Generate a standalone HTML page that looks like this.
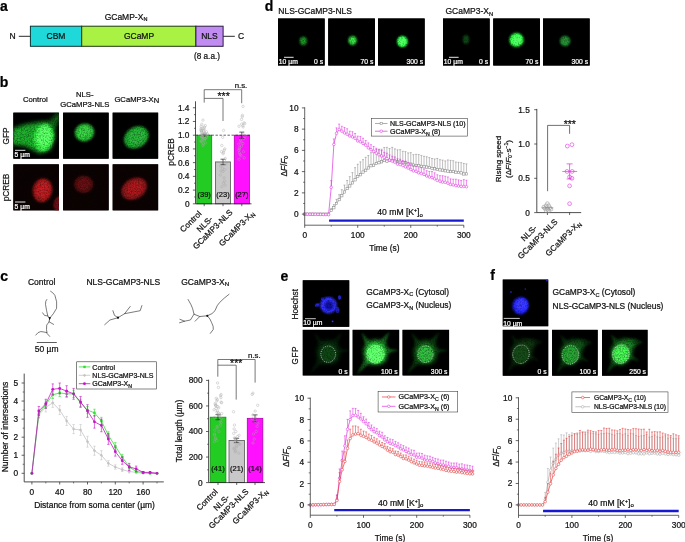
<!DOCTYPE html>
<html lang="en"><head><meta charset="utf-8"><title>GCaMP-XN figure</title>
<style>
html,body{margin:0;padding:0;background:#fff;}
body{width:685px;height:542px;overflow:hidden;font-family:"Liberation Sans",Arial,sans-serif;}
svg{display:block;}
svg text{font-family:"Liberation Sans",Arial,sans-serif;}
</style></head><body>
<svg width="685" height="542" viewBox="0 0 685 542" font-family='"Liberation Sans", Arial, sans-serif'>
<defs>
<filter id="b1" x="-50%" y="-50%" width="200%" height="200%"><feGaussianBlur stdDeviation="1"/></filter>
<filter id="b2" x="-50%" y="-50%" width="200%" height="200%"><feGaussianBlur stdDeviation="2"/></filter>
<filter id="b3" x="-50%" y="-50%" width="200%" height="200%"><feGaussianBlur stdDeviation="3"/></filter>
<filter id="b05" x="-50%" y="-50%" width="200%" height="200%"><feGaussianBlur stdDeviation="0.6"/></filter>
<filter id="noise" x="0" y="0" width="100%" height="100%" color-interpolation-filters="sRGB">
<feTurbulence type="fractalNoise" baseFrequency="0.7" numOctaves="2" seed="5" result="n"/>
<feColorMatrix in="n" type="matrix" values="0.9 0 0 0 0.42  0.9 0 0 0 0.42  0.9 0 0 0 0.42  0 0 0 0 1" result="m"/>
<feComposite in="SourceGraphic" in2="m" operator="arithmetic" k1="1.1" k2="0.05" k3="0" k4="0"/>
</filter>
</defs>
<rect width="685" height="542" fill="#fff"/>
<text x="0.00" y="10.70" font-size="14" text-anchor="start" fill="#000" stroke="#000" stroke-width="0.22" font-weight="bold">a</text>
<text x="-0.20" y="86.80" font-size="14" text-anchor="start" fill="#000" stroke="#000" stroke-width="0.22" font-weight="bold">b</text>
<text x="0.20" y="280.60" font-size="14" text-anchor="start" fill="#000" stroke="#000" stroke-width="0.22" font-weight="bold">c</text>
<text x="264.80" y="10.90" font-size="14" text-anchor="start" fill="#000" stroke="#000" stroke-width="0.22" font-weight="bold">d</text>
<text x="280.40" y="280.60" font-size="14" text-anchor="start" fill="#000" stroke="#000" stroke-width="0.22" font-weight="bold">e</text>
<text x="490.20" y="280.40" font-size="14" text-anchor="start" fill="#000" stroke="#000" stroke-width="0.22" font-weight="bold">f</text>
<text x="126.00" y="19.50" font-size="8.5" text-anchor="middle" fill="#111" stroke="#111" stroke-width="0.22">GCaMP-X<tspan dy="1.8" font-size="5.5">N</tspan><tspan dy="-1.8" font-size="1">&#8203;</tspan></text>
<line x1="18.80" y1="36.30" x2="30.40" y2="36.30" stroke="#111" stroke-width="0.9"/>
<line x1="223.00" y1="36.30" x2="234.80" y2="36.30" stroke="#111" stroke-width="0.9"/>
<rect x="30.40" y="26.20" width="51.30" height="20.10" fill="#1fd8da" stroke="#0c3434" stroke-width="1.0"/>
<rect x="81.70" y="26.20" width="114.20" height="20.10" fill="#a9f244" stroke="#1c3a0c" stroke-width="1.0"/>
<rect x="195.90" y="26.20" width="27.20" height="20.10" fill="#c08cf2" stroke="#2c1c44" stroke-width="1.0"/>
<text x="56.00" y="39.30" font-size="8.5" text-anchor="middle" fill="#111" stroke="#111" stroke-width="0.22">CBM</text>
<text x="139.00" y="39.30" font-size="8.5" text-anchor="middle" fill="#111" stroke="#111" stroke-width="0.22">GCaMP</text>
<text x="209.50" y="39.30" font-size="8.5" text-anchor="middle" fill="#111" stroke="#111" stroke-width="0.22">NLS</text>
<text x="12.50" y="39.30" font-size="8.5" text-anchor="middle" fill="#111" stroke="#111" stroke-width="0.22">N</text>
<text x="241.00" y="39.30" font-size="8.5" text-anchor="middle" fill="#111" stroke="#111" stroke-width="0.22">C</text>
<text x="207.00" y="58.50" font-size="8.2" text-anchor="middle" fill="#111" stroke="#111" stroke-width="0.22">(8 a.a.)</text>
<text x="35.30" y="101.50" font-size="7.7" text-anchor="middle" fill="#111" stroke="#111" stroke-width="0.22">Control</text>
<text x="84.80" y="97.30" font-size="7.7" text-anchor="middle" fill="#111" stroke="#111" stroke-width="0.22">NLS-</text>
<text x="84.80" y="107.20" font-size="7.7" text-anchor="middle" fill="#111" stroke="#111" stroke-width="0.22">GCaMP3-NLS</text>
<text x="136.80" y="101.50" font-size="7.7" text-anchor="middle" fill="#111" stroke="#111" stroke-width="0.22">GCaMP3-X<tspan dy="1.8" font-size="7.6">N</tspan><tspan dy="-1.8" font-size="1">&#8203;</tspan></text>
<text x="9.00" y="136.00" font-size="8.3" text-anchor="middle" fill="#111" stroke="#111" stroke-width="0.22" transform="rotate(-90 9.00 136.00)">GFP</text>
<text x="9.00" y="187.50" font-size="8.3" text-anchor="middle" fill="#111" stroke="#111" stroke-width="0.22" transform="rotate(-90 9.00 187.50)">pCREB</text>
<clipPath id="c1"><rect x="13.30" y="112.60" width="45.60" height="46.10"/></clipPath>
<rect x="13.30" y="112.60" width="45.60" height="46.10" fill="#000" stroke="none" stroke-width="0.7"/>
<g clip-path="url(#c1)"><g filter="url(#noise)">
<rect x="13.30" y="112.60" width="45.60" height="46.10" fill="#000"/>
<polygon points="47.00,123.00 60.00,111.00 60.00,120.00 54.00,130.00" fill="#14701c" opacity="0.8" filter="url(#b2)"/>
<polygon points="12.00,129.00 25.00,124.50 37.00,122.50 47.00,121.50 54.00,128.00 55.00,137.00 50.50,150.00 40.00,153.50 25.00,146.00 12.00,144.50" fill="#1fa42a" opacity="0.95" filter="url(#b2)"/>
<ellipse cx="43.80" cy="137.60" rx="9.8" ry="13.6" fill="#3ade46" opacity="1" transform="rotate(8 43.80 137.60)" filter="url(#b1)"/>
<ellipse cx="44.20" cy="136.50" rx="7" ry="10" fill="#58f862" opacity="0.85" transform="rotate(8 44.20 136.50)" filter="url(#b1)"/>
</g></g>
<clipPath id="c2"><rect x="63.10" y="112.60" width="45.60" height="46.10"/></clipPath>
<rect x="63.10" y="112.60" width="45.60" height="46.10" fill="#000" stroke="none" stroke-width="0.7"/>
<g clip-path="url(#c2)"><g filter="url(#noise)">
<rect x="63.10" y="112.60" width="45.60" height="46.10" fill="#000"/>
<ellipse cx="84.50" cy="132.40" rx="9.8" ry="9.0" fill="#27ac32" opacity="1" transform="rotate(-15 84.50 132.40)" filter="url(#b1)"/>
<ellipse cx="84.50" cy="132.00" rx="6.8" ry="6.0" fill="#38c842" opacity="0.7" transform="rotate(-15 84.50 132.00)" filter="url(#b1)"/>
</g></g>
<clipPath id="c3"><rect x="112.60" y="112.60" width="45.60" height="46.10"/></clipPath>
<rect x="112.60" y="112.60" width="45.60" height="46.10" fill="#000" stroke="none" stroke-width="0.7"/>
<g clip-path="url(#c3)"><g filter="url(#noise)">
<rect x="112.60" y="112.60" width="45.60" height="46.10" fill="#000"/>
<ellipse cx="136.30" cy="137.40" rx="13" ry="10.3" fill="#1e942a" opacity="1" transform="rotate(-32 136.30 137.40)" filter="url(#b1)"/>
<ellipse cx="136.80" cy="137.00" rx="9.5" ry="7.2" fill="#2cac3a" opacity="0.7" transform="rotate(-32 136.80 137.00)" filter="url(#b1)"/>
</g></g>
<clipPath id="c4"><rect x="13.30" y="164.30" width="45.60" height="46.10"/></clipPath>
<rect x="13.30" y="164.30" width="45.60" height="46.10" fill="#0a0202" stroke="none" stroke-width="0.7"/>
<g clip-path="url(#c4)"><g filter="url(#noise)">
<rect x="13.30" y="164.30" width="45.60" height="46.10" fill="#0a0202"/>
<ellipse cx="42.50" cy="190.30" rx="9.8" ry="12.0" fill="#8e1418" opacity="1" transform="rotate(12 42.50 190.30)" filter="url(#b1)"/>
<ellipse cx="42.80" cy="189.60" rx="7" ry="9" fill="#b81c20" opacity="0.75" transform="rotate(12 42.80 189.60)" filter="url(#b1)"/>
<ellipse cx="60.00" cy="205.00" rx="6.5" ry="9" fill="#701014" opacity="0.9" filter="url(#b1)"/>
</g></g>
<clipPath id="c5"><rect x="63.10" y="164.30" width="45.60" height="46.10"/></clipPath>
<rect x="63.10" y="164.30" width="45.60" height="46.10" fill="#0a0202" stroke="none" stroke-width="0.7"/>
<g clip-path="url(#c5)"><g filter="url(#noise)">
<rect x="63.10" y="164.30" width="45.60" height="46.10" fill="#0a0202"/>
<ellipse cx="83.70" cy="184.30" rx="9.6" ry="8.8" fill="#4c0b0e" opacity="1" filter="url(#b1)"/>
<ellipse cx="83.70" cy="184.30" rx="6" ry="5.5" fill="#661014" opacity="0.7" filter="url(#b1)"/>
</g></g>
<clipPath id="c6"><rect x="112.60" y="164.30" width="45.60" height="46.10"/></clipPath>
<rect x="112.60" y="164.30" width="45.60" height="46.10" fill="#0a0202" stroke="none" stroke-width="0.7"/>
<g clip-path="url(#c6)"><g filter="url(#noise)">
<rect x="112.60" y="164.30" width="45.60" height="46.10" fill="#0a0202"/>
<ellipse cx="134.20" cy="188.80" rx="13.6" ry="10.2" fill="#7c1218" opacity="1" transform="rotate(-30 134.20 188.80)" filter="url(#b1)"/>
<ellipse cx="134.50" cy="188.50" rx="9.5" ry="6.8" fill="#a4181e" opacity="0.75" transform="rotate(-30 134.50 188.50)" filter="url(#b1)"/>
</g></g>
<line x1="15.00" y1="150.30" x2="25.40" y2="150.30" stroke="#fff" stroke-width="0.9"/>
<line x1="15.00" y1="202.00" x2="25.40" y2="202.00" stroke="#fff" stroke-width="0.9"/>
<text x="14.60" y="157.20" font-size="6.8" text-anchor="start" fill="#fff" stroke="#fff" stroke-width="0.22">5 µm</text>
<text x="14.60" y="208.90" font-size="6.8" text-anchor="start" fill="#fff" stroke="#fff" stroke-width="0.22">5 µm</text>
<rect x="196.80" y="135.20" width="14.90" height="68.60" fill="#22cc22" stroke="#168a16" stroke-width="0.8"/>
<rect x="215.40" y="161.95" width="15.10" height="41.85" fill="#c8c8c8" stroke="#555" stroke-width="0.8"/>
<rect x="234.30" y="135.20" width="15.10" height="68.60" fill="#ff10ff" stroke="#b000b0" stroke-width="0.8"/>
<line x1="195.50" y1="135.20" x2="251.50" y2="135.20" stroke="#222" stroke-width="0.7" stroke-dasharray="2.4 1.6"/>
<line x1="204.20" y1="134.17" x2="204.20" y2="136.23" stroke="#222" stroke-width="0.7"/>
<line x1="201.70" y1="134.17" x2="206.70" y2="134.17" stroke="#222" stroke-width="0.7"/>
<line x1="201.70" y1="136.23" x2="206.70" y2="136.23" stroke="#222" stroke-width="0.7"/>
<line x1="223.00" y1="159.21" x2="223.00" y2="164.70" stroke="#222" stroke-width="0.7"/>
<line x1="220.50" y1="159.21" x2="225.50" y2="159.21" stroke="#222" stroke-width="0.7"/>
<line x1="220.50" y1="164.70" x2="225.50" y2="164.70" stroke="#222" stroke-width="0.7"/>
<line x1="241.80" y1="132.11" x2="241.80" y2="138.29" stroke="#222" stroke-width="0.7"/>
<line x1="239.30" y1="132.11" x2="244.30" y2="132.11" stroke="#222" stroke-width="0.7"/>
<line x1="239.30" y1="138.29" x2="244.30" y2="138.29" stroke="#222" stroke-width="0.7"/>
<circle cx="202.97" cy="120.11" r="1.2" fill="none" stroke="#a8a8a8" stroke-width="0.5" opacity="0.8"/>
<circle cx="201.76" cy="124.22" r="1.2" fill="none" stroke="#a8a8a8" stroke-width="0.5" opacity="0.8"/>
<circle cx="205.26" cy="125.60" r="1.2" fill="none" stroke="#a8a8a8" stroke-width="0.5" opacity="0.8"/>
<circle cx="201.21" cy="126.28" r="1.2" fill="none" stroke="#a8a8a8" stroke-width="0.5" opacity="0.8"/>
<circle cx="204.45" cy="126.97" r="1.2" fill="none" stroke="#a8a8a8" stroke-width="0.5" opacity="0.8"/>
<circle cx="203.26" cy="128.34" r="1.2" fill="none" stroke="#a8a8a8" stroke-width="0.5" opacity="0.8"/>
<circle cx="201.11" cy="128.34" r="1.2" fill="none" stroke="#a8a8a8" stroke-width="0.5" opacity="0.8"/>
<circle cx="204.25" cy="129.03" r="1.2" fill="none" stroke="#a8a8a8" stroke-width="0.5" opacity="0.8"/>
<circle cx="200.96" cy="129.71" r="1.2" fill="none" stroke="#a8a8a8" stroke-width="0.5" opacity="0.8"/>
<circle cx="203.74" cy="130.40" r="1.2" fill="none" stroke="#a8a8a8" stroke-width="0.5" opacity="0.8"/>
<circle cx="201.19" cy="130.40" r="1.2" fill="none" stroke="#a8a8a8" stroke-width="0.5" opacity="0.8"/>
<circle cx="201.33" cy="131.08" r="1.2" fill="none" stroke="#a8a8a8" stroke-width="0.5" opacity="0.8"/>
<circle cx="203.67" cy="131.77" r="1.2" fill="none" stroke="#a8a8a8" stroke-width="0.5" opacity="0.8"/>
<circle cx="206.49" cy="131.77" r="1.2" fill="none" stroke="#a8a8a8" stroke-width="0.5" opacity="0.8"/>
<circle cx="201.57" cy="132.46" r="1.2" fill="none" stroke="#a8a8a8" stroke-width="0.5" opacity="0.8"/>
<circle cx="202.26" cy="133.14" r="1.2" fill="none" stroke="#a8a8a8" stroke-width="0.5" opacity="0.8"/>
<circle cx="205.09" cy="133.14" r="1.2" fill="none" stroke="#a8a8a8" stroke-width="0.5" opacity="0.8"/>
<circle cx="207.33" cy="133.83" r="1.2" fill="none" stroke="#a8a8a8" stroke-width="0.5" opacity="0.8"/>
<circle cx="204.74" cy="133.83" r="1.2" fill="none" stroke="#a8a8a8" stroke-width="0.5" opacity="0.8"/>
<circle cx="203.48" cy="134.51" r="1.2" fill="none" stroke="#a8a8a8" stroke-width="0.5" opacity="0.8"/>
<circle cx="207.53" cy="135.20" r="1.2" fill="none" stroke="#a8a8a8" stroke-width="0.5" opacity="0.8"/>
<circle cx="201.03" cy="135.20" r="1.2" fill="none" stroke="#a8a8a8" stroke-width="0.5" opacity="0.8"/>
<circle cx="206.71" cy="135.89" r="1.2" fill="none" stroke="#a8a8a8" stroke-width="0.5" opacity="0.8"/>
<circle cx="202.73" cy="135.89" r="1.2" fill="none" stroke="#a8a8a8" stroke-width="0.5" opacity="0.8"/>
<circle cx="201.71" cy="136.57" r="1.2" fill="none" stroke="#a8a8a8" stroke-width="0.5" opacity="0.8"/>
<circle cx="201.52" cy="136.57" r="1.2" fill="none" stroke="#a8a8a8" stroke-width="0.5" opacity="0.8"/>
<circle cx="202.86" cy="137.26" r="1.2" fill="none" stroke="#a8a8a8" stroke-width="0.5" opacity="0.8"/>
<circle cx="206.41" cy="137.26" r="1.2" fill="none" stroke="#a8a8a8" stroke-width="0.5" opacity="0.8"/>
<circle cx="201.97" cy="137.94" r="1.2" fill="none" stroke="#a8a8a8" stroke-width="0.5" opacity="0.8"/>
<circle cx="204.77" cy="138.63" r="1.2" fill="none" stroke="#a8a8a8" stroke-width="0.5" opacity="0.8"/>
<circle cx="205.17" cy="138.63" r="1.2" fill="none" stroke="#a8a8a8" stroke-width="0.5" opacity="0.8"/>
<circle cx="203.31" cy="139.32" r="1.2" fill="none" stroke="#a8a8a8" stroke-width="0.5" opacity="0.8"/>
<circle cx="204.53" cy="140.00" r="1.2" fill="none" stroke="#a8a8a8" stroke-width="0.5" opacity="0.8"/>
<circle cx="201.14" cy="140.69" r="1.2" fill="none" stroke="#a8a8a8" stroke-width="0.5" opacity="0.8"/>
<circle cx="201.12" cy="141.37" r="1.2" fill="none" stroke="#a8a8a8" stroke-width="0.5" opacity="0.8"/>
<circle cx="202.14" cy="142.06" r="1.2" fill="none" stroke="#a8a8a8" stroke-width="0.5" opacity="0.8"/>
<circle cx="205.46" cy="142.75" r="1.2" fill="none" stroke="#a8a8a8" stroke-width="0.5" opacity="0.8"/>
<circle cx="203.69" cy="144.12" r="1.2" fill="none" stroke="#a8a8a8" stroke-width="0.5" opacity="0.8"/>
<circle cx="202.90" cy="145.49" r="1.2" fill="none" stroke="#a8a8a8" stroke-width="0.5" opacity="0.8"/>
<circle cx="223.51" cy="130.40" r="1.2" fill="none" stroke="#a8a8a8" stroke-width="0.5" opacity="0.8"/>
<circle cx="222.72" cy="137.26" r="1.2" fill="none" stroke="#a8a8a8" stroke-width="0.5" opacity="0.8"/>
<circle cx="221.80" cy="145.49" r="1.2" fill="none" stroke="#a8a8a8" stroke-width="0.5" opacity="0.8"/>
<circle cx="224.77" cy="148.92" r="1.2" fill="none" stroke="#a8a8a8" stroke-width="0.5" opacity="0.8"/>
<circle cx="224.19" cy="150.29" r="1.2" fill="none" stroke="#a8a8a8" stroke-width="0.5" opacity="0.8"/>
<circle cx="221.46" cy="151.66" r="1.2" fill="none" stroke="#a8a8a8" stroke-width="0.5" opacity="0.8"/>
<circle cx="223.45" cy="152.35" r="1.2" fill="none" stroke="#a8a8a8" stroke-width="0.5" opacity="0.8"/>
<circle cx="223.15" cy="153.72" r="1.2" fill="none" stroke="#a8a8a8" stroke-width="0.5" opacity="0.8"/>
<circle cx="225.25" cy="158.52" r="1.2" fill="none" stroke="#a8a8a8" stroke-width="0.5" opacity="0.8"/>
<circle cx="224.38" cy="160.58" r="1.2" fill="none" stroke="#a8a8a8" stroke-width="0.5" opacity="0.8"/>
<circle cx="221.73" cy="162.64" r="1.2" fill="none" stroke="#a8a8a8" stroke-width="0.5" opacity="0.8"/>
<circle cx="225.88" cy="164.01" r="1.2" fill="none" stroke="#a8a8a8" stroke-width="0.5" opacity="0.8"/>
<circle cx="220.71" cy="166.07" r="1.2" fill="none" stroke="#a8a8a8" stroke-width="0.5" opacity="0.8"/>
<circle cx="222.51" cy="168.13" r="1.2" fill="none" stroke="#a8a8a8" stroke-width="0.5" opacity="0.8"/>
<circle cx="224.54" cy="169.50" r="1.2" fill="none" stroke="#a8a8a8" stroke-width="0.5" opacity="0.8"/>
<circle cx="220.91" cy="170.87" r="1.2" fill="none" stroke="#a8a8a8" stroke-width="0.5" opacity="0.8"/>
<circle cx="222.93" cy="171.56" r="1.2" fill="none" stroke="#a8a8a8" stroke-width="0.5" opacity="0.8"/>
<circle cx="220.24" cy="174.99" r="1.2" fill="none" stroke="#a8a8a8" stroke-width="0.5" opacity="0.8"/>
<circle cx="224.01" cy="177.73" r="1.2" fill="none" stroke="#a8a8a8" stroke-width="0.5" opacity="0.8"/>
<circle cx="224.59" cy="181.16" r="1.2" fill="none" stroke="#a8a8a8" stroke-width="0.5" opacity="0.8"/>
<circle cx="223.44" cy="183.22" r="1.2" fill="none" stroke="#a8a8a8" stroke-width="0.5" opacity="0.8"/>
<circle cx="225.25" cy="185.28" r="1.2" fill="none" stroke="#a8a8a8" stroke-width="0.5" opacity="0.8"/>
<circle cx="221.88" cy="186.65" r="1.2" fill="none" stroke="#a8a8a8" stroke-width="0.5" opacity="0.8"/>
<circle cx="243.05" cy="106.39" r="1.2" fill="none" stroke="#a8a8a8" stroke-width="0.5" opacity="0.8"/>
<circle cx="242.40" cy="115.31" r="1.2" fill="none" stroke="#a8a8a8" stroke-width="0.5" opacity="0.8"/>
<circle cx="242.31" cy="116.68" r="1.2" fill="none" stroke="#a8a8a8" stroke-width="0.5" opacity="0.8"/>
<circle cx="241.52" cy="119.42" r="1.2" fill="none" stroke="#a8a8a8" stroke-width="0.5" opacity="0.8"/>
<circle cx="243.98" cy="122.85" r="1.2" fill="none" stroke="#a8a8a8" stroke-width="0.5" opacity="0.8"/>
<circle cx="244.65" cy="123.54" r="1.2" fill="none" stroke="#a8a8a8" stroke-width="0.5" opacity="0.8"/>
<circle cx="241.63" cy="124.22" r="1.2" fill="none" stroke="#a8a8a8" stroke-width="0.5" opacity="0.8"/>
<circle cx="242.85" cy="125.60" r="1.2" fill="none" stroke="#a8a8a8" stroke-width="0.5" opacity="0.8"/>
<circle cx="238.99" cy="126.28" r="1.2" fill="none" stroke="#a8a8a8" stroke-width="0.5" opacity="0.8"/>
<circle cx="243.09" cy="126.97" r="1.2" fill="none" stroke="#a8a8a8" stroke-width="0.5" opacity="0.8"/>
<circle cx="242.74" cy="133.83" r="1.2" fill="none" stroke="#a8a8a8" stroke-width="0.5" opacity="0.8"/>
<circle cx="244.96" cy="136.57" r="1.2" fill="none" stroke="#a8a8a8" stroke-width="0.5" opacity="0.8"/>
<circle cx="243.86" cy="138.63" r="1.2" fill="none" stroke="#a8a8a8" stroke-width="0.5" opacity="0.8"/>
<circle cx="240.42" cy="140.00" r="1.2" fill="none" stroke="#a8a8a8" stroke-width="0.5" opacity="0.8"/>
<circle cx="241.07" cy="142.06" r="1.2" fill="none" stroke="#a8a8a8" stroke-width="0.5" opacity="0.8"/>
<circle cx="242.88" cy="143.43" r="1.2" fill="none" stroke="#a8a8a8" stroke-width="0.5" opacity="0.8"/>
<circle cx="238.74" cy="144.12" r="1.2" fill="none" stroke="#a8a8a8" stroke-width="0.5" opacity="0.8"/>
<circle cx="241.55" cy="146.18" r="1.2" fill="none" stroke="#a8a8a8" stroke-width="0.5" opacity="0.8"/>
<circle cx="239.68" cy="147.55" r="1.2" fill="none" stroke="#a8a8a8" stroke-width="0.5" opacity="0.8"/>
<circle cx="239.35" cy="148.92" r="1.2" fill="none" stroke="#a8a8a8" stroke-width="0.5" opacity="0.8"/>
<circle cx="238.98" cy="150.29" r="1.2" fill="none" stroke="#a8a8a8" stroke-width="0.5" opacity="0.8"/>
<circle cx="243.52" cy="151.66" r="1.2" fill="none" stroke="#a8a8a8" stroke-width="0.5" opacity="0.8"/>
<circle cx="239.43" cy="153.04" r="1.2" fill="none" stroke="#a8a8a8" stroke-width="0.5" opacity="0.8"/>
<circle cx="240.18" cy="154.41" r="1.2" fill="none" stroke="#a8a8a8" stroke-width="0.5" opacity="0.8"/>
<circle cx="241.10" cy="155.78" r="1.2" fill="none" stroke="#a8a8a8" stroke-width="0.5" opacity="0.8"/>
<circle cx="244.18" cy="157.84" r="1.2" fill="none" stroke="#a8a8a8" stroke-width="0.5" opacity="0.8"/>
<circle cx="239.12" cy="159.21" r="1.2" fill="none" stroke="#a8a8a8" stroke-width="0.5" opacity="0.8"/>
<line x1="195.50" y1="101.30" x2="195.50" y2="203.80" stroke="#222" stroke-width="0.8"/>
<line x1="195.50" y1="203.80" x2="251.50" y2="203.80" stroke="#222" stroke-width="0.8"/>
<line x1="192.90" y1="203.80" x2="195.50" y2="203.80" stroke="#222" stroke-width="0.7"/>
<text x="189.50" y="206.70" font-size="8.3" text-anchor="end" fill="#111" stroke="#111" stroke-width="0.22">0</text>
<line x1="194.00" y1="196.94" x2="195.50" y2="196.94" stroke="#222" stroke-width="0.6"/>
<line x1="192.90" y1="190.08" x2="195.50" y2="190.08" stroke="#222" stroke-width="0.7"/>
<text x="189.50" y="192.98" font-size="8.3" text-anchor="end" fill="#111" stroke="#111" stroke-width="0.22">0.2</text>
<line x1="194.00" y1="183.22" x2="195.50" y2="183.22" stroke="#222" stroke-width="0.6"/>
<line x1="192.90" y1="176.36" x2="195.50" y2="176.36" stroke="#222" stroke-width="0.7"/>
<text x="189.50" y="179.26" font-size="8.3" text-anchor="end" fill="#111" stroke="#111" stroke-width="0.22">0.4</text>
<line x1="194.00" y1="169.50" x2="195.50" y2="169.50" stroke="#222" stroke-width="0.6"/>
<line x1="192.90" y1="162.64" x2="195.50" y2="162.64" stroke="#222" stroke-width="0.7"/>
<text x="189.50" y="165.54" font-size="8.3" text-anchor="end" fill="#111" stroke="#111" stroke-width="0.22">0.6</text>
<line x1="194.00" y1="155.78" x2="195.50" y2="155.78" stroke="#222" stroke-width="0.6"/>
<line x1="192.90" y1="148.92" x2="195.50" y2="148.92" stroke="#222" stroke-width="0.7"/>
<text x="189.50" y="151.82" font-size="8.3" text-anchor="end" fill="#111" stroke="#111" stroke-width="0.22">0.8</text>
<line x1="194.00" y1="142.06" x2="195.50" y2="142.06" stroke="#222" stroke-width="0.6"/>
<line x1="192.90" y1="135.20" x2="195.50" y2="135.20" stroke="#222" stroke-width="0.7"/>
<text x="189.50" y="138.10" font-size="8.3" text-anchor="end" fill="#111" stroke="#111" stroke-width="0.22">1.0</text>
<line x1="194.00" y1="128.34" x2="195.50" y2="128.34" stroke="#222" stroke-width="0.6"/>
<line x1="192.90" y1="121.48" x2="195.50" y2="121.48" stroke="#222" stroke-width="0.7"/>
<text x="189.50" y="124.38" font-size="8.3" text-anchor="end" fill="#111" stroke="#111" stroke-width="0.22">1.2</text>
<line x1="194.00" y1="114.62" x2="195.50" y2="114.62" stroke="#222" stroke-width="0.6"/>
<line x1="192.90" y1="107.76" x2="195.50" y2="107.76" stroke="#222" stroke-width="0.7"/>
<text x="189.50" y="110.66" font-size="8.3" text-anchor="end" fill="#111" stroke="#111" stroke-width="0.22">1.4</text>
<line x1="204.20" y1="203.80" x2="204.20" y2="206.20" stroke="#222" stroke-width="0.7"/>
<line x1="223.00" y1="203.80" x2="223.00" y2="206.20" stroke="#222" stroke-width="0.7"/>
<line x1="241.80" y1="203.80" x2="241.80" y2="206.20" stroke="#222" stroke-width="0.7"/>
<text x="173.50" y="152.00" font-size="8.2" text-anchor="middle" fill="#111" stroke="#111" stroke-width="0.22" transform="rotate(-90 173.50 152.00)">pCREB</text>
<text x="204.20" y="197.00" font-size="7.5" text-anchor="middle" fill="#111" stroke="#111" stroke-width="0.22">(39)</text>
<text x="223.00" y="197.00" font-size="7.5" text-anchor="middle" fill="#111" stroke="#111" stroke-width="0.22">(23)</text>
<text x="241.80" y="197.00" font-size="7.5" text-anchor="middle" fill="#111" stroke="#111" stroke-width="0.22">(27)</text>
<polyline points="204.20,102.60 204.20,89.70 241.70,89.70 241.70,103.20" fill="none" stroke="#555" stroke-width="0.8" stroke-linejoin="round"/>
<polyline points="204.20,98.40 223.00,98.40 223.00,121.00" fill="none" stroke="#555" stroke-width="0.8" stroke-linejoin="round"/>
<text x="223.60" y="100.20" font-size="10.5" text-anchor="middle" fill="#111" stroke="#111" stroke-width="0.22">***</text>
<text x="241.00" y="88.10" font-size="7.8" text-anchor="middle" fill="#111" stroke="#111" stroke-width="0.22">n.s.</text>
<text x="202.00" y="214.20" font-size="8.2" text-anchor="end" fill="#111" stroke="#111" stroke-width="0.22" transform="rotate(-45 202.00 214.20)">Control</text>
<text x="213.30" y="219.50" font-size="8.2" text-anchor="end" fill="#111" stroke="#111" stroke-width="0.22" transform="rotate(-45 213.30 219.50)">NLS-</text>
<text x="233.20" y="212.80" font-size="8.2" text-anchor="end" fill="#111" stroke="#111" stroke-width="0.22" transform="rotate(-45 233.20 212.80)">GCaMP3-NLS</text>
<text x="255.00" y="214.00" font-size="8.2" text-anchor="end" fill="#111" stroke="#111" stroke-width="0.22" transform="rotate(-45 255.00 214.00)">GCaMP3-X<tspan dy="1.6" font-size="6">N</tspan><tspan dy="-1.6" font-size="1">&#8203;</tspan></text>
<text x="41.70" y="284.50" font-size="8.5" text-anchor="middle" fill="#111" stroke="#111" stroke-width="0.22">Control</text>
<text x="123.30" y="284.50" font-size="8.5" text-anchor="middle" fill="#111" stroke="#111" stroke-width="0.22">NLS-GCaMP3-NLS</text>
<text x="205.20" y="284.50" font-size="8.5" text-anchor="middle" fill="#111" stroke="#111" stroke-width="0.22">GCaMP3-X<tspan dy="1.9" font-size="6.2">N</tspan><tspan dy="-1.9" font-size="1">&#8203;</tspan></text>
<path d="M49.7 318.3 Q53.6 314.1 56.6 308.3 Q57.5 301.8 54.9 295.3 Q53 292.5 50.6 291.2" fill="none" stroke="#222" stroke-width="0.6" stroke-linecap="round" stroke-linejoin="round"/>
<path d="M49.7 318.3 L47.8 316 Q46.5 310.8 45.5 304.4 Q45.3 300.8 46.7 299.5" fill="none" stroke="#222" stroke-width="0.6" stroke-linecap="round" stroke-linejoin="round"/>
<path d="M47.8 316 L44.5 315.4 L42.6 312.8" fill="none" stroke="#222" stroke-width="0.6" stroke-linecap="round" stroke-linejoin="round"/>
<path d="M49.7 318.3 L49.1 321.8 L46.7 325.1 L46.5 329.6 L47.1 333.5 L49.7 336.4" fill="none" stroke="#222" stroke-width="0.6" stroke-linecap="round" stroke-linejoin="round"/>
<path d="M49.1 321.8 L53.6 324.4" fill="none" stroke="#222" stroke-width="0.6" stroke-linecap="round" stroke-linejoin="round"/>
<path d="M46.8 332.6 L43.9 332 Q40.7 330.8 38.1 332.6 L35.8 335.1" fill="none" stroke="#222" stroke-width="0.6" stroke-linecap="round" stroke-linejoin="round"/>
<path d="M48.4 317 L51 317.2 L49.6 320.2 Z" fill="#111"/>
<line x1="36.80" y1="342.50" x2="56.80" y2="342.50" stroke="#333" stroke-width="0.8"/>
<text x="46.70" y="351.80" font-size="8.5" text-anchor="middle" fill="#111" stroke="#111" stroke-width="0.22">50 µm</text>
<path d="M118 317.7 L124.6 313.7 L140.2 310.7 L141.9 305.6" fill="none" stroke="#222" stroke-width="0.6" stroke-linecap="round" stroke-linejoin="round"/>
<path d="M124.6 313.7 L130.2 306.5" fill="none" stroke="#222" stroke-width="0.6" stroke-linecap="round" stroke-linejoin="round"/>
<path d="M118 317.7 L114.5 315.4 L112.9 310.7" fill="none" stroke="#222" stroke-width="0.6" stroke-linecap="round" stroke-linejoin="round"/>
<path d="M118 317.7 L109.9 320 L104.7 324.7" fill="none" stroke="#222" stroke-width="0.6" stroke-linecap="round" stroke-linejoin="round"/>
<circle cx="118.00" cy="317.70" r="1.1" fill="#111" stroke="none" stroke-width="0.6"/>
<path d="M207.3 315.8 Q213 314 215 310.7 Q217 305 219.6 302.5 Q224 298 229 294.3" fill="none" stroke="#222" stroke-width="0.6" stroke-linecap="round" stroke-linejoin="round"/>
<path d="M207.3 315.8 L199.8 316.5 L194 314.2 Q192.8 308 191.1 304.9 L188.1 299.5" fill="none" stroke="#222" stroke-width="0.6" stroke-linecap="round" stroke-linejoin="round"/>
<path d="M199.8 316.5 L195.1 321.2" fill="none" stroke="#222" stroke-width="0.6" stroke-linecap="round" stroke-linejoin="round"/>
<path d="M194 314.2 L190.4 320 L184.6 321.2 L179.5 322.8" fill="none" stroke="#222" stroke-width="0.6" stroke-linecap="round" stroke-linejoin="round"/>
<path d="M184.6 321.2 L179.9 319.3" fill="none" stroke="#222" stroke-width="0.6" stroke-linecap="round" stroke-linejoin="round"/>
<path d="M207.3 315.8 Q210.5 319 211.5 322.4 Q213.8 326.5 213.3 329.4 L210.3 333.4" fill="none" stroke="#222" stroke-width="0.6" stroke-linecap="round" stroke-linejoin="round"/>
<circle cx="207.30" cy="315.80" r="1.1" fill="#111" stroke="none" stroke-width="0.6"/>
<line x1="38.85" y1="410.99" x2="38.85" y2="418.22" stroke="#c4c4c4" stroke-width="0.6"/>
<line x1="37.65" y1="410.99" x2="40.05" y2="410.99" stroke="#c4c4c4" stroke-width="0.6"/>
<line x1="37.65" y1="418.22" x2="40.05" y2="418.22" stroke="#c4c4c4" stroke-width="0.6"/>
<line x1="45.80" y1="402.87" x2="45.80" y2="411.90" stroke="#c4c4c4" stroke-width="0.6"/>
<line x1="44.60" y1="402.87" x2="47.00" y2="402.87" stroke="#c4c4c4" stroke-width="0.6"/>
<line x1="44.60" y1="411.90" x2="47.00" y2="411.90" stroke="#c4c4c4" stroke-width="0.6"/>
<line x1="52.75" y1="398.35" x2="52.75" y2="407.38" stroke="#c4c4c4" stroke-width="0.6"/>
<line x1="51.55" y1="398.35" x2="53.95" y2="398.35" stroke="#c4c4c4" stroke-width="0.6"/>
<line x1="51.55" y1="407.38" x2="53.95" y2="407.38" stroke="#c4c4c4" stroke-width="0.6"/>
<line x1="59.70" y1="405.58" x2="59.70" y2="414.61" stroke="#c4c4c4" stroke-width="0.6"/>
<line x1="58.50" y1="405.58" x2="60.90" y2="405.58" stroke="#c4c4c4" stroke-width="0.6"/>
<line x1="58.50" y1="414.61" x2="60.90" y2="414.61" stroke="#c4c4c4" stroke-width="0.6"/>
<line x1="66.65" y1="416.41" x2="66.65" y2="425.44" stroke="#c4c4c4" stroke-width="0.6"/>
<line x1="65.45" y1="416.41" x2="67.85" y2="416.41" stroke="#c4c4c4" stroke-width="0.6"/>
<line x1="65.45" y1="425.44" x2="67.85" y2="425.44" stroke="#c4c4c4" stroke-width="0.6"/>
<line x1="73.60" y1="424.54" x2="73.60" y2="433.57" stroke="#c4c4c4" stroke-width="0.6"/>
<line x1="72.40" y1="424.54" x2="74.80" y2="424.54" stroke="#c4c4c4" stroke-width="0.6"/>
<line x1="72.40" y1="433.57" x2="74.80" y2="433.57" stroke="#c4c4c4" stroke-width="0.6"/>
<line x1="80.55" y1="424.54" x2="80.55" y2="435.37" stroke="#c4c4c4" stroke-width="0.6"/>
<line x1="79.35" y1="424.54" x2="81.75" y2="424.54" stroke="#c4c4c4" stroke-width="0.6"/>
<line x1="79.35" y1="435.37" x2="81.75" y2="435.37" stroke="#c4c4c4" stroke-width="0.6"/>
<line x1="87.50" y1="436.28" x2="87.50" y2="447.11" stroke="#c4c4c4" stroke-width="0.6"/>
<line x1="86.30" y1="436.28" x2="88.70" y2="436.28" stroke="#c4c4c4" stroke-width="0.6"/>
<line x1="86.30" y1="447.11" x2="88.70" y2="447.11" stroke="#c4c4c4" stroke-width="0.6"/>
<line x1="94.45" y1="446.21" x2="94.45" y2="455.24" stroke="#c4c4c4" stroke-width="0.6"/>
<line x1="93.25" y1="446.21" x2="95.65" y2="446.21" stroke="#c4c4c4" stroke-width="0.6"/>
<line x1="93.25" y1="455.24" x2="95.65" y2="455.24" stroke="#c4c4c4" stroke-width="0.6"/>
<line x1="101.40" y1="450.73" x2="101.40" y2="459.75" stroke="#c4c4c4" stroke-width="0.6"/>
<line x1="100.20" y1="450.73" x2="102.60" y2="450.73" stroke="#c4c4c4" stroke-width="0.6"/>
<line x1="100.20" y1="459.75" x2="102.60" y2="459.75" stroke="#c4c4c4" stroke-width="0.6"/>
<line x1="108.35" y1="460.66" x2="108.35" y2="466.08" stroke="#c4c4c4" stroke-width="0.6"/>
<line x1="107.15" y1="460.66" x2="109.55" y2="460.66" stroke="#c4c4c4" stroke-width="0.6"/>
<line x1="107.15" y1="466.08" x2="109.55" y2="466.08" stroke="#c4c4c4" stroke-width="0.6"/>
<line x1="115.30" y1="464.81" x2="115.30" y2="469.15" stroke="#c4c4c4" stroke-width="0.6"/>
<line x1="114.10" y1="464.81" x2="116.50" y2="464.81" stroke="#c4c4c4" stroke-width="0.6"/>
<line x1="114.10" y1="469.15" x2="116.50" y2="469.15" stroke="#c4c4c4" stroke-width="0.6"/>
<line x1="122.25" y1="467.88" x2="122.25" y2="471.49" stroke="#c4c4c4" stroke-width="0.6"/>
<line x1="121.05" y1="467.88" x2="123.45" y2="467.88" stroke="#c4c4c4" stroke-width="0.6"/>
<line x1="121.05" y1="471.49" x2="123.45" y2="471.49" stroke="#c4c4c4" stroke-width="0.6"/>
<line x1="129.20" y1="470.05" x2="129.20" y2="472.94" stroke="#c4c4c4" stroke-width="0.6"/>
<line x1="128.00" y1="470.05" x2="130.40" y2="470.05" stroke="#c4c4c4" stroke-width="0.6"/>
<line x1="128.00" y1="472.94" x2="130.40" y2="472.94" stroke="#c4c4c4" stroke-width="0.6"/>
<line x1="136.15" y1="471.49" x2="136.15" y2="473.30" stroke="#c4c4c4" stroke-width="0.6"/>
<line x1="134.95" y1="471.49" x2="137.35" y2="471.49" stroke="#c4c4c4" stroke-width="0.6"/>
<line x1="134.95" y1="473.30" x2="137.35" y2="473.30" stroke="#c4c4c4" stroke-width="0.6"/>
<polyline points="31.90,473.30 38.85,414.61 45.80,407.38 52.75,402.87 59.70,410.09 66.65,420.93 73.60,429.05 80.55,429.96 87.50,441.69 94.45,450.73 101.40,455.24 108.35,463.37 115.30,466.98 122.25,469.69 129.20,471.49 136.15,472.40 143.10,473.30 150.05,473.30 157.00,473.30" fill="none" stroke="#c4c4c4" stroke-width="0.8" stroke-linejoin="round"/>
<path d="M31.90 471.70 L33.50 473.30 L31.90 474.90 L30.30 473.30 Z" fill="#c4c4c4"/>
<path d="M38.85 413.00 L40.45 414.61 L38.85 416.21 L37.25 414.61 Z" fill="#c4c4c4"/>
<path d="M45.80 405.78 L47.40 407.38 L45.80 408.98 L44.20 407.38 Z" fill="#c4c4c4"/>
<path d="M52.75 401.27 L54.35 402.87 L52.75 404.47 L51.15 402.87 Z" fill="#c4c4c4"/>
<path d="M59.70 408.49 L61.30 410.09 L59.70 411.69 L58.10 410.09 Z" fill="#c4c4c4"/>
<path d="M66.65 419.33 L68.25 420.93 L66.65 422.53 L65.05 420.93 Z" fill="#c4c4c4"/>
<path d="M73.60 427.45 L75.20 429.05 L73.60 430.65 L72.00 429.05 Z" fill="#c4c4c4"/>
<path d="M80.55 428.36 L82.15 429.96 L80.55 431.56 L78.95 429.96 Z" fill="#c4c4c4"/>
<path d="M87.50 440.09 L89.10 441.69 L87.50 443.30 L85.90 441.69 Z" fill="#c4c4c4"/>
<path d="M94.45 449.12 L96.05 450.73 L94.45 452.33 L92.85 450.73 Z" fill="#c4c4c4"/>
<path d="M101.40 453.64 L103.00 455.24 L101.40 456.84 L99.80 455.24 Z" fill="#c4c4c4"/>
<path d="M108.35 461.77 L109.95 463.37 L108.35 464.97 L106.75 463.37 Z" fill="#c4c4c4"/>
<path d="M115.30 465.38 L116.90 466.98 L115.30 468.58 L113.70 466.98 Z" fill="#c4c4c4"/>
<path d="M122.25 468.09 L123.85 469.69 L122.25 471.29 L120.65 469.69 Z" fill="#c4c4c4"/>
<path d="M129.20 469.89 L130.80 471.49 L129.20 473.09 L127.60 471.49 Z" fill="#c4c4c4"/>
<path d="M136.15 470.80 L137.75 472.40 L136.15 474.00 L134.55 472.40 Z" fill="#c4c4c4"/>
<path d="M143.10 471.70 L144.70 473.30 L143.10 474.90 L141.50 473.30 Z" fill="#c4c4c4"/>
<path d="M150.05 471.70 L151.65 473.30 L150.05 474.90 L148.45 473.30 Z" fill="#c4c4c4"/>
<path d="M157.00 471.70 L158.60 473.30 L157.00 474.90 L155.40 473.30 Z" fill="#c4c4c4"/>
<line x1="38.85" y1="410.09" x2="38.85" y2="417.31" stroke="#33dd33" stroke-width="0.6"/>
<line x1="37.65" y1="410.09" x2="40.05" y2="410.09" stroke="#33dd33" stroke-width="0.6"/>
<line x1="37.65" y1="417.31" x2="40.05" y2="417.31" stroke="#33dd33" stroke-width="0.6"/>
<line x1="45.80" y1="401.06" x2="45.80" y2="408.28" stroke="#33dd33" stroke-width="0.6"/>
<line x1="44.60" y1="401.06" x2="47.00" y2="401.06" stroke="#33dd33" stroke-width="0.6"/>
<line x1="44.60" y1="408.28" x2="47.00" y2="408.28" stroke="#33dd33" stroke-width="0.6"/>
<line x1="52.75" y1="391.13" x2="52.75" y2="398.35" stroke="#33dd33" stroke-width="0.6"/>
<line x1="51.55" y1="391.13" x2="53.95" y2="391.13" stroke="#33dd33" stroke-width="0.6"/>
<line x1="51.55" y1="398.35" x2="53.95" y2="398.35" stroke="#33dd33" stroke-width="0.6"/>
<line x1="59.70" y1="389.32" x2="59.70" y2="396.55" stroke="#33dd33" stroke-width="0.6"/>
<line x1="58.50" y1="389.32" x2="60.90" y2="389.32" stroke="#33dd33" stroke-width="0.6"/>
<line x1="58.50" y1="396.55" x2="60.90" y2="396.55" stroke="#33dd33" stroke-width="0.6"/>
<line x1="66.65" y1="390.22" x2="66.65" y2="397.45" stroke="#33dd33" stroke-width="0.6"/>
<line x1="65.45" y1="390.22" x2="67.85" y2="390.22" stroke="#33dd33" stroke-width="0.6"/>
<line x1="65.45" y1="397.45" x2="67.85" y2="397.45" stroke="#33dd33" stroke-width="0.6"/>
<line x1="73.60" y1="390.22" x2="73.60" y2="397.45" stroke="#33dd33" stroke-width="0.6"/>
<line x1="72.40" y1="390.22" x2="74.80" y2="390.22" stroke="#33dd33" stroke-width="0.6"/>
<line x1="72.40" y1="397.45" x2="74.80" y2="397.45" stroke="#33dd33" stroke-width="0.6"/>
<line x1="80.55" y1="399.25" x2="80.55" y2="406.48" stroke="#33dd33" stroke-width="0.6"/>
<line x1="79.35" y1="399.25" x2="81.75" y2="399.25" stroke="#33dd33" stroke-width="0.6"/>
<line x1="79.35" y1="406.48" x2="81.75" y2="406.48" stroke="#33dd33" stroke-width="0.6"/>
<line x1="87.50" y1="406.48" x2="87.50" y2="413.70" stroke="#33dd33" stroke-width="0.6"/>
<line x1="86.30" y1="406.48" x2="88.70" y2="406.48" stroke="#33dd33" stroke-width="0.6"/>
<line x1="86.30" y1="413.70" x2="88.70" y2="413.70" stroke="#33dd33" stroke-width="0.6"/>
<line x1="94.45" y1="409.19" x2="94.45" y2="416.41" stroke="#33dd33" stroke-width="0.6"/>
<line x1="93.25" y1="409.19" x2="95.65" y2="409.19" stroke="#33dd33" stroke-width="0.6"/>
<line x1="93.25" y1="416.41" x2="95.65" y2="416.41" stroke="#33dd33" stroke-width="0.6"/>
<line x1="101.40" y1="417.31" x2="101.40" y2="424.54" stroke="#33dd33" stroke-width="0.6"/>
<line x1="100.20" y1="417.31" x2="102.60" y2="417.31" stroke="#33dd33" stroke-width="0.6"/>
<line x1="100.20" y1="424.54" x2="102.60" y2="424.54" stroke="#33dd33" stroke-width="0.6"/>
<line x1="108.35" y1="431.76" x2="108.35" y2="438.99" stroke="#33dd33" stroke-width="0.6"/>
<line x1="107.15" y1="431.76" x2="109.55" y2="431.76" stroke="#33dd33" stroke-width="0.6"/>
<line x1="107.15" y1="438.99" x2="109.55" y2="438.99" stroke="#33dd33" stroke-width="0.6"/>
<line x1="115.30" y1="442.60" x2="115.30" y2="449.82" stroke="#33dd33" stroke-width="0.6"/>
<line x1="114.10" y1="442.60" x2="116.50" y2="442.60" stroke="#33dd33" stroke-width="0.6"/>
<line x1="114.10" y1="449.82" x2="116.50" y2="449.82" stroke="#33dd33" stroke-width="0.6"/>
<line x1="122.25" y1="454.34" x2="122.25" y2="459.75" stroke="#33dd33" stroke-width="0.6"/>
<line x1="121.05" y1="454.34" x2="123.45" y2="454.34" stroke="#33dd33" stroke-width="0.6"/>
<line x1="121.05" y1="459.75" x2="123.45" y2="459.75" stroke="#33dd33" stroke-width="0.6"/>
<line x1="129.20" y1="465.17" x2="129.20" y2="468.78" stroke="#33dd33" stroke-width="0.6"/>
<line x1="128.00" y1="465.17" x2="130.40" y2="465.17" stroke="#33dd33" stroke-width="0.6"/>
<line x1="128.00" y1="468.78" x2="130.40" y2="468.78" stroke="#33dd33" stroke-width="0.6"/>
<line x1="136.15" y1="470.59" x2="136.15" y2="472.40" stroke="#33dd33" stroke-width="0.6"/>
<line x1="134.95" y1="470.59" x2="137.35" y2="470.59" stroke="#33dd33" stroke-width="0.6"/>
<line x1="134.95" y1="472.40" x2="137.35" y2="472.40" stroke="#33dd33" stroke-width="0.6"/>
<line x1="143.10" y1="471.49" x2="143.10" y2="473.30" stroke="#33dd33" stroke-width="0.6"/>
<line x1="141.90" y1="471.49" x2="144.30" y2="471.49" stroke="#33dd33" stroke-width="0.6"/>
<line x1="141.90" y1="473.30" x2="144.30" y2="473.30" stroke="#33dd33" stroke-width="0.6"/>
<polyline points="31.90,473.30 38.85,413.70 45.80,404.67 52.75,394.74 59.70,392.93 66.65,393.84 73.60,393.84 80.55,402.87 87.50,410.09 94.45,412.80 101.40,420.93 108.35,435.37 115.30,446.21 122.25,457.05 129.20,466.98 136.15,471.49 143.10,472.40 150.05,473.30 157.00,473.30" fill="none" stroke="#33dd33" stroke-width="0.8" stroke-linejoin="round"/>
<rect x="30.70" y="472.10" width="2.40" height="2.40" fill="#33dd33" stroke="none" stroke-width="0.7"/>
<rect x="37.65" y="412.50" width="2.40" height="2.40" fill="#33dd33" stroke="none" stroke-width="0.7"/>
<rect x="44.60" y="403.47" width="2.40" height="2.40" fill="#33dd33" stroke="none" stroke-width="0.7"/>
<rect x="51.55" y="393.54" width="2.40" height="2.40" fill="#33dd33" stroke="none" stroke-width="0.7"/>
<rect x="58.50" y="391.73" width="2.40" height="2.40" fill="#33dd33" stroke="none" stroke-width="0.7"/>
<rect x="65.45" y="392.64" width="2.40" height="2.40" fill="#33dd33" stroke="none" stroke-width="0.7"/>
<rect x="72.40" y="392.64" width="2.40" height="2.40" fill="#33dd33" stroke="none" stroke-width="0.7"/>
<rect x="79.35" y="401.67" width="2.40" height="2.40" fill="#33dd33" stroke="none" stroke-width="0.7"/>
<rect x="86.30" y="408.89" width="2.40" height="2.40" fill="#33dd33" stroke="none" stroke-width="0.7"/>
<rect x="93.25" y="411.60" width="2.40" height="2.40" fill="#33dd33" stroke="none" stroke-width="0.7"/>
<rect x="100.20" y="419.73" width="2.40" height="2.40" fill="#33dd33" stroke="none" stroke-width="0.7"/>
<rect x="107.15" y="434.17" width="2.40" height="2.40" fill="#33dd33" stroke="none" stroke-width="0.7"/>
<rect x="114.10" y="445.01" width="2.40" height="2.40" fill="#33dd33" stroke="none" stroke-width="0.7"/>
<rect x="121.05" y="455.85" width="2.40" height="2.40" fill="#33dd33" stroke="none" stroke-width="0.7"/>
<rect x="128.00" y="465.78" width="2.40" height="2.40" fill="#33dd33" stroke="none" stroke-width="0.7"/>
<rect x="134.95" y="470.29" width="2.40" height="2.40" fill="#33dd33" stroke="none" stroke-width="0.7"/>
<rect x="141.90" y="471.20" width="2.40" height="2.40" fill="#33dd33" stroke="none" stroke-width="0.7"/>
<rect x="148.85" y="472.10" width="2.40" height="2.40" fill="#33dd33" stroke="none" stroke-width="0.7"/>
<rect x="155.80" y="472.10" width="2.40" height="2.40" fill="#33dd33" stroke="none" stroke-width="0.7"/>
<line x1="38.85" y1="406.48" x2="38.85" y2="415.51" stroke="#c814c8" stroke-width="0.6"/>
<line x1="37.65" y1="406.48" x2="40.05" y2="406.48" stroke="#c814c8" stroke-width="0.6"/>
<line x1="37.65" y1="415.51" x2="40.05" y2="415.51" stroke="#c814c8" stroke-width="0.6"/>
<line x1="45.80" y1="399.25" x2="45.80" y2="408.28" stroke="#c814c8" stroke-width="0.6"/>
<line x1="44.60" y1="399.25" x2="47.00" y2="399.25" stroke="#c814c8" stroke-width="0.6"/>
<line x1="44.60" y1="408.28" x2="47.00" y2="408.28" stroke="#c814c8" stroke-width="0.6"/>
<line x1="52.75" y1="383.90" x2="52.75" y2="394.74" stroke="#c814c8" stroke-width="0.6"/>
<line x1="51.55" y1="383.90" x2="53.95" y2="383.90" stroke="#c814c8" stroke-width="0.6"/>
<line x1="51.55" y1="394.74" x2="53.95" y2="394.74" stroke="#c814c8" stroke-width="0.6"/>
<line x1="59.70" y1="383.00" x2="59.70" y2="393.84" stroke="#c814c8" stroke-width="0.6"/>
<line x1="58.50" y1="383.00" x2="60.90" y2="383.00" stroke="#c814c8" stroke-width="0.6"/>
<line x1="58.50" y1="393.84" x2="60.90" y2="393.84" stroke="#c814c8" stroke-width="0.6"/>
<line x1="66.65" y1="385.71" x2="66.65" y2="396.55" stroke="#c814c8" stroke-width="0.6"/>
<line x1="65.45" y1="385.71" x2="67.85" y2="385.71" stroke="#c814c8" stroke-width="0.6"/>
<line x1="65.45" y1="396.55" x2="67.85" y2="396.55" stroke="#c814c8" stroke-width="0.6"/>
<line x1="73.60" y1="388.42" x2="73.60" y2="399.25" stroke="#c814c8" stroke-width="0.6"/>
<line x1="72.40" y1="388.42" x2="74.80" y2="388.42" stroke="#c814c8" stroke-width="0.6"/>
<line x1="72.40" y1="399.25" x2="74.80" y2="399.25" stroke="#c814c8" stroke-width="0.6"/>
<line x1="80.55" y1="396.54" x2="80.55" y2="407.38" stroke="#c814c8" stroke-width="0.6"/>
<line x1="79.35" y1="396.54" x2="81.75" y2="396.54" stroke="#c814c8" stroke-width="0.6"/>
<line x1="79.35" y1="407.38" x2="81.75" y2="407.38" stroke="#c814c8" stroke-width="0.6"/>
<line x1="87.50" y1="404.67" x2="87.50" y2="417.31" stroke="#c814c8" stroke-width="0.6"/>
<line x1="86.30" y1="404.67" x2="88.70" y2="404.67" stroke="#c814c8" stroke-width="0.6"/>
<line x1="86.30" y1="417.31" x2="88.70" y2="417.31" stroke="#c814c8" stroke-width="0.6"/>
<line x1="94.45" y1="415.51" x2="94.45" y2="428.15" stroke="#c814c8" stroke-width="0.6"/>
<line x1="93.25" y1="415.51" x2="95.65" y2="415.51" stroke="#c814c8" stroke-width="0.6"/>
<line x1="93.25" y1="428.15" x2="95.65" y2="428.15" stroke="#c814c8" stroke-width="0.6"/>
<line x1="101.40" y1="419.12" x2="101.40" y2="431.76" stroke="#c814c8" stroke-width="0.6"/>
<line x1="100.20" y1="419.12" x2="102.60" y2="419.12" stroke="#c814c8" stroke-width="0.6"/>
<line x1="100.20" y1="431.76" x2="102.60" y2="431.76" stroke="#c814c8" stroke-width="0.6"/>
<line x1="108.35" y1="433.57" x2="108.35" y2="444.40" stroke="#c814c8" stroke-width="0.6"/>
<line x1="107.15" y1="433.57" x2="109.55" y2="433.57" stroke="#c814c8" stroke-width="0.6"/>
<line x1="107.15" y1="444.40" x2="109.55" y2="444.40" stroke="#c814c8" stroke-width="0.6"/>
<line x1="115.30" y1="447.11" x2="115.30" y2="456.14" stroke="#c814c8" stroke-width="0.6"/>
<line x1="114.10" y1="447.11" x2="116.50" y2="447.11" stroke="#c814c8" stroke-width="0.6"/>
<line x1="114.10" y1="456.14" x2="116.50" y2="456.14" stroke="#c814c8" stroke-width="0.6"/>
<line x1="122.25" y1="457.05" x2="122.25" y2="464.27" stroke="#c814c8" stroke-width="0.6"/>
<line x1="121.05" y1="457.05" x2="123.45" y2="457.05" stroke="#c814c8" stroke-width="0.6"/>
<line x1="121.05" y1="464.27" x2="123.45" y2="464.27" stroke="#c814c8" stroke-width="0.6"/>
<line x1="129.20" y1="463.37" x2="129.20" y2="470.59" stroke="#c814c8" stroke-width="0.6"/>
<line x1="128.00" y1="463.37" x2="130.40" y2="463.37" stroke="#c814c8" stroke-width="0.6"/>
<line x1="128.00" y1="470.59" x2="130.40" y2="470.59" stroke="#c814c8" stroke-width="0.6"/>
<line x1="136.15" y1="466.08" x2="136.15" y2="471.49" stroke="#c814c8" stroke-width="0.6"/>
<line x1="134.95" y1="466.08" x2="137.35" y2="466.08" stroke="#c814c8" stroke-width="0.6"/>
<line x1="134.95" y1="471.49" x2="137.35" y2="471.49" stroke="#c814c8" stroke-width="0.6"/>
<line x1="143.10" y1="471.49" x2="143.10" y2="473.30" stroke="#c814c8" stroke-width="0.6"/>
<line x1="141.90" y1="471.49" x2="144.30" y2="471.49" stroke="#c814c8" stroke-width="0.6"/>
<line x1="141.90" y1="473.30" x2="144.30" y2="473.30" stroke="#c814c8" stroke-width="0.6"/>
<line x1="150.05" y1="471.49" x2="150.05" y2="473.30" stroke="#c814c8" stroke-width="0.6"/>
<line x1="148.85" y1="471.49" x2="151.25" y2="471.49" stroke="#c814c8" stroke-width="0.6"/>
<line x1="148.85" y1="473.30" x2="151.25" y2="473.30" stroke="#c814c8" stroke-width="0.6"/>
<polyline points="31.90,473.30 38.85,410.99 45.80,403.77 52.75,389.32 59.70,388.42 66.65,391.13 73.60,393.84 80.55,401.96 87.50,410.99 94.45,421.83 101.40,425.44 108.35,438.99 115.30,451.63 122.25,460.66 129.20,466.98 136.15,468.79 143.10,472.40 150.05,472.40 157.00,473.30" fill="none" stroke="#c814c8" stroke-width="0.8" stroke-linejoin="round"/>
<circle cx="31.90" cy="473.30" r="1.4" fill="#c814c8" stroke="none" stroke-width="0.6"/>
<circle cx="38.85" cy="410.99" r="1.4" fill="#c814c8" stroke="none" stroke-width="0.6"/>
<circle cx="45.80" cy="403.77" r="1.4" fill="#c814c8" stroke="none" stroke-width="0.6"/>
<circle cx="52.75" cy="389.32" r="1.4" fill="#c814c8" stroke="none" stroke-width="0.6"/>
<circle cx="59.70" cy="388.42" r="1.4" fill="#c814c8" stroke="none" stroke-width="0.6"/>
<circle cx="66.65" cy="391.13" r="1.4" fill="#c814c8" stroke="none" stroke-width="0.6"/>
<circle cx="73.60" cy="393.84" r="1.4" fill="#c814c8" stroke="none" stroke-width="0.6"/>
<circle cx="80.55" cy="401.96" r="1.4" fill="#c814c8" stroke="none" stroke-width="0.6"/>
<circle cx="87.50" cy="410.99" r="1.4" fill="#c814c8" stroke="none" stroke-width="0.6"/>
<circle cx="94.45" cy="421.83" r="1.4" fill="#c814c8" stroke="none" stroke-width="0.6"/>
<circle cx="101.40" cy="425.44" r="1.4" fill="#c814c8" stroke="none" stroke-width="0.6"/>
<circle cx="108.35" cy="438.99" r="1.4" fill="#c814c8" stroke="none" stroke-width="0.6"/>
<circle cx="115.30" cy="451.63" r="1.4" fill="#c814c8" stroke="none" stroke-width="0.6"/>
<circle cx="122.25" cy="460.66" r="1.4" fill="#c814c8" stroke="none" stroke-width="0.6"/>
<circle cx="129.20" cy="466.98" r="1.4" fill="#c814c8" stroke="none" stroke-width="0.6"/>
<circle cx="136.15" cy="468.79" r="1.4" fill="#c814c8" stroke="none" stroke-width="0.6"/>
<circle cx="143.10" cy="472.40" r="1.4" fill="#c814c8" stroke="none" stroke-width="0.6"/>
<circle cx="150.05" cy="472.40" r="1.4" fill="#c814c8" stroke="none" stroke-width="0.6"/>
<circle cx="157.00" cy="473.30" r="1.4" fill="#c814c8" stroke="none" stroke-width="0.6"/>
<line x1="24.20" y1="373.60" x2="24.20" y2="481.90" stroke="#222" stroke-width="0.8"/>
<line x1="24.20" y1="481.90" x2="163.80" y2="481.90" stroke="#222" stroke-width="0.8"/>
<line x1="21.60" y1="473.30" x2="24.20" y2="473.30" stroke="#222" stroke-width="0.7"/>
<text x="18.20" y="476.20" font-size="8.3" text-anchor="end" fill="#111" stroke="#111" stroke-width="0.22">0</text>
<line x1="22.70" y1="464.27" x2="24.20" y2="464.27" stroke="#222" stroke-width="0.6"/>
<line x1="21.60" y1="455.24" x2="24.20" y2="455.24" stroke="#222" stroke-width="0.7"/>
<text x="18.20" y="458.14" font-size="8.3" text-anchor="end" fill="#111" stroke="#111" stroke-width="0.22">1</text>
<line x1="22.70" y1="446.21" x2="24.20" y2="446.21" stroke="#222" stroke-width="0.6"/>
<line x1="21.60" y1="437.18" x2="24.20" y2="437.18" stroke="#222" stroke-width="0.7"/>
<text x="18.20" y="440.08" font-size="8.3" text-anchor="end" fill="#111" stroke="#111" stroke-width="0.22">2</text>
<line x1="22.70" y1="428.15" x2="24.20" y2="428.15" stroke="#222" stroke-width="0.6"/>
<line x1="21.60" y1="419.12" x2="24.20" y2="419.12" stroke="#222" stroke-width="0.7"/>
<text x="18.20" y="422.02" font-size="8.3" text-anchor="end" fill="#111" stroke="#111" stroke-width="0.22">3</text>
<line x1="22.70" y1="410.09" x2="24.20" y2="410.09" stroke="#222" stroke-width="0.6"/>
<line x1="21.60" y1="401.06" x2="24.20" y2="401.06" stroke="#222" stroke-width="0.7"/>
<text x="18.20" y="403.96" font-size="8.3" text-anchor="end" fill="#111" stroke="#111" stroke-width="0.22">4</text>
<line x1="22.70" y1="392.03" x2="24.20" y2="392.03" stroke="#222" stroke-width="0.6"/>
<line x1="21.60" y1="383.00" x2="24.20" y2="383.00" stroke="#222" stroke-width="0.7"/>
<text x="18.20" y="385.90" font-size="8.3" text-anchor="end" fill="#111" stroke="#111" stroke-width="0.22">5</text>
<line x1="22.70" y1="481.73" x2="24.20" y2="481.73" stroke="#222" stroke-width="0.0"/>
<line x1="31.90" y1="481.90" x2="31.90" y2="484.50" stroke="#222" stroke-width="0.7"/>
<text x="31.90" y="495.30" font-size="8.3" text-anchor="middle" fill="#111" stroke="#111" stroke-width="0.22">0</text>
<line x1="45.80" y1="481.90" x2="45.80" y2="483.40" stroke="#222" stroke-width="0.6"/>
<line x1="59.70" y1="481.90" x2="59.70" y2="484.50" stroke="#222" stroke-width="0.7"/>
<text x="59.70" y="495.30" font-size="8.3" text-anchor="middle" fill="#111" stroke="#111" stroke-width="0.22">40</text>
<line x1="73.60" y1="481.90" x2="73.60" y2="483.40" stroke="#222" stroke-width="0.6"/>
<line x1="87.50" y1="481.90" x2="87.50" y2="484.50" stroke="#222" stroke-width="0.7"/>
<text x="87.50" y="495.30" font-size="8.3" text-anchor="middle" fill="#111" stroke="#111" stroke-width="0.22">80</text>
<line x1="101.40" y1="481.90" x2="101.40" y2="483.40" stroke="#222" stroke-width="0.6"/>
<line x1="115.30" y1="481.90" x2="115.30" y2="484.50" stroke="#222" stroke-width="0.7"/>
<text x="115.30" y="495.30" font-size="8.3" text-anchor="middle" fill="#111" stroke="#111" stroke-width="0.22">120</text>
<line x1="129.20" y1="481.90" x2="129.20" y2="483.40" stroke="#222" stroke-width="0.6"/>
<line x1="143.10" y1="481.90" x2="143.10" y2="484.50" stroke="#222" stroke-width="0.7"/>
<text x="143.10" y="495.30" font-size="8.3" text-anchor="middle" fill="#111" stroke="#111" stroke-width="0.22">160</text>
<line x1="157.00" y1="481.90" x2="157.00" y2="483.40" stroke="#222" stroke-width="0.6"/>
<text x="8.20" y="427.00" font-size="8.6" text-anchor="middle" fill="#111" stroke="#111" stroke-width="0.22" transform="rotate(-90 8.20 427.00)">Number of intersections</text>
<text x="94.50" y="507.80" font-size="8.45" text-anchor="middle" fill="#111" stroke="#111" stroke-width="0.22">Distance from soma center (µm)</text>
<rect x="76.70" y="361.80" width="79.70" height="27.20" fill="#fff" stroke="#333" stroke-width="0.6"/>
<line x1="78.80" y1="366.90" x2="90.30" y2="366.90" stroke="#33dd33" stroke-width="0.8"/>
<rect x="83.30" y="365.70" width="2.40" height="2.40" fill="#33dd33" stroke="none" stroke-width="0.7"/>
<text x="92.30" y="369.50" font-size="7.05" text-anchor="start" fill="#111" stroke="#111" stroke-width="0.22">Control</text>
<line x1="78.80" y1="375.30" x2="90.30" y2="375.30" stroke="#c4c4c4" stroke-width="0.8"/>
<path d="M84.5 373.70 L86.1 375.30 L84.5 376.90 L82.9 375.30 Z" fill="#c4c4c4"/>
<text x="92.30" y="377.90" font-size="7.05" text-anchor="start" fill="#111" stroke="#111" stroke-width="0.22">NLS-GCaMP3-NLS</text>
<line x1="78.80" y1="383.70" x2="90.30" y2="383.70" stroke="#c814c8" stroke-width="0.8"/>
<circle cx="84.50" cy="383.70" r="1.4" fill="#c814c8" stroke="none" stroke-width="0.6"/>
<text x="92.30" y="386.30" font-size="7.05" text-anchor="start" fill="#111" stroke="#111" stroke-width="0.22">GCaMP3-X<tspan dy="1.5" font-size="5.2">N</tspan><tspan dy="-1.5" font-size="1">&#8203;</tspan></text>
<rect x="210.20" y="417.19" width="15.70" height="65.41" fill="#22cc22" stroke="#168a16" stroke-width="0.8"/>
<rect x="229.00" y="440.44" width="15.40" height="42.16" fill="#c8c8c8" stroke="#555" stroke-width="0.8"/>
<rect x="247.30" y="418.34" width="15.50" height="64.26" fill="#ff10ff" stroke="#b000b0" stroke-width="0.8"/>
<line x1="218.00" y1="414.64" x2="218.00" y2="419.75" stroke="#222" stroke-width="0.7"/>
<line x1="215.50" y1="414.64" x2="220.50" y2="414.64" stroke="#222" stroke-width="0.7"/>
<line x1="215.50" y1="419.75" x2="220.50" y2="419.75" stroke="#222" stroke-width="0.7"/>
<line x1="236.70" y1="438.27" x2="236.70" y2="442.61" stroke="#222" stroke-width="0.7"/>
<line x1="234.20" y1="438.27" x2="239.20" y2="438.27" stroke="#222" stroke-width="0.7"/>
<line x1="234.20" y1="442.61" x2="239.20" y2="442.61" stroke="#222" stroke-width="0.7"/>
<line x1="255.00" y1="414.89" x2="255.00" y2="421.79" stroke="#222" stroke-width="0.7"/>
<line x1="252.50" y1="414.89" x2="257.50" y2="414.89" stroke="#222" stroke-width="0.7"/>
<line x1="252.50" y1="421.79" x2="257.50" y2="421.79" stroke="#222" stroke-width="0.7"/>
<circle cx="217.59" cy="382.95" r="1.2" fill="none" stroke="#a8a8a8" stroke-width="0.5" opacity="0.8"/>
<circle cx="218.40" cy="387.43" r="1.2" fill="none" stroke="#a8a8a8" stroke-width="0.5" opacity="0.8"/>
<circle cx="221.07" cy="394.45" r="1.2" fill="none" stroke="#a8a8a8" stroke-width="0.5" opacity="0.8"/>
<circle cx="220.55" cy="395.73" r="1.2" fill="none" stroke="#a8a8a8" stroke-width="0.5" opacity="0.8"/>
<circle cx="220.91" cy="397.65" r="1.2" fill="none" stroke="#a8a8a8" stroke-width="0.5" opacity="0.8"/>
<circle cx="216.23" cy="398.28" r="1.2" fill="none" stroke="#a8a8a8" stroke-width="0.5" opacity="0.8"/>
<circle cx="217.32" cy="399.56" r="1.2" fill="none" stroke="#a8a8a8" stroke-width="0.5" opacity="0.8"/>
<circle cx="216.87" cy="400.84" r="1.2" fill="none" stroke="#a8a8a8" stroke-width="0.5" opacity="0.8"/>
<circle cx="221.07" cy="402.12" r="1.2" fill="none" stroke="#a8a8a8" stroke-width="0.5" opacity="0.8"/>
<circle cx="221.66" cy="402.76" r="1.2" fill="none" stroke="#a8a8a8" stroke-width="0.5" opacity="0.8"/>
<circle cx="215.21" cy="403.39" r="1.2" fill="none" stroke="#a8a8a8" stroke-width="0.5" opacity="0.8"/>
<circle cx="215.41" cy="404.67" r="1.2" fill="none" stroke="#a8a8a8" stroke-width="0.5" opacity="0.8"/>
<circle cx="215.86" cy="405.31" r="1.2" fill="none" stroke="#a8a8a8" stroke-width="0.5" opacity="0.8"/>
<circle cx="215.87" cy="405.95" r="1.2" fill="none" stroke="#a8a8a8" stroke-width="0.5" opacity="0.8"/>
<circle cx="217.88" cy="406.59" r="1.2" fill="none" stroke="#a8a8a8" stroke-width="0.5" opacity="0.8"/>
<circle cx="218.71" cy="407.87" r="1.2" fill="none" stroke="#a8a8a8" stroke-width="0.5" opacity="0.8"/>
<circle cx="216.10" cy="408.50" r="1.2" fill="none" stroke="#a8a8a8" stroke-width="0.5" opacity="0.8"/>
<circle cx="214.03" cy="409.78" r="1.2" fill="none" stroke="#a8a8a8" stroke-width="0.5" opacity="0.8"/>
<circle cx="217.35" cy="411.06" r="1.2" fill="none" stroke="#a8a8a8" stroke-width="0.5" opacity="0.8"/>
<circle cx="216.95" cy="412.34" r="1.2" fill="none" stroke="#a8a8a8" stroke-width="0.5" opacity="0.8"/>
<circle cx="218.53" cy="412.98" r="1.2" fill="none" stroke="#a8a8a8" stroke-width="0.5" opacity="0.8"/>
<circle cx="221.62" cy="413.62" r="1.2" fill="none" stroke="#a8a8a8" stroke-width="0.5" opacity="0.8"/>
<circle cx="219.52" cy="414.25" r="1.2" fill="none" stroke="#a8a8a8" stroke-width="0.5" opacity="0.8"/>
<circle cx="218.12" cy="414.89" r="1.2" fill="none" stroke="#a8a8a8" stroke-width="0.5" opacity="0.8"/>
<circle cx="218.94" cy="415.53" r="1.2" fill="none" stroke="#a8a8a8" stroke-width="0.5" opacity="0.8"/>
<circle cx="219.41" cy="416.17" r="1.2" fill="none" stroke="#a8a8a8" stroke-width="0.5" opacity="0.8"/>
<circle cx="214.43" cy="417.45" r="1.2" fill="none" stroke="#a8a8a8" stroke-width="0.5" opacity="0.8"/>
<circle cx="221.20" cy="418.73" r="1.2" fill="none" stroke="#a8a8a8" stroke-width="0.5" opacity="0.8"/>
<circle cx="220.24" cy="421.28" r="1.2" fill="none" stroke="#a8a8a8" stroke-width="0.5" opacity="0.8"/>
<circle cx="221.00" cy="422.56" r="1.2" fill="none" stroke="#a8a8a8" stroke-width="0.5" opacity="0.8"/>
<circle cx="220.38" cy="425.11" r="1.2" fill="none" stroke="#a8a8a8" stroke-width="0.5" opacity="0.8"/>
<circle cx="217.14" cy="426.39" r="1.2" fill="none" stroke="#a8a8a8" stroke-width="0.5" opacity="0.8"/>
<circle cx="217.19" cy="427.67" r="1.2" fill="none" stroke="#a8a8a8" stroke-width="0.5" opacity="0.8"/>
<circle cx="214.83" cy="430.22" r="1.2" fill="none" stroke="#a8a8a8" stroke-width="0.5" opacity="0.8"/>
<circle cx="219.07" cy="431.50" r="1.2" fill="none" stroke="#a8a8a8" stroke-width="0.5" opacity="0.8"/>
<circle cx="214.50" cy="434.06" r="1.2" fill="none" stroke="#a8a8a8" stroke-width="0.5" opacity="0.8"/>
<circle cx="214.54" cy="435.33" r="1.2" fill="none" stroke="#a8a8a8" stroke-width="0.5" opacity="0.8"/>
<circle cx="215.67" cy="437.89" r="1.2" fill="none" stroke="#a8a8a8" stroke-width="0.5" opacity="0.8"/>
<circle cx="215.30" cy="439.17" r="1.2" fill="none" stroke="#a8a8a8" stroke-width="0.5" opacity="0.8"/>
<circle cx="216.72" cy="440.44" r="1.2" fill="none" stroke="#a8a8a8" stroke-width="0.5" opacity="0.8"/>
<circle cx="214.42" cy="441.72" r="1.2" fill="none" stroke="#a8a8a8" stroke-width="0.5" opacity="0.8"/>
<circle cx="233.50" cy="411.70" r="1.2" fill="none" stroke="#a8a8a8" stroke-width="0.5" opacity="0.8"/>
<circle cx="234.47" cy="425.11" r="1.2" fill="none" stroke="#a8a8a8" stroke-width="0.5" opacity="0.8"/>
<circle cx="234.15" cy="428.94" r="1.2" fill="none" stroke="#a8a8a8" stroke-width="0.5" opacity="0.8"/>
<circle cx="235.83" cy="431.50" r="1.2" fill="none" stroke="#a8a8a8" stroke-width="0.5" opacity="0.8"/>
<circle cx="233.66" cy="433.42" r="1.2" fill="none" stroke="#a8a8a8" stroke-width="0.5" opacity="0.8"/>
<circle cx="239.10" cy="435.33" r="1.2" fill="none" stroke="#a8a8a8" stroke-width="0.5" opacity="0.8"/>
<circle cx="237.43" cy="436.61" r="1.2" fill="none" stroke="#a8a8a8" stroke-width="0.5" opacity="0.8"/>
<circle cx="234.45" cy="437.89" r="1.2" fill="none" stroke="#a8a8a8" stroke-width="0.5" opacity="0.8"/>
<circle cx="235.11" cy="438.53" r="1.2" fill="none" stroke="#a8a8a8" stroke-width="0.5" opacity="0.8"/>
<circle cx="235.72" cy="439.80" r="1.2" fill="none" stroke="#a8a8a8" stroke-width="0.5" opacity="0.8"/>
<circle cx="235.83" cy="441.08" r="1.2" fill="none" stroke="#a8a8a8" stroke-width="0.5" opacity="0.8"/>
<circle cx="234.29" cy="442.36" r="1.2" fill="none" stroke="#a8a8a8" stroke-width="0.5" opacity="0.8"/>
<circle cx="238.93" cy="443.64" r="1.2" fill="none" stroke="#a8a8a8" stroke-width="0.5" opacity="0.8"/>
<circle cx="239.86" cy="444.27" r="1.2" fill="none" stroke="#a8a8a8" stroke-width="0.5" opacity="0.8"/>
<circle cx="236.48" cy="445.55" r="1.2" fill="none" stroke="#a8a8a8" stroke-width="0.5" opacity="0.8"/>
<circle cx="236.60" cy="446.83" r="1.2" fill="none" stroke="#a8a8a8" stroke-width="0.5" opacity="0.8"/>
<circle cx="234.05" cy="448.11" r="1.2" fill="none" stroke="#a8a8a8" stroke-width="0.5" opacity="0.8"/>
<circle cx="234.15" cy="449.13" r="1.2" fill="none" stroke="#a8a8a8" stroke-width="0.5" opacity="0.8"/>
<circle cx="235.69" cy="450.66" r="1.2" fill="none" stroke="#a8a8a8" stroke-width="0.5" opacity="0.8"/>
<circle cx="235.19" cy="451.94" r="1.2" fill="none" stroke="#a8a8a8" stroke-width="0.5" opacity="0.8"/>
<circle cx="238.80" cy="453.22" r="1.2" fill="none" stroke="#a8a8a8" stroke-width="0.5" opacity="0.8"/>
<circle cx="252.97" cy="393.17" r="1.2" fill="none" stroke="#a8a8a8" stroke-width="0.5" opacity="0.8"/>
<circle cx="252.14" cy="394.45" r="1.2" fill="none" stroke="#a8a8a8" stroke-width="0.5" opacity="0.8"/>
<circle cx="257.71" cy="405.31" r="1.2" fill="none" stroke="#a8a8a8" stroke-width="0.5" opacity="0.8"/>
<circle cx="255.17" cy="411.06" r="1.2" fill="none" stroke="#a8a8a8" stroke-width="0.5" opacity="0.8"/>
<circle cx="252.88" cy="414.89" r="1.2" fill="none" stroke="#a8a8a8" stroke-width="0.5" opacity="0.8"/>
<circle cx="255.26" cy="417.45" r="1.2" fill="none" stroke="#a8a8a8" stroke-width="0.5" opacity="0.8"/>
<circle cx="252.16" cy="418.73" r="1.2" fill="none" stroke="#a8a8a8" stroke-width="0.5" opacity="0.8"/>
<circle cx="255.17" cy="421.28" r="1.2" fill="none" stroke="#a8a8a8" stroke-width="0.5" opacity="0.8"/>
<circle cx="257.87" cy="423.20" r="1.2" fill="none" stroke="#a8a8a8" stroke-width="0.5" opacity="0.8"/>
<circle cx="257.18" cy="426.39" r="1.2" fill="none" stroke="#a8a8a8" stroke-width="0.5" opacity="0.8"/>
<circle cx="256.18" cy="431.50" r="1.2" fill="none" stroke="#a8a8a8" stroke-width="0.5" opacity="0.8"/>
<circle cx="253.57" cy="434.06" r="1.2" fill="none" stroke="#a8a8a8" stroke-width="0.5" opacity="0.8"/>
<circle cx="254.20" cy="439.17" r="1.2" fill="none" stroke="#a8a8a8" stroke-width="0.5" opacity="0.8"/>
<circle cx="253.00" cy="443.00" r="1.2" fill="none" stroke="#a8a8a8" stroke-width="0.5" opacity="0.8"/>
<line x1="208.60" y1="379.70" x2="208.60" y2="482.60" stroke="#222" stroke-width="0.8"/>
<line x1="208.60" y1="482.60" x2="265.00" y2="482.60" stroke="#222" stroke-width="0.8"/>
<line x1="206.00" y1="482.60" x2="208.60" y2="482.60" stroke="#222" stroke-width="0.7"/>
<text x="202.60" y="485.50" font-size="8.3" text-anchor="end" fill="#111" stroke="#111" stroke-width="0.22">0</text>
<line x1="207.10" y1="469.83" x2="208.60" y2="469.83" stroke="#222" stroke-width="0.6"/>
<line x1="206.00" y1="457.05" x2="208.60" y2="457.05" stroke="#222" stroke-width="0.7"/>
<text x="202.60" y="459.95" font-size="8.3" text-anchor="end" fill="#111" stroke="#111" stroke-width="0.22">200</text>
<line x1="207.10" y1="444.27" x2="208.60" y2="444.27" stroke="#222" stroke-width="0.6"/>
<line x1="206.00" y1="431.50" x2="208.60" y2="431.50" stroke="#222" stroke-width="0.7"/>
<text x="202.60" y="434.40" font-size="8.3" text-anchor="end" fill="#111" stroke="#111" stroke-width="0.22">400</text>
<line x1="207.10" y1="418.73" x2="208.60" y2="418.73" stroke="#222" stroke-width="0.6"/>
<line x1="206.00" y1="405.95" x2="208.60" y2="405.95" stroke="#222" stroke-width="0.7"/>
<text x="202.60" y="408.85" font-size="8.3" text-anchor="end" fill="#111" stroke="#111" stroke-width="0.22">600</text>
<line x1="207.10" y1="393.17" x2="208.60" y2="393.17" stroke="#222" stroke-width="0.6"/>
<line x1="206.00" y1="380.40" x2="208.60" y2="380.40" stroke="#222" stroke-width="0.7"/>
<text x="202.60" y="383.30" font-size="8.3" text-anchor="end" fill="#111" stroke="#111" stroke-width="0.22">800</text>
<line x1="218.00" y1="482.60" x2="218.00" y2="485.00" stroke="#222" stroke-width="0.7"/>
<line x1="236.70" y1="482.60" x2="236.70" y2="485.00" stroke="#222" stroke-width="0.7"/>
<line x1="255.00" y1="482.60" x2="255.00" y2="485.00" stroke="#222" stroke-width="0.7"/>
<text x="182.30" y="431.00" font-size="8.4" text-anchor="middle" fill="#111" stroke="#111" stroke-width="0.22" transform="rotate(-90 182.30 431.00)">Total length (µm)</text>
<text x="218.00" y="470.50" font-size="7.5" text-anchor="middle" fill="#111" stroke="#111" stroke-width="0.22">(41)</text>
<text x="236.70" y="470.50" font-size="7.5" text-anchor="middle" fill="#111" stroke="#111" stroke-width="0.22">(21)</text>
<text x="255.00" y="470.50" font-size="7.5" text-anchor="middle" fill="#111" stroke="#111" stroke-width="0.22">(14)</text>
<polyline points="217.80,376.70 217.80,359.50 255.10,359.50 255.10,382.60" fill="none" stroke="#555" stroke-width="0.8" stroke-linejoin="round"/>
<polyline points="217.80,365.20 236.20,365.20 236.20,399.60" fill="none" stroke="#555" stroke-width="0.8" stroke-linejoin="round"/>
<text x="236.20" y="367.20" font-size="10.5" text-anchor="middle" fill="#111" stroke="#111" stroke-width="0.22">***</text>
<text x="254.30" y="357.60" font-size="7.8" text-anchor="middle" fill="#111" stroke="#111" stroke-width="0.22">n.s.</text>
<text x="218.40" y="492.40" font-size="8.2" text-anchor="end" fill="#111" stroke="#111" stroke-width="0.22" transform="rotate(-45 218.40 492.40)">Control</text>
<text x="230.00" y="498.00" font-size="8.2" text-anchor="end" fill="#111" stroke="#111" stroke-width="0.22" transform="rotate(-45 230.00 498.00)">NLS-</text>
<text x="249.00" y="492.20" font-size="8.2" text-anchor="end" fill="#111" stroke="#111" stroke-width="0.22" transform="rotate(-45 249.00 492.20)">GCaMP3-NLS</text>
<text x="268.40" y="492.00" font-size="8.2" text-anchor="end" fill="#111" stroke="#111" stroke-width="0.22" transform="rotate(-45 268.40 492.00)">GCaMP3-X<tspan dy="1.6" font-size="6">N</tspan><tspan dy="-1.6" font-size="1">&#8203;</tspan></text>
<text x="278.30" y="13.80" font-size="8.5" text-anchor="start" fill="#111" stroke="#111" stroke-width="0.22">NLS-GCaMP3-NLS</text>
<text x="445.50" y="13.80" font-size="8.5" text-anchor="start" fill="#111" stroke="#111" stroke-width="0.22">GCaMP3-X<tspan dy="1.8" font-size="5.8">N</tspan><tspan dy="-1.8" font-size="1">&#8203;</tspan></text>
<clipPath id="c7"><rect x="278.00" y="18.40" width="46.70" height="47.20"/></clipPath>
<rect x="278.00" y="18.40" width="46.70" height="47.20" fill="#000" stroke="none" stroke-width="0.7"/>
<g clip-path="url(#c7)"><g filter="url(#noise)">
<rect x="278.00" y="18.40" width="46.70" height="47.20" fill="#000"/>
<ellipse cx="303.30" cy="41.00" rx="3.6" ry="4.2" fill="#1f8f28" opacity="0.95" filter="url(#b1)"/>
</g></g>
<text x="323.10" y="64.00" font-size="6.8" text-anchor="end" fill="#fff" stroke="#fff" stroke-width="0.22">0 s</text>
<clipPath id="c8"><rect x="328.20" y="18.40" width="46.70" height="47.20"/></clipPath>
<rect x="328.20" y="18.40" width="46.70" height="47.20" fill="#000" stroke="none" stroke-width="0.7"/>
<g clip-path="url(#c8)"><g filter="url(#noise)">
<rect x="328.20" y="18.40" width="46.70" height="47.20" fill="#000"/>
<ellipse cx="352.60" cy="40.60" rx="4.2" ry="4.6" fill="#33cc3c" opacity="1" filter="url(#b1)"/>
</g></g>
<text x="373.30" y="64.00" font-size="6.8" text-anchor="end" fill="#fff" stroke="#fff" stroke-width="0.22">70 s</text>
<clipPath id="c9"><rect x="378.00" y="18.40" width="46.70" height="47.20"/></clipPath>
<rect x="378.00" y="18.40" width="46.70" height="47.20" fill="#000" stroke="none" stroke-width="0.7"/>
<g clip-path="url(#c9)"><g filter="url(#noise)">
<rect x="378.00" y="18.40" width="46.70" height="47.20" fill="#000"/>
<ellipse cx="402.40" cy="41.50" rx="5.2" ry="5.6" fill="#22ff44" opacity="1" filter="url(#b1)"/>
<ellipse cx="402.40" cy="41.50" rx="3.9000000000000004" ry="4.199999999999999" fill="#50ff60" opacity="0.9" filter="url(#b1)"/>
</g></g>
<text x="423.10" y="64.00" font-size="6.8" text-anchor="end" fill="#fff" stroke="#fff" stroke-width="0.22">300 s</text>
<clipPath id="c10"><rect x="443.00" y="18.40" width="46.70" height="47.20"/></clipPath>
<rect x="443.00" y="18.40" width="46.70" height="47.20" fill="#000" stroke="none" stroke-width="0.7"/>
<g clip-path="url(#c10)"><g filter="url(#noise)">
<rect x="443.00" y="18.40" width="46.70" height="47.20" fill="#000"/>
<ellipse cx="466.00" cy="39.60" rx="3.2" ry="4.5" fill="#0f4a16" opacity="0.9" filter="url(#b1)"/>
</g></g>
<text x="488.10" y="64.00" font-size="6.8" text-anchor="end" fill="#fff" stroke="#fff" stroke-width="0.22">0 s</text>
<clipPath id="c11"><rect x="493.20" y="18.40" width="46.70" height="47.20"/></clipPath>
<rect x="493.20" y="18.40" width="46.70" height="47.20" fill="#000" stroke="none" stroke-width="0.7"/>
<g clip-path="url(#c11)"><g filter="url(#noise)">
<rect x="493.20" y="18.40" width="46.70" height="47.20" fill="#000"/>
<ellipse cx="516.50" cy="39.90" rx="7.0" ry="6.8" fill="#22ff3c" opacity="1" transform="rotate(-20 516.50 39.90)" filter="url(#b1)"/>
<ellipse cx="516.50" cy="39.90" rx="5.25" ry="5.1" fill="#50ff60" opacity="0.9" filter="url(#b1)"/>
</g></g>
<text x="538.30" y="64.00" font-size="6.8" text-anchor="end" fill="#fff" stroke="#fff" stroke-width="0.22">70 s</text>
<clipPath id="c12"><rect x="543.00" y="18.40" width="46.70" height="47.20"/></clipPath>
<rect x="543.00" y="18.40" width="46.70" height="47.20" fill="#000" stroke="none" stroke-width="0.7"/>
<g clip-path="url(#c12)"><g filter="url(#noise)">
<rect x="543.00" y="18.40" width="46.70" height="47.20" fill="#000"/>
<ellipse cx="565.10" cy="41.00" rx="5.2" ry="5.2" fill="#228a30" opacity="0.95" filter="url(#b1)"/>
</g></g>
<text x="588.10" y="64.00" font-size="6.8" text-anchor="end" fill="#fff" stroke="#fff" stroke-width="0.22">300 s</text>
<line x1="284.00" y1="57.30" x2="293.60" y2="57.30" stroke="#fff" stroke-width="0.9"/>
<text x="278.80" y="64.00" font-size="6.8" text-anchor="start" fill="#fff" stroke="#fff" stroke-width="0.22">10 µm</text>
<line x1="449.00" y1="57.30" x2="458.60" y2="57.30" stroke="#fff" stroke-width="0.9"/>
<text x="443.80" y="64.00" font-size="6.8" text-anchor="start" fill="#fff" stroke="#fff" stroke-width="0.22">10 µm</text>
<line x1="331.22" y1="210.40" x2="331.22" y2="208.40" stroke="#8a8a8a" stroke-width="0.55"/>
<line x1="330.22" y1="208.40" x2="332.22" y2="208.40" stroke="#8a8a8a" stroke-width="0.55"/>
<line x1="333.87" y1="207.77" x2="333.87" y2="204.57" stroke="#8a8a8a" stroke-width="0.55"/>
<line x1="332.87" y1="204.57" x2="334.87" y2="204.57" stroke="#8a8a8a" stroke-width="0.55"/>
<line x1="336.52" y1="203.46" x2="336.52" y2="199.39" stroke="#8a8a8a" stroke-width="0.55"/>
<line x1="335.52" y1="199.39" x2="337.52" y2="199.39" stroke="#8a8a8a" stroke-width="0.55"/>
<line x1="339.17" y1="199.67" x2="339.17" y2="194.69" stroke="#8a8a8a" stroke-width="0.55"/>
<line x1="338.17" y1="194.69" x2="340.17" y2="194.69" stroke="#8a8a8a" stroke-width="0.55"/>
<line x1="341.82" y1="195.73" x2="341.82" y2="189.70" stroke="#8a8a8a" stroke-width="0.55"/>
<line x1="340.82" y1="189.70" x2="342.82" y2="189.70" stroke="#8a8a8a" stroke-width="0.55"/>
<line x1="344.48" y1="192.00" x2="344.48" y2="185.10" stroke="#8a8a8a" stroke-width="0.55"/>
<line x1="343.48" y1="185.10" x2="345.48" y2="185.10" stroke="#8a8a8a" stroke-width="0.55"/>
<line x1="347.13" y1="188.58" x2="347.13" y2="180.49" stroke="#8a8a8a" stroke-width="0.55"/>
<line x1="346.13" y1="180.49" x2="348.13" y2="180.49" stroke="#8a8a8a" stroke-width="0.55"/>
<line x1="349.78" y1="185.95" x2="349.78" y2="176.68" stroke="#8a8a8a" stroke-width="0.55"/>
<line x1="348.78" y1="176.68" x2="350.78" y2="176.68" stroke="#8a8a8a" stroke-width="0.55"/>
<line x1="352.43" y1="182.91" x2="352.43" y2="172.62" stroke="#8a8a8a" stroke-width="0.55"/>
<line x1="351.43" y1="172.62" x2="353.43" y2="172.62" stroke="#8a8a8a" stroke-width="0.55"/>
<line x1="355.08" y1="179.84" x2="355.08" y2="167.67" stroke="#8a8a8a" stroke-width="0.55"/>
<line x1="354.08" y1="167.67" x2="356.08" y2="167.67" stroke="#8a8a8a" stroke-width="0.55"/>
<line x1="357.73" y1="176.57" x2="357.73" y2="164.25" stroke="#8a8a8a" stroke-width="0.55"/>
<line x1="356.73" y1="164.25" x2="358.73" y2="164.25" stroke="#8a8a8a" stroke-width="0.55"/>
<line x1="360.38" y1="174.77" x2="360.38" y2="161.85" stroke="#8a8a8a" stroke-width="0.55"/>
<line x1="359.38" y1="161.85" x2="361.38" y2="161.85" stroke="#8a8a8a" stroke-width="0.55"/>
<line x1="363.04" y1="172.05" x2="363.04" y2="159.63" stroke="#8a8a8a" stroke-width="0.55"/>
<line x1="362.04" y1="159.63" x2="364.04" y2="159.63" stroke="#8a8a8a" stroke-width="0.55"/>
<line x1="365.69" y1="170.24" x2="365.69" y2="157.29" stroke="#8a8a8a" stroke-width="0.55"/>
<line x1="364.69" y1="157.29" x2="366.69" y2="157.29" stroke="#8a8a8a" stroke-width="0.55"/>
<line x1="368.34" y1="167.97" x2="368.34" y2="155.56" stroke="#8a8a8a" stroke-width="0.55"/>
<line x1="367.34" y1="155.56" x2="369.34" y2="155.56" stroke="#8a8a8a" stroke-width="0.55"/>
<line x1="370.99" y1="165.75" x2="370.99" y2="152.67" stroke="#8a8a8a" stroke-width="0.55"/>
<line x1="369.99" y1="152.67" x2="371.99" y2="152.67" stroke="#8a8a8a" stroke-width="0.55"/>
<line x1="373.64" y1="165.21" x2="373.64" y2="152.47" stroke="#8a8a8a" stroke-width="0.55"/>
<line x1="372.64" y1="152.47" x2="374.64" y2="152.47" stroke="#8a8a8a" stroke-width="0.55"/>
<line x1="376.30" y1="163.57" x2="376.30" y2="149.43" stroke="#8a8a8a" stroke-width="0.55"/>
<line x1="375.30" y1="149.43" x2="377.30" y2="149.43" stroke="#8a8a8a" stroke-width="0.55"/>
<line x1="378.95" y1="162.75" x2="378.95" y2="149.19" stroke="#8a8a8a" stroke-width="0.55"/>
<line x1="377.95" y1="149.19" x2="379.95" y2="149.19" stroke="#8a8a8a" stroke-width="0.55"/>
<line x1="381.60" y1="161.84" x2="381.60" y2="149.23" stroke="#8a8a8a" stroke-width="0.55"/>
<line x1="380.60" y1="149.23" x2="382.60" y2="149.23" stroke="#8a8a8a" stroke-width="0.55"/>
<line x1="384.25" y1="160.58" x2="384.25" y2="147.54" stroke="#8a8a8a" stroke-width="0.55"/>
<line x1="383.25" y1="147.54" x2="385.25" y2="147.54" stroke="#8a8a8a" stroke-width="0.55"/>
<line x1="386.90" y1="161.14" x2="386.90" y2="147.32" stroke="#8a8a8a" stroke-width="0.55"/>
<line x1="385.90" y1="147.32" x2="387.90" y2="147.32" stroke="#8a8a8a" stroke-width="0.55"/>
<line x1="389.55" y1="160.50" x2="389.55" y2="148.56" stroke="#8a8a8a" stroke-width="0.55"/>
<line x1="388.55" y1="148.56" x2="390.55" y2="148.56" stroke="#8a8a8a" stroke-width="0.55"/>
<line x1="392.20" y1="160.45" x2="392.20" y2="147.33" stroke="#8a8a8a" stroke-width="0.55"/>
<line x1="391.20" y1="147.33" x2="393.20" y2="147.33" stroke="#8a8a8a" stroke-width="0.55"/>
<line x1="394.86" y1="160.93" x2="394.86" y2="148.85" stroke="#8a8a8a" stroke-width="0.55"/>
<line x1="393.86" y1="148.85" x2="395.86" y2="148.85" stroke="#8a8a8a" stroke-width="0.55"/>
<line x1="397.51" y1="161.75" x2="397.51" y2="149.81" stroke="#8a8a8a" stroke-width="0.55"/>
<line x1="396.51" y1="149.81" x2="398.51" y2="149.81" stroke="#8a8a8a" stroke-width="0.55"/>
<line x1="400.16" y1="162.04" x2="400.16" y2="149.73" stroke="#8a8a8a" stroke-width="0.55"/>
<line x1="399.16" y1="149.73" x2="401.16" y2="149.73" stroke="#8a8a8a" stroke-width="0.55"/>
<line x1="402.81" y1="162.52" x2="402.81" y2="151.30" stroke="#8a8a8a" stroke-width="0.55"/>
<line x1="401.81" y1="151.30" x2="403.81" y2="151.30" stroke="#8a8a8a" stroke-width="0.55"/>
<line x1="405.46" y1="162.78" x2="405.46" y2="151.61" stroke="#8a8a8a" stroke-width="0.55"/>
<line x1="404.46" y1="151.61" x2="406.46" y2="151.61" stroke="#8a8a8a" stroke-width="0.55"/>
<line x1="408.12" y1="164.13" x2="408.12" y2="152.92" stroke="#8a8a8a" stroke-width="0.55"/>
<line x1="407.12" y1="152.92" x2="409.12" y2="152.92" stroke="#8a8a8a" stroke-width="0.55"/>
<line x1="410.77" y1="164.11" x2="410.77" y2="152.67" stroke="#8a8a8a" stroke-width="0.55"/>
<line x1="409.77" y1="152.67" x2="411.77" y2="152.67" stroke="#8a8a8a" stroke-width="0.55"/>
<line x1="413.42" y1="165.02" x2="413.42" y2="154.66" stroke="#8a8a8a" stroke-width="0.55"/>
<line x1="412.42" y1="154.66" x2="414.42" y2="154.66" stroke="#8a8a8a" stroke-width="0.55"/>
<line x1="416.07" y1="165.51" x2="416.07" y2="154.32" stroke="#8a8a8a" stroke-width="0.55"/>
<line x1="415.07" y1="154.32" x2="417.07" y2="154.32" stroke="#8a8a8a" stroke-width="0.55"/>
<line x1="418.72" y1="165.46" x2="418.72" y2="154.49" stroke="#8a8a8a" stroke-width="0.55"/>
<line x1="417.72" y1="154.49" x2="419.72" y2="154.49" stroke="#8a8a8a" stroke-width="0.55"/>
<line x1="421.37" y1="166.30" x2="421.37" y2="155.45" stroke="#8a8a8a" stroke-width="0.55"/>
<line x1="420.37" y1="155.45" x2="422.37" y2="155.45" stroke="#8a8a8a" stroke-width="0.55"/>
<line x1="424.02" y1="166.77" x2="424.02" y2="156.31" stroke="#8a8a8a" stroke-width="0.55"/>
<line x1="423.02" y1="156.31" x2="425.02" y2="156.31" stroke="#8a8a8a" stroke-width="0.55"/>
<line x1="426.68" y1="167.08" x2="426.68" y2="156.72" stroke="#8a8a8a" stroke-width="0.55"/>
<line x1="425.68" y1="156.72" x2="427.68" y2="156.72" stroke="#8a8a8a" stroke-width="0.55"/>
<line x1="429.33" y1="167.45" x2="429.33" y2="157.58" stroke="#8a8a8a" stroke-width="0.55"/>
<line x1="428.33" y1="157.58" x2="430.33" y2="157.58" stroke="#8a8a8a" stroke-width="0.55"/>
<line x1="431.98" y1="168.50" x2="431.98" y2="158.51" stroke="#8a8a8a" stroke-width="0.55"/>
<line x1="430.98" y1="158.51" x2="432.98" y2="158.51" stroke="#8a8a8a" stroke-width="0.55"/>
<line x1="434.63" y1="168.84" x2="434.63" y2="158.95" stroke="#8a8a8a" stroke-width="0.55"/>
<line x1="433.63" y1="158.95" x2="435.63" y2="158.95" stroke="#8a8a8a" stroke-width="0.55"/>
<line x1="437.28" y1="169.49" x2="437.28" y2="158.46" stroke="#8a8a8a" stroke-width="0.55"/>
<line x1="436.28" y1="158.46" x2="438.28" y2="158.46" stroke="#8a8a8a" stroke-width="0.55"/>
<line x1="439.94" y1="169.91" x2="439.94" y2="159.70" stroke="#8a8a8a" stroke-width="0.55"/>
<line x1="438.94" y1="159.70" x2="440.94" y2="159.70" stroke="#8a8a8a" stroke-width="0.55"/>
<line x1="442.59" y1="170.14" x2="442.59" y2="160.10" stroke="#8a8a8a" stroke-width="0.55"/>
<line x1="441.59" y1="160.10" x2="443.59" y2="160.10" stroke="#8a8a8a" stroke-width="0.55"/>
<line x1="445.24" y1="170.82" x2="445.24" y2="160.91" stroke="#8a8a8a" stroke-width="0.55"/>
<line x1="444.24" y1="160.91" x2="446.24" y2="160.91" stroke="#8a8a8a" stroke-width="0.55"/>
<line x1="447.89" y1="171.16" x2="447.89" y2="159.96" stroke="#8a8a8a" stroke-width="0.55"/>
<line x1="446.89" y1="159.96" x2="448.89" y2="159.96" stroke="#8a8a8a" stroke-width="0.55"/>
<line x1="450.54" y1="171.64" x2="450.54" y2="160.39" stroke="#8a8a8a" stroke-width="0.55"/>
<line x1="449.54" y1="160.39" x2="451.54" y2="160.39" stroke="#8a8a8a" stroke-width="0.55"/>
<line x1="453.19" y1="171.60" x2="453.19" y2="160.69" stroke="#8a8a8a" stroke-width="0.55"/>
<line x1="452.19" y1="160.69" x2="454.19" y2="160.69" stroke="#8a8a8a" stroke-width="0.55"/>
<line x1="455.85" y1="172.27" x2="455.85" y2="162.02" stroke="#8a8a8a" stroke-width="0.55"/>
<line x1="454.85" y1="162.02" x2="456.85" y2="162.02" stroke="#8a8a8a" stroke-width="0.55"/>
<line x1="458.50" y1="172.52" x2="458.50" y2="162.34" stroke="#8a8a8a" stroke-width="0.55"/>
<line x1="457.50" y1="162.34" x2="459.50" y2="162.34" stroke="#8a8a8a" stroke-width="0.55"/>
<line x1="461.15" y1="172.89" x2="461.15" y2="162.62" stroke="#8a8a8a" stroke-width="0.55"/>
<line x1="460.15" y1="162.62" x2="462.15" y2="162.62" stroke="#8a8a8a" stroke-width="0.55"/>
<line x1="463.80" y1="173.98" x2="463.80" y2="163.43" stroke="#8a8a8a" stroke-width="0.55"/>
<line x1="462.80" y1="163.43" x2="464.80" y2="163.43" stroke="#8a8a8a" stroke-width="0.55"/>
<line x1="466.45" y1="173.90" x2="466.45" y2="163.86" stroke="#8a8a8a" stroke-width="0.55"/>
<line x1="465.45" y1="163.86" x2="467.45" y2="163.86" stroke="#8a8a8a" stroke-width="0.55"/>
<polyline points="304.70,214.10 307.35,214.10 310.00,214.10 312.65,214.10 315.31,214.10 317.96,214.10 320.61,214.10 323.26,214.10 325.91,214.10 328.56,214.10 331.22,210.40 333.87,207.77 336.52,203.46 339.17,199.67 341.82,195.73 344.48,192.00 347.13,188.58 349.78,185.95 352.43,182.91 355.08,179.84 357.73,176.57 360.38,174.77 363.04,172.05 365.69,170.24 368.34,167.97 370.99,165.75 373.64,165.21 376.30,163.57 378.95,162.75 381.60,161.84 384.25,160.58 386.90,161.14 389.55,160.50 392.20,160.45 394.86,160.93 397.51,161.75 400.16,162.04 402.81,162.52 405.46,162.78 408.12,164.13 410.77,164.11 413.42,165.02 416.07,165.51 418.72,165.46 421.37,166.30 424.02,166.77 426.68,167.08 429.33,167.45 431.98,168.50 434.63,168.84 437.28,169.49 439.94,169.91 442.59,170.14 445.24,170.82 447.89,171.16 450.54,171.64 453.19,171.60 455.85,172.27 458.50,172.52 461.15,172.89 463.80,173.98 466.45,173.90" fill="none" stroke="#8a8a8a" stroke-width="0.7" stroke-linejoin="round"/>
<rect x="303.55" y="212.95" width="2.30" height="2.30" fill="#fff" stroke="#8a8a8a" stroke-width="0.55"/>
<rect x="306.20" y="212.95" width="2.30" height="2.30" fill="#fff" stroke="#8a8a8a" stroke-width="0.55"/>
<rect x="308.85" y="212.95" width="2.30" height="2.30" fill="#fff" stroke="#8a8a8a" stroke-width="0.55"/>
<rect x="311.50" y="212.95" width="2.30" height="2.30" fill="#fff" stroke="#8a8a8a" stroke-width="0.55"/>
<rect x="314.16" y="212.95" width="2.30" height="2.30" fill="#fff" stroke="#8a8a8a" stroke-width="0.55"/>
<rect x="316.81" y="212.95" width="2.30" height="2.30" fill="#fff" stroke="#8a8a8a" stroke-width="0.55"/>
<rect x="319.46" y="212.95" width="2.30" height="2.30" fill="#fff" stroke="#8a8a8a" stroke-width="0.55"/>
<rect x="322.11" y="212.95" width="2.30" height="2.30" fill="#fff" stroke="#8a8a8a" stroke-width="0.55"/>
<rect x="324.76" y="212.95" width="2.30" height="2.30" fill="#fff" stroke="#8a8a8a" stroke-width="0.55"/>
<rect x="327.42" y="212.95" width="2.30" height="2.30" fill="#fff" stroke="#8a8a8a" stroke-width="0.55"/>
<rect x="330.07" y="209.25" width="2.30" height="2.30" fill="#fff" stroke="#8a8a8a" stroke-width="0.55"/>
<rect x="332.72" y="206.62" width="2.30" height="2.30" fill="#fff" stroke="#8a8a8a" stroke-width="0.55"/>
<rect x="335.37" y="202.31" width="2.30" height="2.30" fill="#fff" stroke="#8a8a8a" stroke-width="0.55"/>
<rect x="338.02" y="198.52" width="2.30" height="2.30" fill="#fff" stroke="#8a8a8a" stroke-width="0.55"/>
<rect x="340.67" y="194.58" width="2.30" height="2.30" fill="#fff" stroke="#8a8a8a" stroke-width="0.55"/>
<rect x="343.33" y="190.85" width="2.30" height="2.30" fill="#fff" stroke="#8a8a8a" stroke-width="0.55"/>
<rect x="345.98" y="187.43" width="2.30" height="2.30" fill="#fff" stroke="#8a8a8a" stroke-width="0.55"/>
<rect x="348.63" y="184.80" width="2.30" height="2.30" fill="#fff" stroke="#8a8a8a" stroke-width="0.55"/>
<rect x="351.28" y="181.76" width="2.30" height="2.30" fill="#fff" stroke="#8a8a8a" stroke-width="0.55"/>
<rect x="353.93" y="178.69" width="2.30" height="2.30" fill="#fff" stroke="#8a8a8a" stroke-width="0.55"/>
<rect x="356.58" y="175.42" width="2.30" height="2.30" fill="#fff" stroke="#8a8a8a" stroke-width="0.55"/>
<rect x="359.24" y="173.62" width="2.30" height="2.30" fill="#fff" stroke="#8a8a8a" stroke-width="0.55"/>
<rect x="361.89" y="170.90" width="2.30" height="2.30" fill="#fff" stroke="#8a8a8a" stroke-width="0.55"/>
<rect x="364.54" y="169.09" width="2.30" height="2.30" fill="#fff" stroke="#8a8a8a" stroke-width="0.55"/>
<rect x="367.19" y="166.82" width="2.30" height="2.30" fill="#fff" stroke="#8a8a8a" stroke-width="0.55"/>
<rect x="369.84" y="164.60" width="2.30" height="2.30" fill="#fff" stroke="#8a8a8a" stroke-width="0.55"/>
<rect x="372.49" y="164.06" width="2.30" height="2.30" fill="#fff" stroke="#8a8a8a" stroke-width="0.55"/>
<rect x="375.15" y="162.42" width="2.30" height="2.30" fill="#fff" stroke="#8a8a8a" stroke-width="0.55"/>
<rect x="377.80" y="161.60" width="2.30" height="2.30" fill="#fff" stroke="#8a8a8a" stroke-width="0.55"/>
<rect x="380.45" y="160.69" width="2.30" height="2.30" fill="#fff" stroke="#8a8a8a" stroke-width="0.55"/>
<rect x="383.10" y="159.43" width="2.30" height="2.30" fill="#fff" stroke="#8a8a8a" stroke-width="0.55"/>
<rect x="385.75" y="159.99" width="2.30" height="2.30" fill="#fff" stroke="#8a8a8a" stroke-width="0.55"/>
<rect x="388.40" y="159.35" width="2.30" height="2.30" fill="#fff" stroke="#8a8a8a" stroke-width="0.55"/>
<rect x="391.06" y="159.30" width="2.30" height="2.30" fill="#fff" stroke="#8a8a8a" stroke-width="0.55"/>
<rect x="393.71" y="159.78" width="2.30" height="2.30" fill="#fff" stroke="#8a8a8a" stroke-width="0.55"/>
<rect x="396.36" y="160.60" width="2.30" height="2.30" fill="#fff" stroke="#8a8a8a" stroke-width="0.55"/>
<rect x="399.01" y="160.89" width="2.30" height="2.30" fill="#fff" stroke="#8a8a8a" stroke-width="0.55"/>
<rect x="401.66" y="161.37" width="2.30" height="2.30" fill="#fff" stroke="#8a8a8a" stroke-width="0.55"/>
<rect x="404.31" y="161.63" width="2.30" height="2.30" fill="#fff" stroke="#8a8a8a" stroke-width="0.55"/>
<rect x="406.97" y="162.98" width="2.30" height="2.30" fill="#fff" stroke="#8a8a8a" stroke-width="0.55"/>
<rect x="409.62" y="162.96" width="2.30" height="2.30" fill="#fff" stroke="#8a8a8a" stroke-width="0.55"/>
<rect x="412.27" y="163.87" width="2.30" height="2.30" fill="#fff" stroke="#8a8a8a" stroke-width="0.55"/>
<rect x="414.92" y="164.36" width="2.30" height="2.30" fill="#fff" stroke="#8a8a8a" stroke-width="0.55"/>
<rect x="417.57" y="164.31" width="2.30" height="2.30" fill="#fff" stroke="#8a8a8a" stroke-width="0.55"/>
<rect x="420.22" y="165.15" width="2.30" height="2.30" fill="#fff" stroke="#8a8a8a" stroke-width="0.55"/>
<rect x="422.88" y="165.62" width="2.30" height="2.30" fill="#fff" stroke="#8a8a8a" stroke-width="0.55"/>
<rect x="425.53" y="165.93" width="2.30" height="2.30" fill="#fff" stroke="#8a8a8a" stroke-width="0.55"/>
<rect x="428.18" y="166.30" width="2.30" height="2.30" fill="#fff" stroke="#8a8a8a" stroke-width="0.55"/>
<rect x="430.83" y="167.35" width="2.30" height="2.30" fill="#fff" stroke="#8a8a8a" stroke-width="0.55"/>
<rect x="433.48" y="167.69" width="2.30" height="2.30" fill="#fff" stroke="#8a8a8a" stroke-width="0.55"/>
<rect x="436.13" y="168.34" width="2.30" height="2.30" fill="#fff" stroke="#8a8a8a" stroke-width="0.55"/>
<rect x="438.79" y="168.76" width="2.30" height="2.30" fill="#fff" stroke="#8a8a8a" stroke-width="0.55"/>
<rect x="441.44" y="168.99" width="2.30" height="2.30" fill="#fff" stroke="#8a8a8a" stroke-width="0.55"/>
<rect x="444.09" y="169.67" width="2.30" height="2.30" fill="#fff" stroke="#8a8a8a" stroke-width="0.55"/>
<rect x="446.74" y="170.01" width="2.30" height="2.30" fill="#fff" stroke="#8a8a8a" stroke-width="0.55"/>
<rect x="449.39" y="170.49" width="2.30" height="2.30" fill="#fff" stroke="#8a8a8a" stroke-width="0.55"/>
<rect x="452.04" y="170.45" width="2.30" height="2.30" fill="#fff" stroke="#8a8a8a" stroke-width="0.55"/>
<rect x="454.70" y="171.12" width="2.30" height="2.30" fill="#fff" stroke="#8a8a8a" stroke-width="0.55"/>
<rect x="457.35" y="171.37" width="2.30" height="2.30" fill="#fff" stroke="#8a8a8a" stroke-width="0.55"/>
<rect x="460.00" y="171.74" width="2.30" height="2.30" fill="#fff" stroke="#8a8a8a" stroke-width="0.55"/>
<rect x="462.65" y="172.83" width="2.30" height="2.30" fill="#fff" stroke="#8a8a8a" stroke-width="0.55"/>
<rect x="465.30" y="172.75" width="2.30" height="2.30" fill="#fff" stroke="#8a8a8a" stroke-width="0.55"/>
<line x1="331.22" y1="187.40" x2="331.22" y2="180.62" stroke="#e030e0" stroke-width="0.55"/>
<line x1="330.22" y1="180.62" x2="332.22" y2="180.62" stroke="#e030e0" stroke-width="0.55"/>
<line x1="333.87" y1="144.47" x2="333.87" y2="138.95" stroke="#e030e0" stroke-width="0.55"/>
<line x1="332.87" y1="138.95" x2="334.87" y2="138.95" stroke="#e030e0" stroke-width="0.55"/>
<line x1="336.52" y1="133.35" x2="336.52" y2="127.86" stroke="#e030e0" stroke-width="0.55"/>
<line x1="335.52" y1="127.86" x2="337.52" y2="127.86" stroke="#e030e0" stroke-width="0.55"/>
<line x1="339.17" y1="129.43" x2="339.17" y2="124.06" stroke="#e030e0" stroke-width="0.55"/>
<line x1="338.17" y1="124.06" x2="340.17" y2="124.06" stroke="#e030e0" stroke-width="0.55"/>
<line x1="341.82" y1="131.15" x2="341.82" y2="126.27" stroke="#e030e0" stroke-width="0.55"/>
<line x1="340.82" y1="126.27" x2="342.82" y2="126.27" stroke="#e030e0" stroke-width="0.55"/>
<line x1="344.48" y1="132.90" x2="344.48" y2="127.48" stroke="#e030e0" stroke-width="0.55"/>
<line x1="343.48" y1="127.48" x2="345.48" y2="127.48" stroke="#e030e0" stroke-width="0.55"/>
<line x1="347.13" y1="134.17" x2="347.13" y2="128.75" stroke="#e030e0" stroke-width="0.55"/>
<line x1="346.13" y1="128.75" x2="348.13" y2="128.75" stroke="#e030e0" stroke-width="0.55"/>
<line x1="349.78" y1="135.97" x2="349.78" y2="131.21" stroke="#e030e0" stroke-width="0.55"/>
<line x1="348.78" y1="131.21" x2="350.78" y2="131.21" stroke="#e030e0" stroke-width="0.55"/>
<line x1="352.43" y1="136.93" x2="352.43" y2="131.66" stroke="#e030e0" stroke-width="0.55"/>
<line x1="351.43" y1="131.66" x2="353.43" y2="131.66" stroke="#e030e0" stroke-width="0.55"/>
<line x1="355.08" y1="138.23" x2="355.08" y2="133.46" stroke="#e030e0" stroke-width="0.55"/>
<line x1="354.08" y1="133.46" x2="356.08" y2="133.46" stroke="#e030e0" stroke-width="0.55"/>
<line x1="357.73" y1="140.91" x2="357.73" y2="136.15" stroke="#e030e0" stroke-width="0.55"/>
<line x1="356.73" y1="136.15" x2="358.73" y2="136.15" stroke="#e030e0" stroke-width="0.55"/>
<line x1="360.38" y1="141.77" x2="360.38" y2="136.56" stroke="#e030e0" stroke-width="0.55"/>
<line x1="359.38" y1="136.56" x2="361.38" y2="136.56" stroke="#e030e0" stroke-width="0.55"/>
<line x1="363.04" y1="143.40" x2="363.04" y2="138.26" stroke="#e030e0" stroke-width="0.55"/>
<line x1="362.04" y1="138.26" x2="364.04" y2="138.26" stroke="#e030e0" stroke-width="0.55"/>
<line x1="365.69" y1="145.18" x2="365.69" y2="140.50" stroke="#e030e0" stroke-width="0.55"/>
<line x1="364.69" y1="140.50" x2="366.69" y2="140.50" stroke="#e030e0" stroke-width="0.55"/>
<line x1="368.34" y1="147.83" x2="368.34" y2="142.90" stroke="#e030e0" stroke-width="0.55"/>
<line x1="367.34" y1="142.90" x2="369.34" y2="142.90" stroke="#e030e0" stroke-width="0.55"/>
<line x1="370.99" y1="149.75" x2="370.99" y2="144.70" stroke="#e030e0" stroke-width="0.55"/>
<line x1="369.99" y1="144.70" x2="371.99" y2="144.70" stroke="#e030e0" stroke-width="0.55"/>
<line x1="373.64" y1="151.43" x2="373.64" y2="146.46" stroke="#e030e0" stroke-width="0.55"/>
<line x1="372.64" y1="146.46" x2="374.64" y2="146.46" stroke="#e030e0" stroke-width="0.55"/>
<line x1="376.30" y1="153.16" x2="376.30" y2="148.26" stroke="#e030e0" stroke-width="0.55"/>
<line x1="375.30" y1="148.26" x2="377.30" y2="148.26" stroke="#e030e0" stroke-width="0.55"/>
<line x1="378.95" y1="154.84" x2="378.95" y2="149.79" stroke="#e030e0" stroke-width="0.55"/>
<line x1="377.95" y1="149.79" x2="379.95" y2="149.79" stroke="#e030e0" stroke-width="0.55"/>
<line x1="381.60" y1="155.94" x2="381.60" y2="150.50" stroke="#e030e0" stroke-width="0.55"/>
<line x1="380.60" y1="150.50" x2="382.60" y2="150.50" stroke="#e030e0" stroke-width="0.55"/>
<line x1="384.25" y1="157.27" x2="384.25" y2="152.37" stroke="#e030e0" stroke-width="0.55"/>
<line x1="383.25" y1="152.37" x2="385.25" y2="152.37" stroke="#e030e0" stroke-width="0.55"/>
<line x1="386.90" y1="158.53" x2="386.90" y2="153.18" stroke="#e030e0" stroke-width="0.55"/>
<line x1="385.90" y1="153.18" x2="387.90" y2="153.18" stroke="#e030e0" stroke-width="0.55"/>
<line x1="389.55" y1="160.18" x2="389.55" y2="154.92" stroke="#e030e0" stroke-width="0.55"/>
<line x1="388.55" y1="154.92" x2="390.55" y2="154.92" stroke="#e030e0" stroke-width="0.55"/>
<line x1="392.20" y1="161.12" x2="392.20" y2="156.22" stroke="#e030e0" stroke-width="0.55"/>
<line x1="391.20" y1="156.22" x2="393.20" y2="156.22" stroke="#e030e0" stroke-width="0.55"/>
<line x1="394.86" y1="162.12" x2="394.86" y2="156.95" stroke="#e030e0" stroke-width="0.55"/>
<line x1="393.86" y1="156.95" x2="395.86" y2="156.95" stroke="#e030e0" stroke-width="0.55"/>
<line x1="397.51" y1="164.16" x2="397.51" y2="158.74" stroke="#e030e0" stroke-width="0.55"/>
<line x1="396.51" y1="158.74" x2="398.51" y2="158.74" stroke="#e030e0" stroke-width="0.55"/>
<line x1="400.16" y1="164.63" x2="400.16" y2="159.31" stroke="#e030e0" stroke-width="0.55"/>
<line x1="399.16" y1="159.31" x2="401.16" y2="159.31" stroke="#e030e0" stroke-width="0.55"/>
<line x1="402.81" y1="165.52" x2="402.81" y2="160.58" stroke="#e030e0" stroke-width="0.55"/>
<line x1="401.81" y1="160.58" x2="403.81" y2="160.58" stroke="#e030e0" stroke-width="0.55"/>
<line x1="405.46" y1="166.84" x2="405.46" y2="161.12" stroke="#e030e0" stroke-width="0.55"/>
<line x1="404.46" y1="161.12" x2="406.46" y2="161.12" stroke="#e030e0" stroke-width="0.55"/>
<line x1="408.12" y1="168.05" x2="408.12" y2="162.50" stroke="#e030e0" stroke-width="0.55"/>
<line x1="407.12" y1="162.50" x2="409.12" y2="162.50" stroke="#e030e0" stroke-width="0.55"/>
<line x1="410.77" y1="169.52" x2="410.77" y2="163.81" stroke="#e030e0" stroke-width="0.55"/>
<line x1="409.77" y1="163.81" x2="411.77" y2="163.81" stroke="#e030e0" stroke-width="0.55"/>
<line x1="413.42" y1="170.89" x2="413.42" y2="165.87" stroke="#e030e0" stroke-width="0.55"/>
<line x1="412.42" y1="165.87" x2="414.42" y2="165.87" stroke="#e030e0" stroke-width="0.55"/>
<line x1="416.07" y1="171.33" x2="416.07" y2="166.11" stroke="#e030e0" stroke-width="0.55"/>
<line x1="415.07" y1="166.11" x2="417.07" y2="166.11" stroke="#e030e0" stroke-width="0.55"/>
<line x1="418.72" y1="172.85" x2="418.72" y2="167.78" stroke="#e030e0" stroke-width="0.55"/>
<line x1="417.72" y1="167.78" x2="419.72" y2="167.78" stroke="#e030e0" stroke-width="0.55"/>
<line x1="421.37" y1="173.45" x2="421.37" y2="167.68" stroke="#e030e0" stroke-width="0.55"/>
<line x1="420.37" y1="167.68" x2="422.37" y2="167.68" stroke="#e030e0" stroke-width="0.55"/>
<line x1="424.02" y1="174.36" x2="424.02" y2="168.99" stroke="#e030e0" stroke-width="0.55"/>
<line x1="423.02" y1="168.99" x2="425.02" y2="168.99" stroke="#e030e0" stroke-width="0.55"/>
<line x1="426.68" y1="175.96" x2="426.68" y2="170.67" stroke="#e030e0" stroke-width="0.55"/>
<line x1="425.68" y1="170.67" x2="427.68" y2="170.67" stroke="#e030e0" stroke-width="0.55"/>
<line x1="429.33" y1="177.02" x2="429.33" y2="171.41" stroke="#e030e0" stroke-width="0.55"/>
<line x1="428.33" y1="171.41" x2="430.33" y2="171.41" stroke="#e030e0" stroke-width="0.55"/>
<line x1="431.98" y1="177.60" x2="431.98" y2="171.49" stroke="#e030e0" stroke-width="0.55"/>
<line x1="430.98" y1="171.49" x2="432.98" y2="171.49" stroke="#e030e0" stroke-width="0.55"/>
<line x1="434.63" y1="178.86" x2="434.63" y2="172.78" stroke="#e030e0" stroke-width="0.55"/>
<line x1="433.63" y1="172.78" x2="435.63" y2="172.78" stroke="#e030e0" stroke-width="0.55"/>
<line x1="437.28" y1="180.39" x2="437.28" y2="174.77" stroke="#e030e0" stroke-width="0.55"/>
<line x1="436.28" y1="174.77" x2="438.28" y2="174.77" stroke="#e030e0" stroke-width="0.55"/>
<line x1="439.94" y1="181.25" x2="439.94" y2="175.68" stroke="#e030e0" stroke-width="0.55"/>
<line x1="438.94" y1="175.68" x2="440.94" y2="175.68" stroke="#e030e0" stroke-width="0.55"/>
<line x1="442.59" y1="182.06" x2="442.59" y2="175.71" stroke="#e030e0" stroke-width="0.55"/>
<line x1="441.59" y1="175.71" x2="443.59" y2="175.71" stroke="#e030e0" stroke-width="0.55"/>
<line x1="445.24" y1="182.31" x2="445.24" y2="176.25" stroke="#e030e0" stroke-width="0.55"/>
<line x1="444.24" y1="176.25" x2="446.24" y2="176.25" stroke="#e030e0" stroke-width="0.55"/>
<line x1="447.89" y1="183.23" x2="447.89" y2="176.98" stroke="#e030e0" stroke-width="0.55"/>
<line x1="446.89" y1="176.98" x2="448.89" y2="176.98" stroke="#e030e0" stroke-width="0.55"/>
<line x1="450.54" y1="184.54" x2="450.54" y2="178.84" stroke="#e030e0" stroke-width="0.55"/>
<line x1="449.54" y1="178.84" x2="451.54" y2="178.84" stroke="#e030e0" stroke-width="0.55"/>
<line x1="453.19" y1="184.90" x2="453.19" y2="179.17" stroke="#e030e0" stroke-width="0.55"/>
<line x1="452.19" y1="179.17" x2="454.19" y2="179.17" stroke="#e030e0" stroke-width="0.55"/>
<line x1="455.85" y1="185.63" x2="455.85" y2="179.23" stroke="#e030e0" stroke-width="0.55"/>
<line x1="454.85" y1="179.23" x2="456.85" y2="179.23" stroke="#e030e0" stroke-width="0.55"/>
<line x1="458.50" y1="186.03" x2="458.50" y2="179.84" stroke="#e030e0" stroke-width="0.55"/>
<line x1="457.50" y1="179.84" x2="459.50" y2="179.84" stroke="#e030e0" stroke-width="0.55"/>
<line x1="461.15" y1="186.41" x2="461.15" y2="180.52" stroke="#e030e0" stroke-width="0.55"/>
<line x1="460.15" y1="180.52" x2="462.15" y2="180.52" stroke="#e030e0" stroke-width="0.55"/>
<line x1="463.80" y1="186.46" x2="463.80" y2="179.64" stroke="#e030e0" stroke-width="0.55"/>
<line x1="462.80" y1="179.64" x2="464.80" y2="179.64" stroke="#e030e0" stroke-width="0.55"/>
<line x1="466.45" y1="186.73" x2="466.45" y2="180.22" stroke="#e030e0" stroke-width="0.55"/>
<line x1="465.45" y1="180.22" x2="467.45" y2="180.22" stroke="#e030e0" stroke-width="0.55"/>
<polyline points="304.70,214.10 307.35,214.16 310.00,214.22 312.65,214.28 315.31,214.33 317.96,214.40 320.61,214.46 323.26,214.52 325.91,214.58 328.56,214.64 331.22,187.40 333.87,144.47 336.52,133.35 339.17,129.43 341.82,131.15 344.48,132.90 347.13,134.17 349.78,135.97 352.43,136.93 355.08,138.23 357.73,140.91 360.38,141.77 363.04,143.40 365.69,145.18 368.34,147.83 370.99,149.75 373.64,151.43 376.30,153.16 378.95,154.84 381.60,155.94 384.25,157.27 386.90,158.53 389.55,160.18 392.20,161.12 394.86,162.12 397.51,164.16 400.16,164.63 402.81,165.52 405.46,166.84 408.12,168.05 410.77,169.52 413.42,170.89 416.07,171.33 418.72,172.85 421.37,173.45 424.02,174.36 426.68,175.96 429.33,177.02 431.98,177.60 434.63,178.86 437.28,180.39 439.94,181.25 442.59,182.06 445.24,182.31 447.89,183.23 450.54,184.54 453.19,184.90 455.85,185.63 458.50,186.03 461.15,186.41 463.80,186.46 466.45,186.73" fill="none" stroke="#e030e0" stroke-width="0.7" stroke-linejoin="round"/>
<circle cx="304.70" cy="214.10" r="1.3" fill="#fff" stroke="#e030e0" stroke-width="0.55"/>
<circle cx="307.35" cy="214.16" r="1.3" fill="#fff" stroke="#e030e0" stroke-width="0.55"/>
<circle cx="310.00" cy="214.22" r="1.3" fill="#fff" stroke="#e030e0" stroke-width="0.55"/>
<circle cx="312.65" cy="214.28" r="1.3" fill="#fff" stroke="#e030e0" stroke-width="0.55"/>
<circle cx="315.31" cy="214.33" r="1.3" fill="#fff" stroke="#e030e0" stroke-width="0.55"/>
<circle cx="317.96" cy="214.40" r="1.3" fill="#fff" stroke="#e030e0" stroke-width="0.55"/>
<circle cx="320.61" cy="214.46" r="1.3" fill="#fff" stroke="#e030e0" stroke-width="0.55"/>
<circle cx="323.26" cy="214.52" r="1.3" fill="#fff" stroke="#e030e0" stroke-width="0.55"/>
<circle cx="325.91" cy="214.58" r="1.3" fill="#fff" stroke="#e030e0" stroke-width="0.55"/>
<circle cx="328.56" cy="214.64" r="1.3" fill="#fff" stroke="#e030e0" stroke-width="0.55"/>
<circle cx="331.22" cy="187.40" r="1.3" fill="#fff" stroke="#e030e0" stroke-width="0.55"/>
<circle cx="333.87" cy="144.47" r="1.3" fill="#fff" stroke="#e030e0" stroke-width="0.55"/>
<circle cx="336.52" cy="133.35" r="1.3" fill="#fff" stroke="#e030e0" stroke-width="0.55"/>
<circle cx="339.17" cy="129.43" r="1.3" fill="#fff" stroke="#e030e0" stroke-width="0.55"/>
<circle cx="341.82" cy="131.15" r="1.3" fill="#fff" stroke="#e030e0" stroke-width="0.55"/>
<circle cx="344.48" cy="132.90" r="1.3" fill="#fff" stroke="#e030e0" stroke-width="0.55"/>
<circle cx="347.13" cy="134.17" r="1.3" fill="#fff" stroke="#e030e0" stroke-width="0.55"/>
<circle cx="349.78" cy="135.97" r="1.3" fill="#fff" stroke="#e030e0" stroke-width="0.55"/>
<circle cx="352.43" cy="136.93" r="1.3" fill="#fff" stroke="#e030e0" stroke-width="0.55"/>
<circle cx="355.08" cy="138.23" r="1.3" fill="#fff" stroke="#e030e0" stroke-width="0.55"/>
<circle cx="357.73" cy="140.91" r="1.3" fill="#fff" stroke="#e030e0" stroke-width="0.55"/>
<circle cx="360.38" cy="141.77" r="1.3" fill="#fff" stroke="#e030e0" stroke-width="0.55"/>
<circle cx="363.04" cy="143.40" r="1.3" fill="#fff" stroke="#e030e0" stroke-width="0.55"/>
<circle cx="365.69" cy="145.18" r="1.3" fill="#fff" stroke="#e030e0" stroke-width="0.55"/>
<circle cx="368.34" cy="147.83" r="1.3" fill="#fff" stroke="#e030e0" stroke-width="0.55"/>
<circle cx="370.99" cy="149.75" r="1.3" fill="#fff" stroke="#e030e0" stroke-width="0.55"/>
<circle cx="373.64" cy="151.43" r="1.3" fill="#fff" stroke="#e030e0" stroke-width="0.55"/>
<circle cx="376.30" cy="153.16" r="1.3" fill="#fff" stroke="#e030e0" stroke-width="0.55"/>
<circle cx="378.95" cy="154.84" r="1.3" fill="#fff" stroke="#e030e0" stroke-width="0.55"/>
<circle cx="381.60" cy="155.94" r="1.3" fill="#fff" stroke="#e030e0" stroke-width="0.55"/>
<circle cx="384.25" cy="157.27" r="1.3" fill="#fff" stroke="#e030e0" stroke-width="0.55"/>
<circle cx="386.90" cy="158.53" r="1.3" fill="#fff" stroke="#e030e0" stroke-width="0.55"/>
<circle cx="389.55" cy="160.18" r="1.3" fill="#fff" stroke="#e030e0" stroke-width="0.55"/>
<circle cx="392.20" cy="161.12" r="1.3" fill="#fff" stroke="#e030e0" stroke-width="0.55"/>
<circle cx="394.86" cy="162.12" r="1.3" fill="#fff" stroke="#e030e0" stroke-width="0.55"/>
<circle cx="397.51" cy="164.16" r="1.3" fill="#fff" stroke="#e030e0" stroke-width="0.55"/>
<circle cx="400.16" cy="164.63" r="1.3" fill="#fff" stroke="#e030e0" stroke-width="0.55"/>
<circle cx="402.81" cy="165.52" r="1.3" fill="#fff" stroke="#e030e0" stroke-width="0.55"/>
<circle cx="405.46" cy="166.84" r="1.3" fill="#fff" stroke="#e030e0" stroke-width="0.55"/>
<circle cx="408.12" cy="168.05" r="1.3" fill="#fff" stroke="#e030e0" stroke-width="0.55"/>
<circle cx="410.77" cy="169.52" r="1.3" fill="#fff" stroke="#e030e0" stroke-width="0.55"/>
<circle cx="413.42" cy="170.89" r="1.3" fill="#fff" stroke="#e030e0" stroke-width="0.55"/>
<circle cx="416.07" cy="171.33" r="1.3" fill="#fff" stroke="#e030e0" stroke-width="0.55"/>
<circle cx="418.72" cy="172.85" r="1.3" fill="#fff" stroke="#e030e0" stroke-width="0.55"/>
<circle cx="421.37" cy="173.45" r="1.3" fill="#fff" stroke="#e030e0" stroke-width="0.55"/>
<circle cx="424.02" cy="174.36" r="1.3" fill="#fff" stroke="#e030e0" stroke-width="0.55"/>
<circle cx="426.68" cy="175.96" r="1.3" fill="#fff" stroke="#e030e0" stroke-width="0.55"/>
<circle cx="429.33" cy="177.02" r="1.3" fill="#fff" stroke="#e030e0" stroke-width="0.55"/>
<circle cx="431.98" cy="177.60" r="1.3" fill="#fff" stroke="#e030e0" stroke-width="0.55"/>
<circle cx="434.63" cy="178.86" r="1.3" fill="#fff" stroke="#e030e0" stroke-width="0.55"/>
<circle cx="437.28" cy="180.39" r="1.3" fill="#fff" stroke="#e030e0" stroke-width="0.55"/>
<circle cx="439.94" cy="181.25" r="1.3" fill="#fff" stroke="#e030e0" stroke-width="0.55"/>
<circle cx="442.59" cy="182.06" r="1.3" fill="#fff" stroke="#e030e0" stroke-width="0.55"/>
<circle cx="445.24" cy="182.31" r="1.3" fill="#fff" stroke="#e030e0" stroke-width="0.55"/>
<circle cx="447.89" cy="183.23" r="1.3" fill="#fff" stroke="#e030e0" stroke-width="0.55"/>
<circle cx="450.54" cy="184.54" r="1.3" fill="#fff" stroke="#e030e0" stroke-width="0.55"/>
<circle cx="453.19" cy="184.90" r="1.3" fill="#fff" stroke="#e030e0" stroke-width="0.55"/>
<circle cx="455.85" cy="185.63" r="1.3" fill="#fff" stroke="#e030e0" stroke-width="0.55"/>
<circle cx="458.50" cy="186.03" r="1.3" fill="#fff" stroke="#e030e0" stroke-width="0.55"/>
<circle cx="461.15" cy="186.41" r="1.3" fill="#fff" stroke="#e030e0" stroke-width="0.55"/>
<circle cx="463.80" cy="186.46" r="1.3" fill="#fff" stroke="#e030e0" stroke-width="0.55"/>
<circle cx="466.45" cy="186.73" r="1.3" fill="#fff" stroke="#e030e0" stroke-width="0.55"/>
<line x1="329.10" y1="220.60" x2="463.80" y2="220.60" stroke="#1818d0" stroke-width="2.3"/>
<text x="400.00" y="215.20" font-size="8.6" text-anchor="middle" fill="#111" stroke="#111" stroke-width="0.22">40 mM [K<tspan dy="-3" font-size="5">+</tspan><tspan dy="3" font-size="1">&#8203;</tspan>]<tspan dy="1.6" font-size="6">o</tspan><tspan dy="-1.6" font-size="1">&#8203;</tspan></text>
<line x1="304.70" y1="107.30" x2="304.70" y2="225.20" stroke="#222" stroke-width="0.7"/>
<line x1="304.70" y1="225.20" x2="463.80" y2="225.20" stroke="#222" stroke-width="0.7"/>
<line x1="301.90" y1="214.10" x2="304.70" y2="214.10" stroke="#222" stroke-width="0.7"/>
<text x="298.50" y="217.10" font-size="8.3" text-anchor="end" fill="#111" stroke="#111" stroke-width="0.22">0</text>
<line x1="303.10" y1="203.48" x2="304.70" y2="203.48" stroke="#222" stroke-width="0.6"/>
<line x1="301.90" y1="192.86" x2="304.70" y2="192.86" stroke="#222" stroke-width="0.7"/>
<text x="298.50" y="195.86" font-size="8.3" text-anchor="end" fill="#111" stroke="#111" stroke-width="0.22">2</text>
<line x1="303.10" y1="182.24" x2="304.70" y2="182.24" stroke="#222" stroke-width="0.6"/>
<line x1="301.90" y1="171.62" x2="304.70" y2="171.62" stroke="#222" stroke-width="0.7"/>
<text x="298.50" y="174.62" font-size="8.3" text-anchor="end" fill="#111" stroke="#111" stroke-width="0.22">4</text>
<line x1="303.10" y1="161.00" x2="304.70" y2="161.00" stroke="#222" stroke-width="0.6"/>
<line x1="301.90" y1="150.38" x2="304.70" y2="150.38" stroke="#222" stroke-width="0.7"/>
<text x="298.50" y="153.38" font-size="8.3" text-anchor="end" fill="#111" stroke="#111" stroke-width="0.22">6</text>
<line x1="303.10" y1="139.76" x2="304.70" y2="139.76" stroke="#222" stroke-width="0.6"/>
<line x1="301.90" y1="129.14" x2="304.70" y2="129.14" stroke="#222" stroke-width="0.7"/>
<text x="298.50" y="132.14" font-size="8.3" text-anchor="end" fill="#111" stroke="#111" stroke-width="0.22">8</text>
<line x1="303.10" y1="118.52" x2="304.70" y2="118.52" stroke="#222" stroke-width="0.6"/>
<line x1="301.90" y1="107.90" x2="304.70" y2="107.90" stroke="#222" stroke-width="0.7"/>
<text x="298.50" y="110.90" font-size="8.3" text-anchor="end" fill="#111" stroke="#111" stroke-width="0.22">10</text>
<line x1="304.70" y1="225.20" x2="304.70" y2="227.80" stroke="#222" stroke-width="0.7"/>
<text x="304.70" y="237.50" font-size="8.3" text-anchor="middle" fill="#111" stroke="#111" stroke-width="0.22">0</text>
<line x1="331.22" y1="225.20" x2="331.22" y2="226.70" stroke="#222" stroke-width="0.6"/>
<line x1="357.73" y1="225.20" x2="357.73" y2="227.80" stroke="#222" stroke-width="0.7"/>
<text x="357.73" y="237.50" font-size="8.3" text-anchor="middle" fill="#111" stroke="#111" stroke-width="0.22">100</text>
<line x1="384.25" y1="225.20" x2="384.25" y2="226.70" stroke="#222" stroke-width="0.6"/>
<line x1="410.77" y1="225.20" x2="410.77" y2="227.80" stroke="#222" stroke-width="0.7"/>
<text x="410.77" y="237.50" font-size="8.3" text-anchor="middle" fill="#111" stroke="#111" stroke-width="0.22">200</text>
<line x1="437.28" y1="225.20" x2="437.28" y2="226.70" stroke="#222" stroke-width="0.6"/>
<line x1="463.80" y1="225.20" x2="463.80" y2="227.80" stroke="#222" stroke-width="0.7"/>
<text x="463.80" y="237.50" font-size="8.3" text-anchor="middle" fill="#111" stroke="#111" stroke-width="0.22">300</text>
<text x="286.50" y="166.00" font-size="8.2" text-anchor="middle" fill="#111" stroke="#111" stroke-width="0.22" transform="rotate(-90 286.50 166.00)"><tspan>Δ</tspan><tspan font-style="italic">F</tspan>/<tspan font-style="italic">F</tspan><tspan dy="1.8" font-size="5.5">0</tspan><tspan dy="-1.8" font-size="1">&#8203;</tspan></text>
<text x="384.40" y="250.50" font-size="8.4" text-anchor="middle" fill="#111" stroke="#111" stroke-width="0.22">Time (s)</text>
<rect x="371.40" y="118.60" width="96.20" height="17.50" fill="#fff" stroke="#444" stroke-width="0.6"/>
<line x1="375.00" y1="123.47" x2="387.50" y2="123.47" stroke="#8a8a8a" stroke-width="0.7"/>
<rect x="380.10" y="122.32" width="2.30" height="2.30" fill="#fff" stroke="#8a8a8a" stroke-width="0.55"/>
<text x="390.00" y="125.97" font-size="7.05" text-anchor="start" fill="#111" stroke="#111" stroke-width="0.22">NLS-GCaMP3-NLS (10)</text>
<line x1="375.00" y1="131.22" x2="387.50" y2="131.22" stroke="#e030e0" stroke-width="0.7"/>
<circle cx="381.25" cy="131.22" r="1.3" fill="#fff" stroke="#e030e0" stroke-width="0.55"/>
<text x="390.00" y="133.72" font-size="7.05" text-anchor="start" fill="#111" stroke="#111" stroke-width="0.22">GCaMP3-X<tspan dy="1.9" font-size="5.2">N</tspan><tspan dy="-1.9" font-size="1">&#8203;</tspan> (8)</text>
<line x1="536.80" y1="108.90" x2="536.80" y2="212.60" stroke="#222" stroke-width="0.8"/>
<line x1="536.80" y1="212.60" x2="581.20" y2="212.60" stroke="#222" stroke-width="0.8"/>
<line x1="534.20" y1="212.60" x2="536.80" y2="212.60" stroke="#222" stroke-width="0.7"/>
<text x="529.80" y="215.50" font-size="8.3" text-anchor="end" fill="#111" stroke="#111" stroke-width="0.22">0</text>
<line x1="534.20" y1="178.30" x2="536.80" y2="178.30" stroke="#222" stroke-width="0.7"/>
<text x="529.80" y="181.20" font-size="8.3" text-anchor="end" fill="#111" stroke="#111" stroke-width="0.22">0.5</text>
<line x1="534.20" y1="144.00" x2="536.80" y2="144.00" stroke="#222" stroke-width="0.7"/>
<text x="529.80" y="146.90" font-size="8.3" text-anchor="end" fill="#111" stroke="#111" stroke-width="0.22">1.0</text>
<line x1="534.20" y1="109.70" x2="536.80" y2="109.70" stroke="#222" stroke-width="0.7"/>
<text x="529.80" y="112.60" font-size="8.3" text-anchor="end" fill="#111" stroke="#111" stroke-width="0.22">1.5</text>
<line x1="547.40" y1="212.60" x2="547.40" y2="215.00" stroke="#222" stroke-width="0.7"/>
<line x1="569.60" y1="212.60" x2="569.60" y2="215.00" stroke="#222" stroke-width="0.7"/>
<circle cx="544.90" cy="208.48" r="1.9" fill="none" stroke="#999" stroke-width="0.6"/>
<circle cx="547.40" cy="209.17" r="1.9" fill="none" stroke="#999" stroke-width="0.6"/>
<circle cx="549.90" cy="207.80" r="1.9" fill="none" stroke="#999" stroke-width="0.6"/>
<circle cx="546.10" cy="205.74" r="1.9" fill="none" stroke="#999" stroke-width="0.6"/>
<circle cx="548.70" cy="205.74" r="1.9" fill="none" stroke="#999" stroke-width="0.6"/>
<circle cx="547.40" cy="203.68" r="1.9" fill="none" stroke="#999" stroke-width="0.6"/>
<circle cx="543.90" cy="207.11" r="1.9" fill="none" stroke="#999" stroke-width="0.6"/>
<circle cx="550.90" cy="209.17" r="1.9" fill="none" stroke="#999" stroke-width="0.6"/>
<circle cx="546.20" cy="210.54" r="1.9" fill="none" stroke="#999" stroke-width="0.6"/>
<circle cx="548.60" cy="210.54" r="1.9" fill="none" stroke="#999" stroke-width="0.6"/>
<line x1="541.50" y1="207.80" x2="553.30" y2="207.80" stroke="#888" stroke-width="0.7"/>
<circle cx="567.30" cy="146.06" r="1.9" fill="none" stroke="#e030e0" stroke-width="0.6"/>
<circle cx="571.90" cy="144.69" r="1.9" fill="none" stroke="#e030e0" stroke-width="0.6"/>
<circle cx="567.00" cy="171.44" r="1.9" fill="none" stroke="#e030e0" stroke-width="0.6"/>
<circle cx="572.20" cy="171.44" r="1.9" fill="none" stroke="#e030e0" stroke-width="0.6"/>
<circle cx="569.60" cy="176.93" r="1.9" fill="none" stroke="#e030e0" stroke-width="0.6"/>
<circle cx="571.90" cy="178.30" r="1.9" fill="none" stroke="#e030e0" stroke-width="0.6"/>
<circle cx="569.60" cy="185.85" r="1.9" fill="none" stroke="#e030e0" stroke-width="0.6"/>
<circle cx="569.60" cy="203.68" r="1.9" fill="none" stroke="#e030e0" stroke-width="0.6"/>
<line x1="562.30" y1="171.44" x2="577.20" y2="171.44" stroke="#e030e0" stroke-width="0.7"/>
<line x1="569.60" y1="163.89" x2="569.60" y2="178.99" stroke="#e030e0" stroke-width="0.7"/>
<line x1="566.60" y1="163.89" x2="572.60" y2="163.89" stroke="#e030e0" stroke-width="0.7"/>
<line x1="566.60" y1="178.99" x2="572.60" y2="178.99" stroke="#e030e0" stroke-width="0.7"/>
<polyline points="547.60,191.20 547.60,125.40 569.60,125.40 569.60,133.80" fill="none" stroke="#333" stroke-width="0.7" stroke-linejoin="round"/>
<text x="569.80" y="127.60" font-size="10.5" text-anchor="middle" fill="#111" stroke="#111" stroke-width="0.22">***</text>
<text x="500.50" y="159.00" font-size="8" text-anchor="middle" fill="#111" stroke="#111" stroke-width="0.22" transform="rotate(-90 500.50 159.00)">Rising speed</text>
<text x="510.50" y="159.00" font-size="8" text-anchor="middle" fill="#111" stroke="#111" stroke-width="0.22" transform="rotate(-90 510.50 159.00)">(Δ<tspan font-style="italic">F</tspan>/<tspan font-style="italic">F</tspan><tspan dy="1.6" font-size="5">0</tspan><tspan dy="-1.6" font-size="1">&#8203;</tspan>·s<tspan dy="-3" font-size="5">−1</tspan><tspan dy="3" font-size="1">&#8203;</tspan>)</text>
<text x="537.50" y="228.50" font-size="8.2" text-anchor="end" fill="#111" stroke="#111" stroke-width="0.22" transform="rotate(-45 537.50 228.50)">NLS-</text>
<text x="558.00" y="222.50" font-size="8.2" text-anchor="end" fill="#111" stroke="#111" stroke-width="0.22" transform="rotate(-45 558.00 222.50)">GCaMP3-NLS</text>
<text x="581.50" y="224.00" font-size="8.2" text-anchor="end" fill="#111" stroke="#111" stroke-width="0.22" transform="rotate(-45 581.50 224.00)">GCaMP3-X<tspan dy="1.6" font-size="6">N</tspan><tspan dy="-1.6" font-size="1">&#8203;</tspan></text>
<text x="298.00" y="304.20" font-size="8.3" text-anchor="middle" fill="#111" stroke="#111" stroke-width="0.22" transform="rotate(-90 298.00 304.20)">Hoechst</text>
<text x="298.00" y="355.30" font-size="8.2" text-anchor="middle" fill="#111" stroke="#111" stroke-width="0.22" transform="rotate(-90 298.00 355.30)" letter-spacing="0.5">GFP</text>
<clipPath id="c13"><rect x="302.70" y="280.30" width="46.60" height="46.50"/></clipPath>
<rect x="302.70" y="280.30" width="46.60" height="46.50" fill="#000" stroke="none" stroke-width="0.7"/>
<g clip-path="url(#c13)"><g filter="url(#noise)">
<rect x="302.70" y="280.30" width="46.60" height="46.50" fill="#000"/>
<ellipse cx="328.50" cy="305.20" rx="8.4" ry="8.2" fill="#3030ff" opacity="1" filter="url(#b1)"/>
<ellipse cx="329.00" cy="305.60" rx="4.8" ry="4.8" fill="#101088" opacity="0.95" filter="url(#b1)"/>
<ellipse cx="317.30" cy="305.00" rx="2.6" ry="1.8" fill="#2828e0" opacity="0.9" transform="rotate(-20 317.30 305.00)" filter="url(#b05)"/>
<ellipse cx="339.50" cy="297.50" rx="1.5" ry="2.2" fill="#2828e0" opacity="0.9" filter="url(#b05)"/>
<ellipse cx="337.50" cy="310.00" rx="2" ry="3" fill="#2222c8" opacity="0.8" filter="url(#b05)"/>
<ellipse cx="322.50" cy="299.00" rx="1.8" ry="1.4" fill="#2222c8" opacity="0.8" filter="url(#b05)"/>
<circle cx="332.60" cy="321.30" r="0.9" fill="#3030ff" stroke="none" stroke-width="0.6"/>
</g></g>
<line x1="305.00" y1="318.70" x2="315.80" y2="318.70" stroke="#ddd" stroke-width="0.9"/>
<text x="303.30" y="325.40" font-size="6.8" text-anchor="start" fill="#fff" stroke="#fff" stroke-width="0.22">10 µm</text>
<clipPath id="c14"><rect x="302.70" y="329.80" width="46.60" height="45.70"/></clipPath>
<rect x="302.70" y="329.80" width="46.60" height="45.70" fill="#000" stroke="none" stroke-width="0.7"/>
<g clip-path="url(#c14)"><g filter="url(#noise)">
<rect x="302.70" y="329.80" width="46.60" height="45.70" fill="#000"/>
<polygon points="318.20,345.20 323.20,341.70 314.20,332.20" fill="#114214" opacity="0.273" filter="url(#b1)"/>
<polygon points="332.20,340.70 338.20,344.20 342.20,331.70" fill="#114214" opacity="0.273" filter="url(#b1)"/>
<polygon points="339.20,348.20 339.20,353.70 351.20,350.20" fill="#114214" opacity="0.273" filter="url(#b1)"/>
<polygon points="317.70,358.20 322.20,363.20 309.70,374.20" fill="#114214" opacity="0.273" filter="url(#b1)"/>
<polygon points="320.70,342.20 328.20,340.20 335.20,341.70 339.20,347.20 339.70,354.20 338.20,360.20 333.70,363.70 321.20,363.70 317.70,358.70 316.70,349.70" fill="#114214" opacity="0.65" filter="url(#b2)"/>
<ellipse cx="328.20" cy="353.70" rx="9.3" ry="9.8" fill="#114214" opacity="0.45499999999999996" filter="url(#b1)"/>
<ellipse cx="328.20" cy="354.20" rx="7.1" ry="7.999999999999999" fill="#155218" opacity="0.35" filter="url(#b1)"/>
<ellipse cx="328.20" cy="354.20" rx="7.3" ry="8.2" fill="none" stroke="#fff" stroke-width="0.6" stroke-dasharray="1.2 1.0" opacity="0.9"/>
</g></g>
<text x="347.70" y="374.20" font-size="6.8" text-anchor="end" fill="#fff" stroke="#fff" stroke-width="0.22">0 s</text>
<clipPath id="c15"><rect x="352.60" y="329.80" width="46.60" height="45.70"/></clipPath>
<rect x="352.60" y="329.80" width="46.60" height="45.70" fill="#000" stroke="none" stroke-width="0.7"/>
<g clip-path="url(#c15)"><g filter="url(#noise)">
<rect x="352.60" y="329.80" width="46.60" height="45.70" fill="#000"/>
<polygon points="365.50,345.20 370.50,341.70 361.50,332.20" fill="#2cb838" opacity="0.42" filter="url(#b1)"/>
<polygon points="379.50,340.70 385.50,344.20 389.50,331.70" fill="#2cb838" opacity="0.42" filter="url(#b1)"/>
<polygon points="386.50,348.20 386.50,353.70 398.50,350.20" fill="#2cb838" opacity="0.42" filter="url(#b1)"/>
<polygon points="365.00,358.20 369.50,363.20 357.00,374.20" fill="#2cb838" opacity="0.42" filter="url(#b1)"/>
<polygon points="368.00,342.20 375.50,340.20 382.50,341.70 386.50,347.20 387.00,354.20 385.50,360.20 381.00,363.70 368.50,363.70 365.00,358.70 364.00,349.70" fill="#2cb838" opacity="1" filter="url(#b2)"/>
<ellipse cx="375.50" cy="353.70" rx="9.3" ry="9.8" fill="#2cb838" opacity="0.7" filter="url(#b1)"/>
<ellipse cx="375.50" cy="354.20" rx="8.200000000000001" ry="8.700000000000001" fill="#5cff68" opacity="1" filter="url(#b1)"/>
<ellipse cx="375.50" cy="354.20" rx="8.4" ry="8.9" fill="none" stroke="#fff" stroke-width="0.6" stroke-dasharray="1.2 1.0" opacity="0.9"/>
</g></g>
<text x="397.60" y="374.20" font-size="6.8" text-anchor="end" fill="#fff" stroke="#fff" stroke-width="0.22">100 s</text>
<clipPath id="c16"><rect x="402.50" y="329.80" width="46.60" height="45.70"/></clipPath>
<rect x="402.50" y="329.80" width="46.60" height="45.70" fill="#000" stroke="none" stroke-width="0.7"/>
<g clip-path="url(#c16)"><g filter="url(#noise)">
<rect x="402.50" y="329.80" width="46.60" height="45.70" fill="#000"/>
<polygon points="415.40,345.20 420.40,341.70 411.40,332.20" fill="#166a1e" opacity="0.357" filter="url(#b1)"/>
<polygon points="429.40,340.70 435.40,344.20 439.40,331.70" fill="#166a1e" opacity="0.357" filter="url(#b1)"/>
<polygon points="436.40,348.20 436.40,353.70 448.40,350.20" fill="#166a1e" opacity="0.357" filter="url(#b1)"/>
<polygon points="414.90,358.20 419.40,363.20 406.90,374.20" fill="#166a1e" opacity="0.357" filter="url(#b1)"/>
<polygon points="417.90,342.20 425.40,340.20 432.40,341.70 436.40,347.20 436.90,354.20 435.40,360.20 430.90,363.70 418.40,363.70 414.90,358.70 413.90,349.70" fill="#166a1e" opacity="0.85" filter="url(#b2)"/>
<ellipse cx="425.40" cy="353.70" rx="9.3" ry="9.8" fill="#166a1e" opacity="0.595" filter="url(#b1)"/>
<ellipse cx="425.40" cy="354.20" rx="7.3999999999999995" ry="8.100000000000001" fill="#2eb03a" opacity="0.95" filter="url(#b1)"/>
<ellipse cx="425.40" cy="354.20" rx="7.6" ry="8.3" fill="none" stroke="#fff" stroke-width="0.6" stroke-dasharray="1.2 1.0" opacity="0.9"/>
</g></g>
<text x="447.50" y="374.20" font-size="6.8" text-anchor="end" fill="#fff" stroke="#fff" stroke-width="0.22">300 s</text>
<text x="366.30" y="294.60" font-size="8.4" text-anchor="start" fill="#111" stroke="#111" stroke-width="0.22">GCaMP3-X<tspan dy="1.8" font-size="5.6">C</tspan><tspan dy="-1.8" font-size="1">&#8203;</tspan> (Cytosol)</text>
<text x="366.30" y="308.40" font-size="8.4" text-anchor="start" fill="#111" stroke="#111" stroke-width="0.22">GCaMP3-X<tspan dy="1.8" font-size="5.6">N</tspan><tspan dy="-1.8" font-size="1">&#8203;</tspan> (Nucleus)</text>
<clipPath id="c17"><rect x="502.70" y="279.50" width="45.60" height="46.80"/></clipPath>
<rect x="502.70" y="279.50" width="45.60" height="46.80" fill="#000" stroke="none" stroke-width="0.7"/>
<g clip-path="url(#c17)"><g filter="url(#noise)">
<rect x="502.70" y="279.50" width="45.60" height="46.80" fill="#000"/>
<ellipse cx="520.60" cy="305.70" rx="8.0" ry="8.6" fill="#2020ff" opacity="1" transform="rotate(15 520.60 305.70)" filter="url(#b1)"/>
<ellipse cx="521.50" cy="304.50" rx="6" ry="6" fill="#3434ff" opacity="1" filter="url(#b1)"/>
<circle cx="511.00" cy="291.90" r="0.9" fill="#2020b0" stroke="none" stroke-width="0.6"/>
<circle cx="525.20" cy="289.10" r="0.8" fill="#202090" stroke="none" stroke-width="0.6"/>
<circle cx="547.00" cy="280.50" r="0.9" fill="#2020b0" stroke="none" stroke-width="0.6"/>
</g></g>
<line x1="503.70" y1="318.40" x2="519.80" y2="318.40" stroke="#ddd" stroke-width="0.9"/>
<text x="503.20" y="325.60" font-size="6.8" text-anchor="start" fill="#fff" stroke="#fff" stroke-width="0.22">10 µm</text>
<clipPath id="c18"><rect x="502.70" y="329.80" width="45.60" height="45.90"/></clipPath>
<rect x="502.70" y="329.80" width="45.60" height="45.90" fill="#000" stroke="none" stroke-width="0.7"/>
<g clip-path="url(#c18)"><g filter="url(#noise)">
<rect x="502.70" y="329.80" width="45.60" height="45.90" fill="#000"/>
<polygon points="526.00,339.20 533.00,347.20 543.00,342.20 535.00,338.20" fill="#124416" opacity="0.294" filter="url(#b1)"/>
<polygon points="512.00,359.20 517.00,363.70 507.00,373.20" fill="#124416" opacity="0.294" filter="url(#b1)"/>
<polygon points="530.00,353.20 530.00,359.20 540.00,361.20" fill="#124416" opacity="0.294" filter="url(#b1)"/>
<polygon points="514.00,344.20 519.00,340.70 511.00,334.20" fill="#124416" opacity="0.294" filter="url(#b1)"/>
<polygon points="516.00,342.20 524.00,338.70 532.50,340.70 535.00,344.70 532.50,350.20 530.50,358.70 524.00,364.20 516.00,364.20 511.50,358.70 511.50,348.20" fill="#124416" opacity="0.7" filter="url(#b2)"/>
<ellipse cx="521.50" cy="353.20" rx="9" ry="10.3" fill="#124416" opacity="0.48999999999999994" transform="rotate(15 521.50 353.20)" filter="url(#b1)"/>
<ellipse cx="521.00" cy="354.20" rx="7.999999999999999" ry="9.100000000000001" fill="#16581a" opacity="0.35" transform="rotate(12 521.00 354.20)" filter="url(#b1)"/>
<ellipse cx="521.00" cy="354.20" rx="8.2" ry="9.3" transform="rotate(12 521.00 354.20)" fill="none" stroke="#fff" stroke-width="0.6" stroke-dasharray="1.2 1.0" opacity="0.9"/>
</g></g>
<text x="546.70" y="374.40" font-size="6.8" text-anchor="end" fill="#fff" stroke="#fff" stroke-width="0.22">0 s</text>
<clipPath id="c19"><rect x="552.10" y="329.80" width="45.60" height="45.90"/></clipPath>
<rect x="552.10" y="329.80" width="45.60" height="45.90" fill="#000" stroke="none" stroke-width="0.7"/>
<g clip-path="url(#c19)"><g filter="url(#noise)">
<rect x="552.10" y="329.80" width="45.60" height="45.90" fill="#000"/>
<polygon points="575.40,339.80 582.40,347.80 592.40,342.80 584.40,338.80" fill="#16601c" opacity="0.357" filter="url(#b1)"/>
<polygon points="561.40,359.80 566.40,364.30 556.40,373.80" fill="#16601c" opacity="0.357" filter="url(#b1)"/>
<polygon points="579.40,353.80 579.40,359.80 589.40,361.80" fill="#16601c" opacity="0.357" filter="url(#b1)"/>
<polygon points="563.40,344.80 568.40,341.30 560.40,334.80" fill="#16601c" opacity="0.357" filter="url(#b1)"/>
<polygon points="565.40,342.80 573.40,339.30 581.90,341.30 584.40,345.30 581.90,350.80 579.90,359.30 573.40,364.80 565.40,364.80 560.90,359.30 560.90,348.80" fill="#16601c" opacity="0.85" filter="url(#b2)"/>
<ellipse cx="570.90" cy="353.80" rx="9" ry="10.3" fill="#16601c" opacity="0.595" transform="rotate(15 570.90 353.80)" filter="url(#b1)"/>
<ellipse cx="570.40" cy="354.80" rx="7.999999999999999" ry="9.100000000000001" fill="#289c32" opacity="0.9" transform="rotate(12 570.40 354.80)" filter="url(#b1)"/>
<ellipse cx="570.40" cy="354.80" rx="8.2" ry="9.3" transform="rotate(12 570.40 354.80)" fill="none" stroke="#fff" stroke-width="0.6" stroke-dasharray="1.2 1.0" opacity="0.9"/>
</g></g>
<text x="596.10" y="374.40" font-size="6.8" text-anchor="end" fill="#fff" stroke="#fff" stroke-width="0.22">100 s</text>
<clipPath id="c20"><rect x="602.00" y="329.80" width="45.60" height="45.90"/></clipPath>
<rect x="602.00" y="329.80" width="45.60" height="45.90" fill="#000" stroke="none" stroke-width="0.7"/>
<g clip-path="url(#c20)"><g filter="url(#noise)">
<rect x="602.00" y="329.80" width="45.60" height="45.90" fill="#000"/>
<polygon points="625.90,339.20 632.90,347.20 642.90,342.20 634.90,338.20" fill="#1c8626" opacity="0.378" filter="url(#b1)"/>
<polygon points="611.90,359.20 616.90,363.70 606.90,373.20" fill="#1c8626" opacity="0.378" filter="url(#b1)"/>
<polygon points="629.90,353.20 629.90,359.20 639.90,361.20" fill="#1c8626" opacity="0.378" filter="url(#b1)"/>
<polygon points="613.90,344.20 618.90,340.70 610.90,334.20" fill="#1c8626" opacity="0.378" filter="url(#b1)"/>
<polygon points="615.90,342.20 623.90,338.70 632.40,340.70 634.90,344.70 632.40,350.20 630.40,358.70 623.90,364.20 615.90,364.20 611.40,358.70 611.40,348.20" fill="#1c8626" opacity="0.9" filter="url(#b2)"/>
<ellipse cx="621.40" cy="353.20" rx="9" ry="10.3" fill="#1c8626" opacity="0.63" transform="rotate(15 621.40 353.20)" filter="url(#b1)"/>
<ellipse cx="620.90" cy="354.20" rx="7.999999999999999" ry="9.100000000000001" fill="#40e04c" opacity="1" transform="rotate(12 620.90 354.20)" filter="url(#b1)"/>
<ellipse cx="620.90" cy="354.20" rx="8.2" ry="9.3" transform="rotate(12 620.90 354.20)" fill="none" stroke="#fff" stroke-width="0.6" stroke-dasharray="1.2 1.0" opacity="0.9"/>
</g></g>
<text x="646.00" y="374.40" font-size="6.8" text-anchor="end" fill="#fff" stroke="#fff" stroke-width="0.22">250 s</text>
<text x="552.60" y="295.00" font-size="8.4" text-anchor="start" fill="#111" stroke="#111" stroke-width="0.22">GCaMP3-X<tspan dy="1.8" font-size="5.6">C</tspan><tspan dy="-1.8" font-size="1">&#8203;</tspan> (Cytosol)</text>
<text x="552.60" y="309.00" font-size="8.4" text-anchor="start" fill="#111" stroke="#111" stroke-width="0.22">NLS-GCaMP3-NLS (Nucleus)</text>
<line x1="336.90" y1="499.60" x2="336.90" y2="494.82" stroke="#e030e0" stroke-width="0.55"/>
<line x1="335.90" y1="494.82" x2="337.90" y2="494.82" stroke="#e030e0" stroke-width="0.55"/>
<line x1="339.56" y1="478.08" x2="339.56" y2="468.95" stroke="#e030e0" stroke-width="0.55"/>
<line x1="338.56" y1="468.95" x2="340.56" y2="468.95" stroke="#e030e0" stroke-width="0.55"/>
<line x1="342.22" y1="460.40" x2="342.22" y2="451.10" stroke="#e030e0" stroke-width="0.55"/>
<line x1="341.22" y1="451.10" x2="343.22" y2="451.10" stroke="#e030e0" stroke-width="0.55"/>
<line x1="344.88" y1="445.88" x2="344.88" y2="435.82" stroke="#e030e0" stroke-width="0.55"/>
<line x1="343.88" y1="435.82" x2="345.88" y2="435.82" stroke="#e030e0" stroke-width="0.55"/>
<line x1="347.54" y1="429.36" x2="347.54" y2="419.39" stroke="#e030e0" stroke-width="0.55"/>
<line x1="346.54" y1="419.39" x2="348.54" y2="419.39" stroke="#e030e0" stroke-width="0.55"/>
<line x1="350.20" y1="419.55" x2="350.20" y2="410.86" stroke="#e030e0" stroke-width="0.55"/>
<line x1="349.20" y1="410.86" x2="351.20" y2="410.86" stroke="#e030e0" stroke-width="0.55"/>
<line x1="352.86" y1="415.52" x2="352.86" y2="408.34" stroke="#e030e0" stroke-width="0.55"/>
<line x1="351.86" y1="408.34" x2="353.86" y2="408.34" stroke="#e030e0" stroke-width="0.55"/>
<line x1="355.52" y1="415.32" x2="355.52" y2="408.44" stroke="#e030e0" stroke-width="0.55"/>
<line x1="354.52" y1="408.44" x2="356.52" y2="408.44" stroke="#e030e0" stroke-width="0.55"/>
<line x1="358.18" y1="417.02" x2="358.18" y2="410.50" stroke="#e030e0" stroke-width="0.55"/>
<line x1="357.18" y1="410.50" x2="359.18" y2="410.50" stroke="#e030e0" stroke-width="0.55"/>
<line x1="360.84" y1="418.99" x2="360.84" y2="413.31" stroke="#e030e0" stroke-width="0.55"/>
<line x1="359.84" y1="413.31" x2="361.84" y2="413.31" stroke="#e030e0" stroke-width="0.55"/>
<line x1="363.50" y1="421.44" x2="363.50" y2="416.71" stroke="#e030e0" stroke-width="0.55"/>
<line x1="362.50" y1="416.71" x2="364.50" y2="416.71" stroke="#e030e0" stroke-width="0.55"/>
<line x1="366.16" y1="423.80" x2="366.16" y2="419.12" stroke="#e030e0" stroke-width="0.55"/>
<line x1="365.16" y1="419.12" x2="367.16" y2="419.12" stroke="#e030e0" stroke-width="0.55"/>
<line x1="368.82" y1="427.27" x2="368.82" y2="422.56" stroke="#e030e0" stroke-width="0.55"/>
<line x1="367.82" y1="422.56" x2="369.82" y2="422.56" stroke="#e030e0" stroke-width="0.55"/>
<line x1="371.48" y1="429.52" x2="371.48" y2="424.97" stroke="#e030e0" stroke-width="0.55"/>
<line x1="370.48" y1="424.97" x2="372.48" y2="424.97" stroke="#e030e0" stroke-width="0.55"/>
<line x1="374.14" y1="431.71" x2="374.14" y2="427.24" stroke="#e030e0" stroke-width="0.55"/>
<line x1="373.14" y1="427.24" x2="375.14" y2="427.24" stroke="#e030e0" stroke-width="0.55"/>
<line x1="376.80" y1="432.81" x2="376.80" y2="428.60" stroke="#e030e0" stroke-width="0.55"/>
<line x1="375.80" y1="428.60" x2="377.80" y2="428.60" stroke="#e030e0" stroke-width="0.55"/>
<line x1="379.46" y1="435.52" x2="379.46" y2="431.19" stroke="#e030e0" stroke-width="0.55"/>
<line x1="378.46" y1="431.19" x2="380.46" y2="431.19" stroke="#e030e0" stroke-width="0.55"/>
<line x1="382.12" y1="437.04" x2="382.12" y2="432.28" stroke="#e030e0" stroke-width="0.55"/>
<line x1="381.12" y1="432.28" x2="383.12" y2="432.28" stroke="#e030e0" stroke-width="0.55"/>
<line x1="384.78" y1="439.87" x2="384.78" y2="435.76" stroke="#e030e0" stroke-width="0.55"/>
<line x1="383.78" y1="435.76" x2="385.78" y2="435.76" stroke="#e030e0" stroke-width="0.55"/>
<line x1="387.44" y1="441.73" x2="387.44" y2="437.41" stroke="#e030e0" stroke-width="0.55"/>
<line x1="386.44" y1="437.41" x2="388.44" y2="437.41" stroke="#e030e0" stroke-width="0.55"/>
<line x1="390.10" y1="443.36" x2="390.10" y2="439.00" stroke="#e030e0" stroke-width="0.55"/>
<line x1="389.10" y1="439.00" x2="391.10" y2="439.00" stroke="#e030e0" stroke-width="0.55"/>
<line x1="392.76" y1="444.15" x2="392.76" y2="439.62" stroke="#e030e0" stroke-width="0.55"/>
<line x1="391.76" y1="439.62" x2="393.76" y2="439.62" stroke="#e030e0" stroke-width="0.55"/>
<line x1="395.42" y1="445.52" x2="395.42" y2="441.41" stroke="#e030e0" stroke-width="0.55"/>
<line x1="394.42" y1="441.41" x2="396.42" y2="441.41" stroke="#e030e0" stroke-width="0.55"/>
<line x1="398.08" y1="446.93" x2="398.08" y2="442.77" stroke="#e030e0" stroke-width="0.55"/>
<line x1="397.08" y1="442.77" x2="399.08" y2="442.77" stroke="#e030e0" stroke-width="0.55"/>
<line x1="400.74" y1="448.85" x2="400.74" y2="444.68" stroke="#e030e0" stroke-width="0.55"/>
<line x1="399.74" y1="444.68" x2="401.74" y2="444.68" stroke="#e030e0" stroke-width="0.55"/>
<line x1="403.40" y1="449.93" x2="403.40" y2="445.64" stroke="#e030e0" stroke-width="0.55"/>
<line x1="402.40" y1="445.64" x2="404.40" y2="445.64" stroke="#e030e0" stroke-width="0.55"/>
<line x1="406.06" y1="451.38" x2="406.06" y2="447.05" stroke="#e030e0" stroke-width="0.55"/>
<line x1="405.06" y1="447.05" x2="407.06" y2="447.05" stroke="#e030e0" stroke-width="0.55"/>
<line x1="408.72" y1="452.77" x2="408.72" y2="448.05" stroke="#e030e0" stroke-width="0.55"/>
<line x1="407.72" y1="448.05" x2="409.72" y2="448.05" stroke="#e030e0" stroke-width="0.55"/>
<line x1="411.38" y1="454.58" x2="411.38" y2="449.92" stroke="#e030e0" stroke-width="0.55"/>
<line x1="410.38" y1="449.92" x2="412.38" y2="449.92" stroke="#e030e0" stroke-width="0.55"/>
<line x1="414.04" y1="455.03" x2="414.04" y2="450.34" stroke="#e030e0" stroke-width="0.55"/>
<line x1="413.04" y1="450.34" x2="415.04" y2="450.34" stroke="#e030e0" stroke-width="0.55"/>
<line x1="416.70" y1="457.23" x2="416.70" y2="453.13" stroke="#e030e0" stroke-width="0.55"/>
<line x1="415.70" y1="453.13" x2="417.70" y2="453.13" stroke="#e030e0" stroke-width="0.55"/>
<line x1="419.36" y1="457.20" x2="419.36" y2="453.07" stroke="#e030e0" stroke-width="0.55"/>
<line x1="418.36" y1="453.07" x2="420.36" y2="453.07" stroke="#e030e0" stroke-width="0.55"/>
<line x1="422.02" y1="458.11" x2="422.02" y2="453.48" stroke="#e030e0" stroke-width="0.55"/>
<line x1="421.02" y1="453.48" x2="423.02" y2="453.48" stroke="#e030e0" stroke-width="0.55"/>
<line x1="424.68" y1="459.97" x2="424.68" y2="455.19" stroke="#e030e0" stroke-width="0.55"/>
<line x1="423.68" y1="455.19" x2="425.68" y2="455.19" stroke="#e030e0" stroke-width="0.55"/>
<line x1="427.34" y1="460.34" x2="427.34" y2="455.85" stroke="#e030e0" stroke-width="0.55"/>
<line x1="426.34" y1="455.85" x2="428.34" y2="455.85" stroke="#e030e0" stroke-width="0.55"/>
<line x1="430.00" y1="460.82" x2="430.00" y2="456.22" stroke="#e030e0" stroke-width="0.55"/>
<line x1="429.00" y1="456.22" x2="431.00" y2="456.22" stroke="#e030e0" stroke-width="0.55"/>
<line x1="432.66" y1="461.52" x2="432.66" y2="457.34" stroke="#e030e0" stroke-width="0.55"/>
<line x1="431.66" y1="457.34" x2="433.66" y2="457.34" stroke="#e030e0" stroke-width="0.55"/>
<line x1="435.32" y1="462.91" x2="435.32" y2="458.42" stroke="#e030e0" stroke-width="0.55"/>
<line x1="434.32" y1="458.42" x2="436.32" y2="458.42" stroke="#e030e0" stroke-width="0.55"/>
<line x1="437.98" y1="463.94" x2="437.98" y2="459.04" stroke="#e030e0" stroke-width="0.55"/>
<line x1="436.98" y1="459.04" x2="438.98" y2="459.04" stroke="#e030e0" stroke-width="0.55"/>
<line x1="440.64" y1="464.85" x2="440.64" y2="460.00" stroke="#e030e0" stroke-width="0.55"/>
<line x1="439.64" y1="460.00" x2="441.64" y2="460.00" stroke="#e030e0" stroke-width="0.55"/>
<line x1="443.30" y1="465.00" x2="443.30" y2="460.11" stroke="#e030e0" stroke-width="0.55"/>
<line x1="442.30" y1="460.11" x2="444.30" y2="460.11" stroke="#e030e0" stroke-width="0.55"/>
<line x1="445.96" y1="466.22" x2="445.96" y2="461.23" stroke="#e030e0" stroke-width="0.55"/>
<line x1="444.96" y1="461.23" x2="446.96" y2="461.23" stroke="#e030e0" stroke-width="0.55"/>
<line x1="448.62" y1="466.41" x2="448.62" y2="461.94" stroke="#e030e0" stroke-width="0.55"/>
<line x1="447.62" y1="461.94" x2="449.62" y2="461.94" stroke="#e030e0" stroke-width="0.55"/>
<line x1="451.28" y1="467.35" x2="451.28" y2="462.96" stroke="#e030e0" stroke-width="0.55"/>
<line x1="450.28" y1="462.96" x2="452.28" y2="462.96" stroke="#e030e0" stroke-width="0.55"/>
<line x1="453.94" y1="467.53" x2="453.94" y2="463.10" stroke="#e030e0" stroke-width="0.55"/>
<line x1="452.94" y1="463.10" x2="454.94" y2="463.10" stroke="#e030e0" stroke-width="0.55"/>
<line x1="456.60" y1="467.69" x2="456.60" y2="462.96" stroke="#e030e0" stroke-width="0.55"/>
<line x1="455.60" y1="462.96" x2="457.60" y2="462.96" stroke="#e030e0" stroke-width="0.55"/>
<line x1="459.26" y1="468.94" x2="459.26" y2="464.07" stroke="#e030e0" stroke-width="0.55"/>
<line x1="458.26" y1="464.07" x2="460.26" y2="464.07" stroke="#e030e0" stroke-width="0.55"/>
<line x1="461.92" y1="468.88" x2="461.92" y2="463.80" stroke="#e030e0" stroke-width="0.55"/>
<line x1="460.92" y1="463.80" x2="462.92" y2="463.80" stroke="#e030e0" stroke-width="0.55"/>
<line x1="464.58" y1="469.68" x2="464.58" y2="464.75" stroke="#e030e0" stroke-width="0.55"/>
<line x1="463.58" y1="464.75" x2="465.58" y2="464.75" stroke="#e030e0" stroke-width="0.55"/>
<line x1="467.24" y1="469.90" x2="467.24" y2="465.00" stroke="#e030e0" stroke-width="0.55"/>
<line x1="466.24" y1="465.00" x2="468.24" y2="465.00" stroke="#e030e0" stroke-width="0.55"/>
<line x1="469.90" y1="470.59" x2="469.90" y2="465.58" stroke="#e030e0" stroke-width="0.55"/>
<line x1="468.90" y1="465.58" x2="470.90" y2="465.58" stroke="#e030e0" stroke-width="0.55"/>
<line x1="472.56" y1="470.98" x2="472.56" y2="466.21" stroke="#e030e0" stroke-width="0.55"/>
<line x1="471.56" y1="466.21" x2="473.56" y2="466.21" stroke="#e030e0" stroke-width="0.55"/>
<polyline points="310.30,504.90 312.96,504.84 315.62,504.78 318.28,504.72 320.94,504.66 323.60,504.60 326.26,504.55 328.92,504.48 331.58,504.43 334.24,504.37 336.90,499.60 339.56,478.08 342.22,460.40 344.88,445.88 347.54,429.36 350.20,419.55 352.86,415.52 355.52,415.32 358.18,417.02 360.84,418.99 363.50,421.44 366.16,423.80 368.82,427.27 371.48,429.52 374.14,431.71 376.80,432.81 379.46,435.52 382.12,437.04 384.78,439.87 387.44,441.73 390.10,443.36 392.76,444.15 395.42,445.52 398.08,446.93 400.74,448.85 403.40,449.93 406.06,451.38 408.72,452.77 411.38,454.58 414.04,455.03 416.70,457.23 419.36,457.20 422.02,458.11 424.68,459.97 427.34,460.34 430.00,460.82 432.66,461.52 435.32,462.91 437.98,463.94 440.64,464.85 443.30,465.00 445.96,466.22 448.62,466.41 451.28,467.35 453.94,467.53 456.60,467.69 459.26,468.94 461.92,468.88 464.58,469.68 467.24,469.90 469.90,470.59 472.56,470.98" fill="none" stroke="#e030e0" stroke-width="0.7" stroke-linejoin="round"/>
<circle cx="310.30" cy="504.90" r="1.3" fill="#fff" stroke="#e030e0" stroke-width="0.55"/>
<circle cx="312.96" cy="504.84" r="1.3" fill="#fff" stroke="#e030e0" stroke-width="0.55"/>
<circle cx="315.62" cy="504.78" r="1.3" fill="#fff" stroke="#e030e0" stroke-width="0.55"/>
<circle cx="318.28" cy="504.72" r="1.3" fill="#fff" stroke="#e030e0" stroke-width="0.55"/>
<circle cx="320.94" cy="504.66" r="1.3" fill="#fff" stroke="#e030e0" stroke-width="0.55"/>
<circle cx="323.60" cy="504.60" r="1.3" fill="#fff" stroke="#e030e0" stroke-width="0.55"/>
<circle cx="326.26" cy="504.55" r="1.3" fill="#fff" stroke="#e030e0" stroke-width="0.55"/>
<circle cx="328.92" cy="504.48" r="1.3" fill="#fff" stroke="#e030e0" stroke-width="0.55"/>
<circle cx="331.58" cy="504.43" r="1.3" fill="#fff" stroke="#e030e0" stroke-width="0.55"/>
<circle cx="334.24" cy="504.37" r="1.3" fill="#fff" stroke="#e030e0" stroke-width="0.55"/>
<circle cx="336.90" cy="499.60" r="1.3" fill="#fff" stroke="#e030e0" stroke-width="0.55"/>
<circle cx="339.56" cy="478.08" r="1.3" fill="#fff" stroke="#e030e0" stroke-width="0.55"/>
<circle cx="342.22" cy="460.40" r="1.3" fill="#fff" stroke="#e030e0" stroke-width="0.55"/>
<circle cx="344.88" cy="445.88" r="1.3" fill="#fff" stroke="#e030e0" stroke-width="0.55"/>
<circle cx="347.54" cy="429.36" r="1.3" fill="#fff" stroke="#e030e0" stroke-width="0.55"/>
<circle cx="350.20" cy="419.55" r="1.3" fill="#fff" stroke="#e030e0" stroke-width="0.55"/>
<circle cx="352.86" cy="415.52" r="1.3" fill="#fff" stroke="#e030e0" stroke-width="0.55"/>
<circle cx="355.52" cy="415.32" r="1.3" fill="#fff" stroke="#e030e0" stroke-width="0.55"/>
<circle cx="358.18" cy="417.02" r="1.3" fill="#fff" stroke="#e030e0" stroke-width="0.55"/>
<circle cx="360.84" cy="418.99" r="1.3" fill="#fff" stroke="#e030e0" stroke-width="0.55"/>
<circle cx="363.50" cy="421.44" r="1.3" fill="#fff" stroke="#e030e0" stroke-width="0.55"/>
<circle cx="366.16" cy="423.80" r="1.3" fill="#fff" stroke="#e030e0" stroke-width="0.55"/>
<circle cx="368.82" cy="427.27" r="1.3" fill="#fff" stroke="#e030e0" stroke-width="0.55"/>
<circle cx="371.48" cy="429.52" r="1.3" fill="#fff" stroke="#e030e0" stroke-width="0.55"/>
<circle cx="374.14" cy="431.71" r="1.3" fill="#fff" stroke="#e030e0" stroke-width="0.55"/>
<circle cx="376.80" cy="432.81" r="1.3" fill="#fff" stroke="#e030e0" stroke-width="0.55"/>
<circle cx="379.46" cy="435.52" r="1.3" fill="#fff" stroke="#e030e0" stroke-width="0.55"/>
<circle cx="382.12" cy="437.04" r="1.3" fill="#fff" stroke="#e030e0" stroke-width="0.55"/>
<circle cx="384.78" cy="439.87" r="1.3" fill="#fff" stroke="#e030e0" stroke-width="0.55"/>
<circle cx="387.44" cy="441.73" r="1.3" fill="#fff" stroke="#e030e0" stroke-width="0.55"/>
<circle cx="390.10" cy="443.36" r="1.3" fill="#fff" stroke="#e030e0" stroke-width="0.55"/>
<circle cx="392.76" cy="444.15" r="1.3" fill="#fff" stroke="#e030e0" stroke-width="0.55"/>
<circle cx="395.42" cy="445.52" r="1.3" fill="#fff" stroke="#e030e0" stroke-width="0.55"/>
<circle cx="398.08" cy="446.93" r="1.3" fill="#fff" stroke="#e030e0" stroke-width="0.55"/>
<circle cx="400.74" cy="448.85" r="1.3" fill="#fff" stroke="#e030e0" stroke-width="0.55"/>
<circle cx="403.40" cy="449.93" r="1.3" fill="#fff" stroke="#e030e0" stroke-width="0.55"/>
<circle cx="406.06" cy="451.38" r="1.3" fill="#fff" stroke="#e030e0" stroke-width="0.55"/>
<circle cx="408.72" cy="452.77" r="1.3" fill="#fff" stroke="#e030e0" stroke-width="0.55"/>
<circle cx="411.38" cy="454.58" r="1.3" fill="#fff" stroke="#e030e0" stroke-width="0.55"/>
<circle cx="414.04" cy="455.03" r="1.3" fill="#fff" stroke="#e030e0" stroke-width="0.55"/>
<circle cx="416.70" cy="457.23" r="1.3" fill="#fff" stroke="#e030e0" stroke-width="0.55"/>
<circle cx="419.36" cy="457.20" r="1.3" fill="#fff" stroke="#e030e0" stroke-width="0.55"/>
<circle cx="422.02" cy="458.11" r="1.3" fill="#fff" stroke="#e030e0" stroke-width="0.55"/>
<circle cx="424.68" cy="459.97" r="1.3" fill="#fff" stroke="#e030e0" stroke-width="0.55"/>
<circle cx="427.34" cy="460.34" r="1.3" fill="#fff" stroke="#e030e0" stroke-width="0.55"/>
<circle cx="430.00" cy="460.82" r="1.3" fill="#fff" stroke="#e030e0" stroke-width="0.55"/>
<circle cx="432.66" cy="461.52" r="1.3" fill="#fff" stroke="#e030e0" stroke-width="0.55"/>
<circle cx="435.32" cy="462.91" r="1.3" fill="#fff" stroke="#e030e0" stroke-width="0.55"/>
<circle cx="437.98" cy="463.94" r="1.3" fill="#fff" stroke="#e030e0" stroke-width="0.55"/>
<circle cx="440.64" cy="464.85" r="1.3" fill="#fff" stroke="#e030e0" stroke-width="0.55"/>
<circle cx="443.30" cy="465.00" r="1.3" fill="#fff" stroke="#e030e0" stroke-width="0.55"/>
<circle cx="445.96" cy="466.22" r="1.3" fill="#fff" stroke="#e030e0" stroke-width="0.55"/>
<circle cx="448.62" cy="466.41" r="1.3" fill="#fff" stroke="#e030e0" stroke-width="0.55"/>
<circle cx="451.28" cy="467.35" r="1.3" fill="#fff" stroke="#e030e0" stroke-width="0.55"/>
<circle cx="453.94" cy="467.53" r="1.3" fill="#fff" stroke="#e030e0" stroke-width="0.55"/>
<circle cx="456.60" cy="467.69" r="1.3" fill="#fff" stroke="#e030e0" stroke-width="0.55"/>
<circle cx="459.26" cy="468.94" r="1.3" fill="#fff" stroke="#e030e0" stroke-width="0.55"/>
<circle cx="461.92" cy="468.88" r="1.3" fill="#fff" stroke="#e030e0" stroke-width="0.55"/>
<circle cx="464.58" cy="469.68" r="1.3" fill="#fff" stroke="#e030e0" stroke-width="0.55"/>
<circle cx="467.24" cy="469.90" r="1.3" fill="#fff" stroke="#e030e0" stroke-width="0.55"/>
<circle cx="469.90" cy="470.59" r="1.3" fill="#fff" stroke="#e030e0" stroke-width="0.55"/>
<circle cx="472.56" cy="470.98" r="1.3" fill="#fff" stroke="#e030e0" stroke-width="0.55"/>
<line x1="336.90" y1="500.64" x2="336.90" y2="495.30" stroke="#e23a3a" stroke-width="0.55"/>
<line x1="335.90" y1="495.30" x2="337.90" y2="495.30" stroke="#e23a3a" stroke-width="0.55"/>
<line x1="339.56" y1="481.44" x2="339.56" y2="472.60" stroke="#e23a3a" stroke-width="0.55"/>
<line x1="338.56" y1="472.60" x2="340.56" y2="472.60" stroke="#e23a3a" stroke-width="0.55"/>
<line x1="342.22" y1="469.69" x2="342.22" y2="459.92" stroke="#e23a3a" stroke-width="0.55"/>
<line x1="341.22" y1="459.92" x2="343.22" y2="459.92" stroke="#e23a3a" stroke-width="0.55"/>
<line x1="344.88" y1="461.47" x2="344.88" y2="451.79" stroke="#e23a3a" stroke-width="0.55"/>
<line x1="343.88" y1="451.79" x2="345.88" y2="451.79" stroke="#e23a3a" stroke-width="0.55"/>
<line x1="347.54" y1="448.34" x2="347.54" y2="439.92" stroke="#e23a3a" stroke-width="0.55"/>
<line x1="346.54" y1="439.92" x2="348.54" y2="439.92" stroke="#e23a3a" stroke-width="0.55"/>
<line x1="350.20" y1="438.48" x2="350.20" y2="429.13" stroke="#e23a3a" stroke-width="0.55"/>
<line x1="349.20" y1="429.13" x2="351.20" y2="429.13" stroke="#e23a3a" stroke-width="0.55"/>
<line x1="352.86" y1="434.88" x2="352.86" y2="426.05" stroke="#e23a3a" stroke-width="0.55"/>
<line x1="351.86" y1="426.05" x2="353.86" y2="426.05" stroke="#e23a3a" stroke-width="0.55"/>
<line x1="355.52" y1="434.11" x2="355.52" y2="425.88" stroke="#e23a3a" stroke-width="0.55"/>
<line x1="354.52" y1="425.88" x2="356.52" y2="425.88" stroke="#e23a3a" stroke-width="0.55"/>
<line x1="358.18" y1="433.58" x2="358.18" y2="426.88" stroke="#e23a3a" stroke-width="0.55"/>
<line x1="357.18" y1="426.88" x2="359.18" y2="426.88" stroke="#e23a3a" stroke-width="0.55"/>
<line x1="360.84" y1="435.25" x2="360.84" y2="429.24" stroke="#e23a3a" stroke-width="0.55"/>
<line x1="359.84" y1="429.24" x2="361.84" y2="429.24" stroke="#e23a3a" stroke-width="0.55"/>
<line x1="363.50" y1="436.34" x2="363.50" y2="431.10" stroke="#e23a3a" stroke-width="0.55"/>
<line x1="362.50" y1="431.10" x2="364.50" y2="431.10" stroke="#e23a3a" stroke-width="0.55"/>
<line x1="366.16" y1="437.46" x2="366.16" y2="431.88" stroke="#e23a3a" stroke-width="0.55"/>
<line x1="365.16" y1="431.88" x2="367.16" y2="431.88" stroke="#e23a3a" stroke-width="0.55"/>
<line x1="368.82" y1="439.17" x2="368.82" y2="434.08" stroke="#e23a3a" stroke-width="0.55"/>
<line x1="367.82" y1="434.08" x2="369.82" y2="434.08" stroke="#e23a3a" stroke-width="0.55"/>
<line x1="371.48" y1="440.21" x2="371.48" y2="435.47" stroke="#e23a3a" stroke-width="0.55"/>
<line x1="370.48" y1="435.47" x2="372.48" y2="435.47" stroke="#e23a3a" stroke-width="0.55"/>
<line x1="374.14" y1="441.90" x2="374.14" y2="437.26" stroke="#e23a3a" stroke-width="0.55"/>
<line x1="373.14" y1="437.26" x2="375.14" y2="437.26" stroke="#e23a3a" stroke-width="0.55"/>
<line x1="376.80" y1="443.18" x2="376.80" y2="438.81" stroke="#e23a3a" stroke-width="0.55"/>
<line x1="375.80" y1="438.81" x2="377.80" y2="438.81" stroke="#e23a3a" stroke-width="0.55"/>
<line x1="379.46" y1="444.92" x2="379.46" y2="440.86" stroke="#e23a3a" stroke-width="0.55"/>
<line x1="378.46" y1="440.86" x2="380.46" y2="440.86" stroke="#e23a3a" stroke-width="0.55"/>
<line x1="382.12" y1="446.45" x2="382.12" y2="442.50" stroke="#e23a3a" stroke-width="0.55"/>
<line x1="381.12" y1="442.50" x2="383.12" y2="442.50" stroke="#e23a3a" stroke-width="0.55"/>
<line x1="384.78" y1="447.83" x2="384.78" y2="443.56" stroke="#e23a3a" stroke-width="0.55"/>
<line x1="383.78" y1="443.56" x2="385.78" y2="443.56" stroke="#e23a3a" stroke-width="0.55"/>
<line x1="387.44" y1="450.10" x2="387.44" y2="446.33" stroke="#e23a3a" stroke-width="0.55"/>
<line x1="386.44" y1="446.33" x2="388.44" y2="446.33" stroke="#e23a3a" stroke-width="0.55"/>
<line x1="390.10" y1="451.77" x2="390.10" y2="447.78" stroke="#e23a3a" stroke-width="0.55"/>
<line x1="389.10" y1="447.78" x2="391.10" y2="447.78" stroke="#e23a3a" stroke-width="0.55"/>
<line x1="392.76" y1="452.22" x2="392.76" y2="448.66" stroke="#e23a3a" stroke-width="0.55"/>
<line x1="391.76" y1="448.66" x2="393.76" y2="448.66" stroke="#e23a3a" stroke-width="0.55"/>
<line x1="395.42" y1="454.54" x2="395.42" y2="450.98" stroke="#e23a3a" stroke-width="0.55"/>
<line x1="394.42" y1="450.98" x2="396.42" y2="450.98" stroke="#e23a3a" stroke-width="0.55"/>
<line x1="398.08" y1="455.12" x2="398.08" y2="451.44" stroke="#e23a3a" stroke-width="0.55"/>
<line x1="397.08" y1="451.44" x2="399.08" y2="451.44" stroke="#e23a3a" stroke-width="0.55"/>
<line x1="400.74" y1="456.51" x2="400.74" y2="453.02" stroke="#e23a3a" stroke-width="0.55"/>
<line x1="399.74" y1="453.02" x2="401.74" y2="453.02" stroke="#e23a3a" stroke-width="0.55"/>
<line x1="403.40" y1="458.47" x2="403.40" y2="454.89" stroke="#e23a3a" stroke-width="0.55"/>
<line x1="402.40" y1="454.89" x2="404.40" y2="454.89" stroke="#e23a3a" stroke-width="0.55"/>
<line x1="406.06" y1="458.86" x2="406.06" y2="454.97" stroke="#e23a3a" stroke-width="0.55"/>
<line x1="405.06" y1="454.97" x2="407.06" y2="454.97" stroke="#e23a3a" stroke-width="0.55"/>
<line x1="408.72" y1="460.10" x2="408.72" y2="456.26" stroke="#e23a3a" stroke-width="0.55"/>
<line x1="407.72" y1="456.26" x2="409.72" y2="456.26" stroke="#e23a3a" stroke-width="0.55"/>
<line x1="411.38" y1="461.66" x2="411.38" y2="457.89" stroke="#e23a3a" stroke-width="0.55"/>
<line x1="410.38" y1="457.89" x2="412.38" y2="457.89" stroke="#e23a3a" stroke-width="0.55"/>
<line x1="414.04" y1="462.84" x2="414.04" y2="459.19" stroke="#e23a3a" stroke-width="0.55"/>
<line x1="413.04" y1="459.19" x2="415.04" y2="459.19" stroke="#e23a3a" stroke-width="0.55"/>
<line x1="416.70" y1="464.05" x2="416.70" y2="460.26" stroke="#e23a3a" stroke-width="0.55"/>
<line x1="415.70" y1="460.26" x2="417.70" y2="460.26" stroke="#e23a3a" stroke-width="0.55"/>
<line x1="419.36" y1="465.23" x2="419.36" y2="461.45" stroke="#e23a3a" stroke-width="0.55"/>
<line x1="418.36" y1="461.45" x2="420.36" y2="461.45" stroke="#e23a3a" stroke-width="0.55"/>
<line x1="422.02" y1="465.40" x2="422.02" y2="461.85" stroke="#e23a3a" stroke-width="0.55"/>
<line x1="421.02" y1="461.85" x2="423.02" y2="461.85" stroke="#e23a3a" stroke-width="0.55"/>
<line x1="424.68" y1="465.95" x2="424.68" y2="462.32" stroke="#e23a3a" stroke-width="0.55"/>
<line x1="423.68" y1="462.32" x2="425.68" y2="462.32" stroke="#e23a3a" stroke-width="0.55"/>
<line x1="427.34" y1="466.18" x2="427.34" y2="462.94" stroke="#e23a3a" stroke-width="0.55"/>
<line x1="426.34" y1="462.94" x2="428.34" y2="462.94" stroke="#e23a3a" stroke-width="0.55"/>
<line x1="430.00" y1="466.74" x2="430.00" y2="463.15" stroke="#e23a3a" stroke-width="0.55"/>
<line x1="429.00" y1="463.15" x2="431.00" y2="463.15" stroke="#e23a3a" stroke-width="0.55"/>
<line x1="432.66" y1="467.26" x2="432.66" y2="463.84" stroke="#e23a3a" stroke-width="0.55"/>
<line x1="431.66" y1="463.84" x2="433.66" y2="463.84" stroke="#e23a3a" stroke-width="0.55"/>
<line x1="435.32" y1="468.01" x2="435.32" y2="464.44" stroke="#e23a3a" stroke-width="0.55"/>
<line x1="434.32" y1="464.44" x2="436.32" y2="464.44" stroke="#e23a3a" stroke-width="0.55"/>
<line x1="437.98" y1="468.28" x2="437.98" y2="464.79" stroke="#e23a3a" stroke-width="0.55"/>
<line x1="436.98" y1="464.79" x2="438.98" y2="464.79" stroke="#e23a3a" stroke-width="0.55"/>
<line x1="440.64" y1="469.00" x2="440.64" y2="465.72" stroke="#e23a3a" stroke-width="0.55"/>
<line x1="439.64" y1="465.72" x2="441.64" y2="465.72" stroke="#e23a3a" stroke-width="0.55"/>
<line x1="443.30" y1="469.53" x2="443.30" y2="466.39" stroke="#e23a3a" stroke-width="0.55"/>
<line x1="442.30" y1="466.39" x2="444.30" y2="466.39" stroke="#e23a3a" stroke-width="0.55"/>
<line x1="445.96" y1="470.34" x2="445.96" y2="466.75" stroke="#e23a3a" stroke-width="0.55"/>
<line x1="444.96" y1="466.75" x2="446.96" y2="466.75" stroke="#e23a3a" stroke-width="0.55"/>
<line x1="448.62" y1="470.93" x2="448.62" y2="467.79" stroke="#e23a3a" stroke-width="0.55"/>
<line x1="447.62" y1="467.79" x2="449.62" y2="467.79" stroke="#e23a3a" stroke-width="0.55"/>
<line x1="451.28" y1="471.27" x2="451.28" y2="467.96" stroke="#e23a3a" stroke-width="0.55"/>
<line x1="450.28" y1="467.96" x2="452.28" y2="467.96" stroke="#e23a3a" stroke-width="0.55"/>
<line x1="453.94" y1="471.51" x2="453.94" y2="468.28" stroke="#e23a3a" stroke-width="0.55"/>
<line x1="452.94" y1="468.28" x2="454.94" y2="468.28" stroke="#e23a3a" stroke-width="0.55"/>
<line x1="456.60" y1="472.14" x2="456.60" y2="468.95" stroke="#e23a3a" stroke-width="0.55"/>
<line x1="455.60" y1="468.95" x2="457.60" y2="468.95" stroke="#e23a3a" stroke-width="0.55"/>
<line x1="459.26" y1="471.99" x2="459.26" y2="468.59" stroke="#e23a3a" stroke-width="0.55"/>
<line x1="458.26" y1="468.59" x2="460.26" y2="468.59" stroke="#e23a3a" stroke-width="0.55"/>
<line x1="461.92" y1="472.63" x2="461.92" y2="469.13" stroke="#e23a3a" stroke-width="0.55"/>
<line x1="460.92" y1="469.13" x2="462.92" y2="469.13" stroke="#e23a3a" stroke-width="0.55"/>
<line x1="464.58" y1="473.01" x2="464.58" y2="469.89" stroke="#e23a3a" stroke-width="0.55"/>
<line x1="463.58" y1="469.89" x2="465.58" y2="469.89" stroke="#e23a3a" stroke-width="0.55"/>
<line x1="467.24" y1="473.44" x2="467.24" y2="470.14" stroke="#e23a3a" stroke-width="0.55"/>
<line x1="466.24" y1="470.14" x2="468.24" y2="470.14" stroke="#e23a3a" stroke-width="0.55"/>
<line x1="469.90" y1="473.82" x2="469.90" y2="470.72" stroke="#e23a3a" stroke-width="0.55"/>
<line x1="468.90" y1="470.72" x2="470.90" y2="470.72" stroke="#e23a3a" stroke-width="0.55"/>
<line x1="472.56" y1="473.96" x2="472.56" y2="470.73" stroke="#e23a3a" stroke-width="0.55"/>
<line x1="471.56" y1="470.73" x2="473.56" y2="470.73" stroke="#e23a3a" stroke-width="0.55"/>
<polyline points="310.30,504.90 312.96,504.84 315.62,504.78 318.28,504.72 320.94,504.66 323.60,504.61 326.26,504.54 328.92,504.49 331.58,504.43 334.24,504.37 336.90,500.64 339.56,481.44 342.22,469.69 344.88,461.47 347.54,448.34 350.20,438.48 352.86,434.88 355.52,434.11 358.18,433.58 360.84,435.25 363.50,436.34 366.16,437.46 368.82,439.17 371.48,440.21 374.14,441.90 376.80,443.18 379.46,444.92 382.12,446.45 384.78,447.83 387.44,450.10 390.10,451.77 392.76,452.22 395.42,454.54 398.08,455.12 400.74,456.51 403.40,458.47 406.06,458.86 408.72,460.10 411.38,461.66 414.04,462.84 416.70,464.05 419.36,465.23 422.02,465.40 424.68,465.95 427.34,466.18 430.00,466.74 432.66,467.26 435.32,468.01 437.98,468.28 440.64,469.00 443.30,469.53 445.96,470.34 448.62,470.93 451.28,471.27 453.94,471.51 456.60,472.14 459.26,471.99 461.92,472.63 464.58,473.01 467.24,473.44 469.90,473.82 472.56,473.96" fill="none" stroke="#e23a3a" stroke-width="0.7" stroke-linejoin="round"/>
<circle cx="310.30" cy="504.90" r="1.3" fill="#fff" stroke="#e23a3a" stroke-width="0.55"/>
<circle cx="312.96" cy="504.84" r="1.3" fill="#fff" stroke="#e23a3a" stroke-width="0.55"/>
<circle cx="315.62" cy="504.78" r="1.3" fill="#fff" stroke="#e23a3a" stroke-width="0.55"/>
<circle cx="318.28" cy="504.72" r="1.3" fill="#fff" stroke="#e23a3a" stroke-width="0.55"/>
<circle cx="320.94" cy="504.66" r="1.3" fill="#fff" stroke="#e23a3a" stroke-width="0.55"/>
<circle cx="323.60" cy="504.61" r="1.3" fill="#fff" stroke="#e23a3a" stroke-width="0.55"/>
<circle cx="326.26" cy="504.54" r="1.3" fill="#fff" stroke="#e23a3a" stroke-width="0.55"/>
<circle cx="328.92" cy="504.49" r="1.3" fill="#fff" stroke="#e23a3a" stroke-width="0.55"/>
<circle cx="331.58" cy="504.43" r="1.3" fill="#fff" stroke="#e23a3a" stroke-width="0.55"/>
<circle cx="334.24" cy="504.37" r="1.3" fill="#fff" stroke="#e23a3a" stroke-width="0.55"/>
<circle cx="336.90" cy="500.64" r="1.3" fill="#fff" stroke="#e23a3a" stroke-width="0.55"/>
<circle cx="339.56" cy="481.44" r="1.3" fill="#fff" stroke="#e23a3a" stroke-width="0.55"/>
<circle cx="342.22" cy="469.69" r="1.3" fill="#fff" stroke="#e23a3a" stroke-width="0.55"/>
<circle cx="344.88" cy="461.47" r="1.3" fill="#fff" stroke="#e23a3a" stroke-width="0.55"/>
<circle cx="347.54" cy="448.34" r="1.3" fill="#fff" stroke="#e23a3a" stroke-width="0.55"/>
<circle cx="350.20" cy="438.48" r="1.3" fill="#fff" stroke="#e23a3a" stroke-width="0.55"/>
<circle cx="352.86" cy="434.88" r="1.3" fill="#fff" stroke="#e23a3a" stroke-width="0.55"/>
<circle cx="355.52" cy="434.11" r="1.3" fill="#fff" stroke="#e23a3a" stroke-width="0.55"/>
<circle cx="358.18" cy="433.58" r="1.3" fill="#fff" stroke="#e23a3a" stroke-width="0.55"/>
<circle cx="360.84" cy="435.25" r="1.3" fill="#fff" stroke="#e23a3a" stroke-width="0.55"/>
<circle cx="363.50" cy="436.34" r="1.3" fill="#fff" stroke="#e23a3a" stroke-width="0.55"/>
<circle cx="366.16" cy="437.46" r="1.3" fill="#fff" stroke="#e23a3a" stroke-width="0.55"/>
<circle cx="368.82" cy="439.17" r="1.3" fill="#fff" stroke="#e23a3a" stroke-width="0.55"/>
<circle cx="371.48" cy="440.21" r="1.3" fill="#fff" stroke="#e23a3a" stroke-width="0.55"/>
<circle cx="374.14" cy="441.90" r="1.3" fill="#fff" stroke="#e23a3a" stroke-width="0.55"/>
<circle cx="376.80" cy="443.18" r="1.3" fill="#fff" stroke="#e23a3a" stroke-width="0.55"/>
<circle cx="379.46" cy="444.92" r="1.3" fill="#fff" stroke="#e23a3a" stroke-width="0.55"/>
<circle cx="382.12" cy="446.45" r="1.3" fill="#fff" stroke="#e23a3a" stroke-width="0.55"/>
<circle cx="384.78" cy="447.83" r="1.3" fill="#fff" stroke="#e23a3a" stroke-width="0.55"/>
<circle cx="387.44" cy="450.10" r="1.3" fill="#fff" stroke="#e23a3a" stroke-width="0.55"/>
<circle cx="390.10" cy="451.77" r="1.3" fill="#fff" stroke="#e23a3a" stroke-width="0.55"/>
<circle cx="392.76" cy="452.22" r="1.3" fill="#fff" stroke="#e23a3a" stroke-width="0.55"/>
<circle cx="395.42" cy="454.54" r="1.3" fill="#fff" stroke="#e23a3a" stroke-width="0.55"/>
<circle cx="398.08" cy="455.12" r="1.3" fill="#fff" stroke="#e23a3a" stroke-width="0.55"/>
<circle cx="400.74" cy="456.51" r="1.3" fill="#fff" stroke="#e23a3a" stroke-width="0.55"/>
<circle cx="403.40" cy="458.47" r="1.3" fill="#fff" stroke="#e23a3a" stroke-width="0.55"/>
<circle cx="406.06" cy="458.86" r="1.3" fill="#fff" stroke="#e23a3a" stroke-width="0.55"/>
<circle cx="408.72" cy="460.10" r="1.3" fill="#fff" stroke="#e23a3a" stroke-width="0.55"/>
<circle cx="411.38" cy="461.66" r="1.3" fill="#fff" stroke="#e23a3a" stroke-width="0.55"/>
<circle cx="414.04" cy="462.84" r="1.3" fill="#fff" stroke="#e23a3a" stroke-width="0.55"/>
<circle cx="416.70" cy="464.05" r="1.3" fill="#fff" stroke="#e23a3a" stroke-width="0.55"/>
<circle cx="419.36" cy="465.23" r="1.3" fill="#fff" stroke="#e23a3a" stroke-width="0.55"/>
<circle cx="422.02" cy="465.40" r="1.3" fill="#fff" stroke="#e23a3a" stroke-width="0.55"/>
<circle cx="424.68" cy="465.95" r="1.3" fill="#fff" stroke="#e23a3a" stroke-width="0.55"/>
<circle cx="427.34" cy="466.18" r="1.3" fill="#fff" stroke="#e23a3a" stroke-width="0.55"/>
<circle cx="430.00" cy="466.74" r="1.3" fill="#fff" stroke="#e23a3a" stroke-width="0.55"/>
<circle cx="432.66" cy="467.26" r="1.3" fill="#fff" stroke="#e23a3a" stroke-width="0.55"/>
<circle cx="435.32" cy="468.01" r="1.3" fill="#fff" stroke="#e23a3a" stroke-width="0.55"/>
<circle cx="437.98" cy="468.28" r="1.3" fill="#fff" stroke="#e23a3a" stroke-width="0.55"/>
<circle cx="440.64" cy="469.00" r="1.3" fill="#fff" stroke="#e23a3a" stroke-width="0.55"/>
<circle cx="443.30" cy="469.53" r="1.3" fill="#fff" stroke="#e23a3a" stroke-width="0.55"/>
<circle cx="445.96" cy="470.34" r="1.3" fill="#fff" stroke="#e23a3a" stroke-width="0.55"/>
<circle cx="448.62" cy="470.93" r="1.3" fill="#fff" stroke="#e23a3a" stroke-width="0.55"/>
<circle cx="451.28" cy="471.27" r="1.3" fill="#fff" stroke="#e23a3a" stroke-width="0.55"/>
<circle cx="453.94" cy="471.51" r="1.3" fill="#fff" stroke="#e23a3a" stroke-width="0.55"/>
<circle cx="456.60" cy="472.14" r="1.3" fill="#fff" stroke="#e23a3a" stroke-width="0.55"/>
<circle cx="459.26" cy="471.99" r="1.3" fill="#fff" stroke="#e23a3a" stroke-width="0.55"/>
<circle cx="461.92" cy="472.63" r="1.3" fill="#fff" stroke="#e23a3a" stroke-width="0.55"/>
<circle cx="464.58" cy="473.01" r="1.3" fill="#fff" stroke="#e23a3a" stroke-width="0.55"/>
<circle cx="467.24" cy="473.44" r="1.3" fill="#fff" stroke="#e23a3a" stroke-width="0.55"/>
<circle cx="469.90" cy="473.82" r="1.3" fill="#fff" stroke="#e23a3a" stroke-width="0.55"/>
<circle cx="472.56" cy="473.96" r="1.3" fill="#fff" stroke="#e23a3a" stroke-width="0.55"/>
<line x1="334.24" y1="510.10" x2="469.90" y2="510.10" stroke="#1818d0" stroke-width="2.3"/>
<text x="400.70" y="505.60" font-size="8.6" text-anchor="middle" fill="#111" stroke="#111" stroke-width="0.22">40 mM [K<tspan dy="-3" font-size="5">+</tspan><tspan dy="3" font-size="1">&#8203;</tspan>]<tspan dy="1.6" font-size="6">o</tspan><tspan dy="-1.6" font-size="1">&#8203;</tspan></text>
<line x1="310.30" y1="397.60" x2="310.30" y2="515.20" stroke="#222" stroke-width="0.7"/>
<line x1="310.30" y1="515.20" x2="469.90" y2="515.20" stroke="#222" stroke-width="0.7"/>
<line x1="307.50" y1="504.90" x2="310.30" y2="504.90" stroke="#222" stroke-width="0.7"/>
<text x="304.10" y="507.90" font-size="8.3" text-anchor="end" fill="#111" stroke="#111" stroke-width="0.22">0</text>
<line x1="308.70" y1="494.23" x2="310.30" y2="494.23" stroke="#222" stroke-width="0.6"/>
<line x1="307.50" y1="483.56" x2="310.30" y2="483.56" stroke="#222" stroke-width="0.7"/>
<text x="304.10" y="486.56" font-size="8.3" text-anchor="end" fill="#111" stroke="#111" stroke-width="0.22">2</text>
<line x1="308.70" y1="472.89" x2="310.30" y2="472.89" stroke="#222" stroke-width="0.6"/>
<line x1="307.50" y1="462.22" x2="310.30" y2="462.22" stroke="#222" stroke-width="0.7"/>
<text x="304.10" y="465.22" font-size="8.3" text-anchor="end" fill="#111" stroke="#111" stroke-width="0.22">4</text>
<line x1="308.70" y1="451.55" x2="310.30" y2="451.55" stroke="#222" stroke-width="0.6"/>
<line x1="307.50" y1="440.88" x2="310.30" y2="440.88" stroke="#222" stroke-width="0.7"/>
<text x="304.10" y="443.88" font-size="8.3" text-anchor="end" fill="#111" stroke="#111" stroke-width="0.22">6</text>
<line x1="308.70" y1="430.21" x2="310.30" y2="430.21" stroke="#222" stroke-width="0.6"/>
<line x1="307.50" y1="419.54" x2="310.30" y2="419.54" stroke="#222" stroke-width="0.7"/>
<text x="304.10" y="422.54" font-size="8.3" text-anchor="end" fill="#111" stroke="#111" stroke-width="0.22">8</text>
<line x1="308.70" y1="408.87" x2="310.30" y2="408.87" stroke="#222" stroke-width="0.6"/>
<line x1="307.50" y1="398.20" x2="310.30" y2="398.20" stroke="#222" stroke-width="0.7"/>
<text x="304.10" y="401.20" font-size="8.3" text-anchor="end" fill="#111" stroke="#111" stroke-width="0.22">10</text>
<line x1="310.30" y1="515.20" x2="310.30" y2="517.80" stroke="#222" stroke-width="0.7"/>
<text x="310.30" y="527.50" font-size="8.3" text-anchor="middle" fill="#111" stroke="#111" stroke-width="0.22">0</text>
<line x1="336.90" y1="515.20" x2="336.90" y2="516.70" stroke="#222" stroke-width="0.6"/>
<line x1="363.50" y1="515.20" x2="363.50" y2="517.80" stroke="#222" stroke-width="0.7"/>
<text x="363.50" y="527.50" font-size="8.3" text-anchor="middle" fill="#111" stroke="#111" stroke-width="0.22">100</text>
<line x1="390.10" y1="515.20" x2="390.10" y2="516.70" stroke="#222" stroke-width="0.6"/>
<line x1="416.70" y1="515.20" x2="416.70" y2="517.80" stroke="#222" stroke-width="0.7"/>
<text x="416.70" y="527.50" font-size="8.3" text-anchor="middle" fill="#111" stroke="#111" stroke-width="0.22">200</text>
<line x1="443.30" y1="515.20" x2="443.30" y2="516.70" stroke="#222" stroke-width="0.6"/>
<line x1="469.90" y1="515.20" x2="469.90" y2="517.80" stroke="#222" stroke-width="0.7"/>
<text x="469.90" y="527.50" font-size="8.3" text-anchor="middle" fill="#111" stroke="#111" stroke-width="0.22">300</text>
<text x="289.20" y="456.55" font-size="8.2" text-anchor="middle" fill="#111" stroke="#111" stroke-width="0.22" transform="rotate(-90 289.20 456.55)"><tspan>Δ</tspan><tspan font-style="italic">F</tspan>/<tspan font-style="italic">F</tspan><tspan dy="1.8" font-size="5.5">0</tspan><tspan dy="-1.8" font-size="1">&#8203;</tspan></text>
<text x="390.00" y="540.50" font-size="8.4" text-anchor="middle" fill="#111" stroke="#111" stroke-width="0.22">Time (s)</text>
<rect x="378.10" y="391.30" width="79.60" height="20.70" fill="#fff" stroke="#444" stroke-width="0.6"/>
<line x1="382.00" y1="396.98" x2="395.50" y2="396.98" stroke="#e23a3a" stroke-width="0.7"/>
<circle cx="388.75" cy="396.98" r="1.3" fill="#fff" stroke="#e23a3a" stroke-width="0.55"/>
<text x="398.50" y="399.48" font-size="7.15" text-anchor="start" fill="#111" stroke="#111" stroke-width="0.22">GCaMP3-X<tspan dy="1.9" font-size="5.2">C</tspan><tspan dy="-1.9" font-size="1">&#8203;</tspan> (6)</text>
<line x1="382.00" y1="406.32" x2="395.50" y2="406.32" stroke="#e030e0" stroke-width="0.7"/>
<circle cx="388.75" cy="406.32" r="1.3" fill="#fff" stroke="#e030e0" stroke-width="0.55"/>
<text x="398.50" y="408.82" font-size="7.15" text-anchor="start" fill="#111" stroke="#111" stroke-width="0.22">GCaMP3-X<tspan dy="1.9" font-size="5.2">N</tspan><tspan dy="-1.9" font-size="1">&#8203;</tspan> (6)</text>
<line x1="545.20" y1="499.52" x2="545.20" y2="492.46" stroke="#aaa" stroke-width="0.55"/>
<line x1="544.20" y1="492.46" x2="546.20" y2="492.46" stroke="#aaa" stroke-width="0.55"/>
<line x1="547.87" y1="482.14" x2="547.87" y2="468.44" stroke="#aaa" stroke-width="0.55"/>
<line x1="546.87" y1="468.44" x2="548.87" y2="468.44" stroke="#aaa" stroke-width="0.55"/>
<line x1="550.54" y1="470.27" x2="550.54" y2="457.04" stroke="#aaa" stroke-width="0.55"/>
<line x1="549.54" y1="457.04" x2="551.54" y2="457.04" stroke="#aaa" stroke-width="0.55"/>
<line x1="553.21" y1="463.30" x2="553.21" y2="448.11" stroke="#aaa" stroke-width="0.55"/>
<line x1="552.21" y1="448.11" x2="554.21" y2="448.11" stroke="#aaa" stroke-width="0.55"/>
<line x1="555.88" y1="459.19" x2="555.88" y2="443.10" stroke="#aaa" stroke-width="0.55"/>
<line x1="554.88" y1="443.10" x2="556.88" y2="443.10" stroke="#aaa" stroke-width="0.55"/>
<line x1="558.55" y1="455.12" x2="558.55" y2="438.83" stroke="#aaa" stroke-width="0.55"/>
<line x1="557.55" y1="438.83" x2="559.55" y2="438.83" stroke="#aaa" stroke-width="0.55"/>
<line x1="561.22" y1="453.19" x2="561.22" y2="434.76" stroke="#aaa" stroke-width="0.55"/>
<line x1="560.22" y1="434.76" x2="562.22" y2="434.76" stroke="#aaa" stroke-width="0.55"/>
<line x1="563.89" y1="452.48" x2="563.89" y2="435.12" stroke="#aaa" stroke-width="0.55"/>
<line x1="562.89" y1="435.12" x2="564.89" y2="435.12" stroke="#aaa" stroke-width="0.55"/>
<line x1="566.56" y1="451.14" x2="566.56" y2="432.82" stroke="#aaa" stroke-width="0.55"/>
<line x1="565.56" y1="432.82" x2="567.56" y2="432.82" stroke="#aaa" stroke-width="0.55"/>
<line x1="569.23" y1="451.24" x2="569.23" y2="434.45" stroke="#aaa" stroke-width="0.55"/>
<line x1="568.23" y1="434.45" x2="570.23" y2="434.45" stroke="#aaa" stroke-width="0.55"/>
<line x1="571.90" y1="450.98" x2="571.90" y2="432.84" stroke="#aaa" stroke-width="0.55"/>
<line x1="570.90" y1="432.84" x2="572.90" y2="432.84" stroke="#aaa" stroke-width="0.55"/>
<line x1="574.57" y1="450.90" x2="574.57" y2="433.80" stroke="#aaa" stroke-width="0.55"/>
<line x1="573.57" y1="433.80" x2="575.57" y2="433.80" stroke="#aaa" stroke-width="0.55"/>
<line x1="577.24" y1="450.98" x2="577.24" y2="434.29" stroke="#aaa" stroke-width="0.55"/>
<line x1="576.24" y1="434.29" x2="578.24" y2="434.29" stroke="#aaa" stroke-width="0.55"/>
<line x1="579.91" y1="451.06" x2="579.91" y2="432.83" stroke="#aaa" stroke-width="0.55"/>
<line x1="578.91" y1="432.83" x2="580.91" y2="432.83" stroke="#aaa" stroke-width="0.55"/>
<line x1="582.58" y1="450.57" x2="582.58" y2="431.75" stroke="#aaa" stroke-width="0.55"/>
<line x1="581.58" y1="431.75" x2="583.58" y2="431.75" stroke="#aaa" stroke-width="0.55"/>
<line x1="585.25" y1="450.65" x2="585.25" y2="434.09" stroke="#aaa" stroke-width="0.55"/>
<line x1="584.25" y1="434.09" x2="586.25" y2="434.09" stroke="#aaa" stroke-width="0.55"/>
<line x1="587.92" y1="450.04" x2="587.92" y2="431.99" stroke="#aaa" stroke-width="0.55"/>
<line x1="586.92" y1="431.99" x2="588.92" y2="431.99" stroke="#aaa" stroke-width="0.55"/>
<line x1="590.59" y1="451.30" x2="590.59" y2="433.07" stroke="#aaa" stroke-width="0.55"/>
<line x1="589.59" y1="433.07" x2="591.59" y2="433.07" stroke="#aaa" stroke-width="0.55"/>
<line x1="593.26" y1="450.39" x2="593.26" y2="433.21" stroke="#aaa" stroke-width="0.55"/>
<line x1="592.26" y1="433.21" x2="594.26" y2="433.21" stroke="#aaa" stroke-width="0.55"/>
<line x1="595.93" y1="451.55" x2="595.93" y2="433.83" stroke="#aaa" stroke-width="0.55"/>
<line x1="594.93" y1="433.83" x2="596.93" y2="433.83" stroke="#aaa" stroke-width="0.55"/>
<line x1="598.60" y1="451.53" x2="598.60" y2="434.37" stroke="#aaa" stroke-width="0.55"/>
<line x1="597.60" y1="434.37" x2="599.60" y2="434.37" stroke="#aaa" stroke-width="0.55"/>
<line x1="601.27" y1="451.10" x2="601.27" y2="433.65" stroke="#aaa" stroke-width="0.55"/>
<line x1="600.27" y1="433.65" x2="602.27" y2="433.65" stroke="#aaa" stroke-width="0.55"/>
<line x1="603.94" y1="451.26" x2="603.94" y2="433.56" stroke="#aaa" stroke-width="0.55"/>
<line x1="602.94" y1="433.56" x2="604.94" y2="433.56" stroke="#aaa" stroke-width="0.55"/>
<line x1="606.61" y1="451.92" x2="606.61" y2="433.09" stroke="#aaa" stroke-width="0.55"/>
<line x1="605.61" y1="433.09" x2="607.61" y2="433.09" stroke="#aaa" stroke-width="0.55"/>
<line x1="609.28" y1="452.56" x2="609.28" y2="433.48" stroke="#aaa" stroke-width="0.55"/>
<line x1="608.28" y1="433.48" x2="610.28" y2="433.48" stroke="#aaa" stroke-width="0.55"/>
<line x1="611.95" y1="452.19" x2="611.95" y2="434.33" stroke="#aaa" stroke-width="0.55"/>
<line x1="610.95" y1="434.33" x2="612.95" y2="434.33" stroke="#aaa" stroke-width="0.55"/>
<line x1="614.62" y1="452.47" x2="614.62" y2="435.10" stroke="#aaa" stroke-width="0.55"/>
<line x1="613.62" y1="435.10" x2="615.62" y2="435.10" stroke="#aaa" stroke-width="0.55"/>
<line x1="617.29" y1="451.95" x2="617.29" y2="433.51" stroke="#aaa" stroke-width="0.55"/>
<line x1="616.29" y1="433.51" x2="618.29" y2="433.51" stroke="#aaa" stroke-width="0.55"/>
<line x1="619.96" y1="453.02" x2="619.96" y2="433.41" stroke="#aaa" stroke-width="0.55"/>
<line x1="618.96" y1="433.41" x2="620.96" y2="433.41" stroke="#aaa" stroke-width="0.55"/>
<line x1="622.63" y1="452.97" x2="622.63" y2="434.76" stroke="#aaa" stroke-width="0.55"/>
<line x1="621.63" y1="434.76" x2="623.63" y2="434.76" stroke="#aaa" stroke-width="0.55"/>
<line x1="625.30" y1="452.46" x2="625.30" y2="433.76" stroke="#aaa" stroke-width="0.55"/>
<line x1="624.30" y1="433.76" x2="626.30" y2="433.76" stroke="#aaa" stroke-width="0.55"/>
<line x1="627.97" y1="453.60" x2="627.97" y2="435.38" stroke="#aaa" stroke-width="0.55"/>
<line x1="626.97" y1="435.38" x2="628.97" y2="435.38" stroke="#aaa" stroke-width="0.55"/>
<line x1="630.64" y1="453.17" x2="630.64" y2="433.32" stroke="#aaa" stroke-width="0.55"/>
<line x1="629.64" y1="433.32" x2="631.64" y2="433.32" stroke="#aaa" stroke-width="0.55"/>
<line x1="633.31" y1="452.73" x2="633.31" y2="433.79" stroke="#aaa" stroke-width="0.55"/>
<line x1="632.31" y1="433.79" x2="634.31" y2="433.79" stroke="#aaa" stroke-width="0.55"/>
<line x1="635.98" y1="452.84" x2="635.98" y2="435.51" stroke="#aaa" stroke-width="0.55"/>
<line x1="634.98" y1="435.51" x2="636.98" y2="435.51" stroke="#aaa" stroke-width="0.55"/>
<line x1="638.65" y1="453.79" x2="638.65" y2="436.50" stroke="#aaa" stroke-width="0.55"/>
<line x1="637.65" y1="436.50" x2="639.65" y2="436.50" stroke="#aaa" stroke-width="0.55"/>
<line x1="641.32" y1="453.85" x2="641.32" y2="435.85" stroke="#aaa" stroke-width="0.55"/>
<line x1="640.32" y1="435.85" x2="642.32" y2="435.85" stroke="#aaa" stroke-width="0.55"/>
<line x1="643.99" y1="453.87" x2="643.99" y2="435.57" stroke="#aaa" stroke-width="0.55"/>
<line x1="642.99" y1="435.57" x2="644.99" y2="435.57" stroke="#aaa" stroke-width="0.55"/>
<line x1="646.66" y1="452.87" x2="646.66" y2="434.47" stroke="#aaa" stroke-width="0.55"/>
<line x1="645.66" y1="434.47" x2="647.66" y2="434.47" stroke="#aaa" stroke-width="0.55"/>
<line x1="649.33" y1="453.74" x2="649.33" y2="437.07" stroke="#aaa" stroke-width="0.55"/>
<line x1="648.33" y1="437.07" x2="650.33" y2="437.07" stroke="#aaa" stroke-width="0.55"/>
<line x1="652.00" y1="453.19" x2="652.00" y2="436.47" stroke="#aaa" stroke-width="0.55"/>
<line x1="651.00" y1="436.47" x2="653.00" y2="436.47" stroke="#aaa" stroke-width="0.55"/>
<line x1="654.67" y1="453.11" x2="654.67" y2="435.05" stroke="#aaa" stroke-width="0.55"/>
<line x1="653.67" y1="435.05" x2="655.67" y2="435.05" stroke="#aaa" stroke-width="0.55"/>
<line x1="657.34" y1="453.90" x2="657.34" y2="436.80" stroke="#aaa" stroke-width="0.55"/>
<line x1="656.34" y1="436.80" x2="658.34" y2="436.80" stroke="#aaa" stroke-width="0.55"/>
<line x1="660.01" y1="454.09" x2="660.01" y2="437.50" stroke="#aaa" stroke-width="0.55"/>
<line x1="659.01" y1="437.50" x2="661.01" y2="437.50" stroke="#aaa" stroke-width="0.55"/>
<line x1="662.68" y1="453.36" x2="662.68" y2="436.86" stroke="#aaa" stroke-width="0.55"/>
<line x1="661.68" y1="436.86" x2="663.68" y2="436.86" stroke="#aaa" stroke-width="0.55"/>
<line x1="665.35" y1="453.88" x2="665.35" y2="435.79" stroke="#aaa" stroke-width="0.55"/>
<line x1="664.35" y1="435.79" x2="666.35" y2="435.79" stroke="#aaa" stroke-width="0.55"/>
<line x1="668.02" y1="454.42" x2="668.02" y2="438.22" stroke="#aaa" stroke-width="0.55"/>
<line x1="667.02" y1="438.22" x2="669.02" y2="438.22" stroke="#aaa" stroke-width="0.55"/>
<line x1="670.69" y1="453.98" x2="670.69" y2="437.26" stroke="#aaa" stroke-width="0.55"/>
<line x1="669.69" y1="437.26" x2="671.69" y2="437.26" stroke="#aaa" stroke-width="0.55"/>
<line x1="673.36" y1="454.57" x2="673.36" y2="438.56" stroke="#aaa" stroke-width="0.55"/>
<line x1="672.36" y1="438.56" x2="674.36" y2="438.56" stroke="#aaa" stroke-width="0.55"/>
<line x1="676.03" y1="454.73" x2="676.03" y2="438.72" stroke="#aaa" stroke-width="0.55"/>
<line x1="675.03" y1="438.72" x2="677.03" y2="438.72" stroke="#aaa" stroke-width="0.55"/>
<line x1="678.70" y1="455.16" x2="678.70" y2="438.16" stroke="#aaa" stroke-width="0.55"/>
<line x1="677.70" y1="438.16" x2="679.70" y2="438.16" stroke="#aaa" stroke-width="0.55"/>
<polyline points="518.50,504.90 521.17,504.90 523.84,504.90 526.51,504.90 529.18,504.90 531.85,504.90 534.52,504.90 537.19,504.90 539.86,504.90 542.53,504.90 545.20,499.52 547.87,482.14 550.54,470.27 553.21,463.30 555.88,459.19 558.55,455.12 561.22,453.19 563.89,452.48 566.56,451.14 569.23,451.24 571.90,450.98 574.57,450.90 577.24,450.98 579.91,451.06 582.58,450.57 585.25,450.65 587.92,450.04 590.59,451.30 593.26,450.39 595.93,451.55 598.60,451.53 601.27,451.10 603.94,451.26 606.61,451.92 609.28,452.56 611.95,452.19 614.62,452.47 617.29,451.95 619.96,453.02 622.63,452.97 625.30,452.46 627.97,453.60 630.64,453.17 633.31,452.73 635.98,452.84 638.65,453.79 641.32,453.85 643.99,453.87 646.66,452.87 649.33,453.74 652.00,453.19 654.67,453.11 657.34,453.90 660.01,454.09 662.68,453.36 665.35,453.88 668.02,454.42 670.69,453.98 673.36,454.57 676.03,454.73 678.70,455.16" fill="none" stroke="#aaa" stroke-width="0.7" stroke-linejoin="round"/>
<circle cx="518.50" cy="504.90" r="1.3" fill="#fff" stroke="#aaa" stroke-width="0.55"/>
<circle cx="521.17" cy="504.90" r="1.3" fill="#fff" stroke="#aaa" stroke-width="0.55"/>
<circle cx="523.84" cy="504.90" r="1.3" fill="#fff" stroke="#aaa" stroke-width="0.55"/>
<circle cx="526.51" cy="504.90" r="1.3" fill="#fff" stroke="#aaa" stroke-width="0.55"/>
<circle cx="529.18" cy="504.90" r="1.3" fill="#fff" stroke="#aaa" stroke-width="0.55"/>
<circle cx="531.85" cy="504.90" r="1.3" fill="#fff" stroke="#aaa" stroke-width="0.55"/>
<circle cx="534.52" cy="504.90" r="1.3" fill="#fff" stroke="#aaa" stroke-width="0.55"/>
<circle cx="537.19" cy="504.90" r="1.3" fill="#fff" stroke="#aaa" stroke-width="0.55"/>
<circle cx="539.86" cy="504.90" r="1.3" fill="#fff" stroke="#aaa" stroke-width="0.55"/>
<circle cx="542.53" cy="504.90" r="1.3" fill="#fff" stroke="#aaa" stroke-width="0.55"/>
<circle cx="545.20" cy="499.52" r="1.3" fill="#fff" stroke="#aaa" stroke-width="0.55"/>
<circle cx="547.87" cy="482.14" r="1.3" fill="#fff" stroke="#aaa" stroke-width="0.55"/>
<circle cx="550.54" cy="470.27" r="1.3" fill="#fff" stroke="#aaa" stroke-width="0.55"/>
<circle cx="553.21" cy="463.30" r="1.3" fill="#fff" stroke="#aaa" stroke-width="0.55"/>
<circle cx="555.88" cy="459.19" r="1.3" fill="#fff" stroke="#aaa" stroke-width="0.55"/>
<circle cx="558.55" cy="455.12" r="1.3" fill="#fff" stroke="#aaa" stroke-width="0.55"/>
<circle cx="561.22" cy="453.19" r="1.3" fill="#fff" stroke="#aaa" stroke-width="0.55"/>
<circle cx="563.89" cy="452.48" r="1.3" fill="#fff" stroke="#aaa" stroke-width="0.55"/>
<circle cx="566.56" cy="451.14" r="1.3" fill="#fff" stroke="#aaa" stroke-width="0.55"/>
<circle cx="569.23" cy="451.24" r="1.3" fill="#fff" stroke="#aaa" stroke-width="0.55"/>
<circle cx="571.90" cy="450.98" r="1.3" fill="#fff" stroke="#aaa" stroke-width="0.55"/>
<circle cx="574.57" cy="450.90" r="1.3" fill="#fff" stroke="#aaa" stroke-width="0.55"/>
<circle cx="577.24" cy="450.98" r="1.3" fill="#fff" stroke="#aaa" stroke-width="0.55"/>
<circle cx="579.91" cy="451.06" r="1.3" fill="#fff" stroke="#aaa" stroke-width="0.55"/>
<circle cx="582.58" cy="450.57" r="1.3" fill="#fff" stroke="#aaa" stroke-width="0.55"/>
<circle cx="585.25" cy="450.65" r="1.3" fill="#fff" stroke="#aaa" stroke-width="0.55"/>
<circle cx="587.92" cy="450.04" r="1.3" fill="#fff" stroke="#aaa" stroke-width="0.55"/>
<circle cx="590.59" cy="451.30" r="1.3" fill="#fff" stroke="#aaa" stroke-width="0.55"/>
<circle cx="593.26" cy="450.39" r="1.3" fill="#fff" stroke="#aaa" stroke-width="0.55"/>
<circle cx="595.93" cy="451.55" r="1.3" fill="#fff" stroke="#aaa" stroke-width="0.55"/>
<circle cx="598.60" cy="451.53" r="1.3" fill="#fff" stroke="#aaa" stroke-width="0.55"/>
<circle cx="601.27" cy="451.10" r="1.3" fill="#fff" stroke="#aaa" stroke-width="0.55"/>
<circle cx="603.94" cy="451.26" r="1.3" fill="#fff" stroke="#aaa" stroke-width="0.55"/>
<circle cx="606.61" cy="451.92" r="1.3" fill="#fff" stroke="#aaa" stroke-width="0.55"/>
<circle cx="609.28" cy="452.56" r="1.3" fill="#fff" stroke="#aaa" stroke-width="0.55"/>
<circle cx="611.95" cy="452.19" r="1.3" fill="#fff" stroke="#aaa" stroke-width="0.55"/>
<circle cx="614.62" cy="452.47" r="1.3" fill="#fff" stroke="#aaa" stroke-width="0.55"/>
<circle cx="617.29" cy="451.95" r="1.3" fill="#fff" stroke="#aaa" stroke-width="0.55"/>
<circle cx="619.96" cy="453.02" r="1.3" fill="#fff" stroke="#aaa" stroke-width="0.55"/>
<circle cx="622.63" cy="452.97" r="1.3" fill="#fff" stroke="#aaa" stroke-width="0.55"/>
<circle cx="625.30" cy="452.46" r="1.3" fill="#fff" stroke="#aaa" stroke-width="0.55"/>
<circle cx="627.97" cy="453.60" r="1.3" fill="#fff" stroke="#aaa" stroke-width="0.55"/>
<circle cx="630.64" cy="453.17" r="1.3" fill="#fff" stroke="#aaa" stroke-width="0.55"/>
<circle cx="633.31" cy="452.73" r="1.3" fill="#fff" stroke="#aaa" stroke-width="0.55"/>
<circle cx="635.98" cy="452.84" r="1.3" fill="#fff" stroke="#aaa" stroke-width="0.55"/>
<circle cx="638.65" cy="453.79" r="1.3" fill="#fff" stroke="#aaa" stroke-width="0.55"/>
<circle cx="641.32" cy="453.85" r="1.3" fill="#fff" stroke="#aaa" stroke-width="0.55"/>
<circle cx="643.99" cy="453.87" r="1.3" fill="#fff" stroke="#aaa" stroke-width="0.55"/>
<circle cx="646.66" cy="452.87" r="1.3" fill="#fff" stroke="#aaa" stroke-width="0.55"/>
<circle cx="649.33" cy="453.74" r="1.3" fill="#fff" stroke="#aaa" stroke-width="0.55"/>
<circle cx="652.00" cy="453.19" r="1.3" fill="#fff" stroke="#aaa" stroke-width="0.55"/>
<circle cx="654.67" cy="453.11" r="1.3" fill="#fff" stroke="#aaa" stroke-width="0.55"/>
<circle cx="657.34" cy="453.90" r="1.3" fill="#fff" stroke="#aaa" stroke-width="0.55"/>
<circle cx="660.01" cy="454.09" r="1.3" fill="#fff" stroke="#aaa" stroke-width="0.55"/>
<circle cx="662.68" cy="453.36" r="1.3" fill="#fff" stroke="#aaa" stroke-width="0.55"/>
<circle cx="665.35" cy="453.88" r="1.3" fill="#fff" stroke="#aaa" stroke-width="0.55"/>
<circle cx="668.02" cy="454.42" r="1.3" fill="#fff" stroke="#aaa" stroke-width="0.55"/>
<circle cx="670.69" cy="453.98" r="1.3" fill="#fff" stroke="#aaa" stroke-width="0.55"/>
<circle cx="673.36" cy="454.57" r="1.3" fill="#fff" stroke="#aaa" stroke-width="0.55"/>
<circle cx="676.03" cy="454.73" r="1.3" fill="#fff" stroke="#aaa" stroke-width="0.55"/>
<circle cx="678.70" cy="455.16" r="1.3" fill="#fff" stroke="#aaa" stroke-width="0.55"/>
<line x1="545.20" y1="501.67" x2="545.20" y2="497.30" stroke="#e23a3a" stroke-width="0.55"/>
<line x1="544.20" y1="497.30" x2="546.20" y2="497.30" stroke="#e23a3a" stroke-width="0.55"/>
<line x1="547.87" y1="492.17" x2="547.87" y2="483.70" stroke="#e23a3a" stroke-width="0.55"/>
<line x1="546.87" y1="483.70" x2="548.87" y2="483.70" stroke="#e23a3a" stroke-width="0.55"/>
<line x1="550.54" y1="483.70" x2="550.54" y2="473.00" stroke="#e23a3a" stroke-width="0.55"/>
<line x1="549.54" y1="473.00" x2="551.54" y2="473.00" stroke="#e23a3a" stroke-width="0.55"/>
<line x1="553.21" y1="474.89" x2="553.21" y2="461.16" stroke="#e23a3a" stroke-width="0.55"/>
<line x1="552.21" y1="461.16" x2="554.21" y2="461.16" stroke="#e23a3a" stroke-width="0.55"/>
<line x1="555.88" y1="468.41" x2="555.88" y2="454.18" stroke="#e23a3a" stroke-width="0.55"/>
<line x1="554.88" y1="454.18" x2="556.88" y2="454.18" stroke="#e23a3a" stroke-width="0.55"/>
<line x1="558.55" y1="464.31" x2="558.55" y2="448.03" stroke="#e23a3a" stroke-width="0.55"/>
<line x1="557.55" y1="448.03" x2="559.55" y2="448.03" stroke="#e23a3a" stroke-width="0.55"/>
<line x1="561.22" y1="460.22" x2="561.22" y2="443.54" stroke="#e23a3a" stroke-width="0.55"/>
<line x1="560.22" y1="443.54" x2="562.22" y2="443.54" stroke="#e23a3a" stroke-width="0.55"/>
<line x1="563.89" y1="457.66" x2="563.89" y2="440.20" stroke="#e23a3a" stroke-width="0.55"/>
<line x1="562.89" y1="440.20" x2="564.89" y2="440.20" stroke="#e23a3a" stroke-width="0.55"/>
<line x1="566.56" y1="456.21" x2="566.56" y2="438.33" stroke="#e23a3a" stroke-width="0.55"/>
<line x1="565.56" y1="438.33" x2="567.56" y2="438.33" stroke="#e23a3a" stroke-width="0.55"/>
<line x1="569.23" y1="454.27" x2="569.23" y2="436.30" stroke="#e23a3a" stroke-width="0.55"/>
<line x1="568.23" y1="436.30" x2="570.23" y2="436.30" stroke="#e23a3a" stroke-width="0.55"/>
<line x1="571.90" y1="453.01" x2="571.90" y2="435.30" stroke="#e23a3a" stroke-width="0.55"/>
<line x1="570.90" y1="435.30" x2="572.90" y2="435.30" stroke="#e23a3a" stroke-width="0.55"/>
<line x1="574.57" y1="451.57" x2="574.57" y2="433.73" stroke="#e23a3a" stroke-width="0.55"/>
<line x1="573.57" y1="433.73" x2="575.57" y2="433.73" stroke="#e23a3a" stroke-width="0.55"/>
<line x1="577.24" y1="451.16" x2="577.24" y2="433.05" stroke="#e23a3a" stroke-width="0.55"/>
<line x1="576.24" y1="433.05" x2="578.24" y2="433.05" stroke="#e23a3a" stroke-width="0.55"/>
<line x1="579.91" y1="450.05" x2="579.91" y2="430.51" stroke="#e23a3a" stroke-width="0.55"/>
<line x1="578.91" y1="430.51" x2="580.91" y2="430.51" stroke="#e23a3a" stroke-width="0.55"/>
<line x1="582.58" y1="449.78" x2="582.58" y2="432.20" stroke="#e23a3a" stroke-width="0.55"/>
<line x1="581.58" y1="432.20" x2="583.58" y2="432.20" stroke="#e23a3a" stroke-width="0.55"/>
<line x1="585.25" y1="450.12" x2="585.25" y2="432.03" stroke="#e23a3a" stroke-width="0.55"/>
<line x1="584.25" y1="432.03" x2="586.25" y2="432.03" stroke="#e23a3a" stroke-width="0.55"/>
<line x1="587.92" y1="450.12" x2="587.92" y2="430.17" stroke="#e23a3a" stroke-width="0.55"/>
<line x1="586.92" y1="430.17" x2="588.92" y2="430.17" stroke="#e23a3a" stroke-width="0.55"/>
<line x1="590.59" y1="449.20" x2="590.59" y2="430.65" stroke="#e23a3a" stroke-width="0.55"/>
<line x1="589.59" y1="430.65" x2="591.59" y2="430.65" stroke="#e23a3a" stroke-width="0.55"/>
<line x1="593.26" y1="449.56" x2="593.26" y2="431.42" stroke="#e23a3a" stroke-width="0.55"/>
<line x1="592.26" y1="431.42" x2="594.26" y2="431.42" stroke="#e23a3a" stroke-width="0.55"/>
<line x1="595.93" y1="450.10" x2="595.93" y2="431.91" stroke="#e23a3a" stroke-width="0.55"/>
<line x1="594.93" y1="431.91" x2="596.93" y2="431.91" stroke="#e23a3a" stroke-width="0.55"/>
<line x1="598.60" y1="450.50" x2="598.60" y2="430.52" stroke="#e23a3a" stroke-width="0.55"/>
<line x1="597.60" y1="430.52" x2="599.60" y2="430.52" stroke="#e23a3a" stroke-width="0.55"/>
<line x1="601.27" y1="449.89" x2="601.27" y2="430.47" stroke="#e23a3a" stroke-width="0.55"/>
<line x1="600.27" y1="430.47" x2="602.27" y2="430.47" stroke="#e23a3a" stroke-width="0.55"/>
<line x1="603.94" y1="449.68" x2="603.94" y2="428.00" stroke="#e23a3a" stroke-width="0.55"/>
<line x1="602.94" y1="428.00" x2="604.94" y2="428.00" stroke="#e23a3a" stroke-width="0.55"/>
<line x1="606.61" y1="450.03" x2="606.61" y2="428.49" stroke="#e23a3a" stroke-width="0.55"/>
<line x1="605.61" y1="428.49" x2="607.61" y2="428.49" stroke="#e23a3a" stroke-width="0.55"/>
<line x1="609.28" y1="450.27" x2="609.28" y2="428.22" stroke="#e23a3a" stroke-width="0.55"/>
<line x1="608.28" y1="428.22" x2="610.28" y2="428.22" stroke="#e23a3a" stroke-width="0.55"/>
<line x1="611.95" y1="449.75" x2="611.95" y2="429.91" stroke="#e23a3a" stroke-width="0.55"/>
<line x1="610.95" y1="429.91" x2="612.95" y2="429.91" stroke="#e23a3a" stroke-width="0.55"/>
<line x1="614.62" y1="449.43" x2="614.62" y2="430.04" stroke="#e23a3a" stroke-width="0.55"/>
<line x1="613.62" y1="430.04" x2="615.62" y2="430.04" stroke="#e23a3a" stroke-width="0.55"/>
<line x1="617.29" y1="450.37" x2="617.29" y2="430.79" stroke="#e23a3a" stroke-width="0.55"/>
<line x1="616.29" y1="430.79" x2="618.29" y2="430.79" stroke="#e23a3a" stroke-width="0.55"/>
<line x1="619.96" y1="450.65" x2="619.96" y2="429.55" stroke="#e23a3a" stroke-width="0.55"/>
<line x1="618.96" y1="429.55" x2="620.96" y2="429.55" stroke="#e23a3a" stroke-width="0.55"/>
<line x1="622.63" y1="450.27" x2="622.63" y2="428.29" stroke="#e23a3a" stroke-width="0.55"/>
<line x1="621.63" y1="428.29" x2="623.63" y2="428.29" stroke="#e23a3a" stroke-width="0.55"/>
<line x1="625.30" y1="450.18" x2="625.30" y2="428.94" stroke="#e23a3a" stroke-width="0.55"/>
<line x1="624.30" y1="428.94" x2="626.30" y2="428.94" stroke="#e23a3a" stroke-width="0.55"/>
<line x1="627.97" y1="449.85" x2="627.97" y2="429.55" stroke="#e23a3a" stroke-width="0.55"/>
<line x1="626.97" y1="429.55" x2="628.97" y2="429.55" stroke="#e23a3a" stroke-width="0.55"/>
<line x1="630.64" y1="450.51" x2="630.64" y2="429.80" stroke="#e23a3a" stroke-width="0.55"/>
<line x1="629.64" y1="429.80" x2="631.64" y2="429.80" stroke="#e23a3a" stroke-width="0.55"/>
<line x1="633.31" y1="449.74" x2="633.31" y2="428.57" stroke="#e23a3a" stroke-width="0.55"/>
<line x1="632.31" y1="428.57" x2="634.31" y2="428.57" stroke="#e23a3a" stroke-width="0.55"/>
<line x1="635.98" y1="449.84" x2="635.98" y2="428.71" stroke="#e23a3a" stroke-width="0.55"/>
<line x1="634.98" y1="428.71" x2="636.98" y2="428.71" stroke="#e23a3a" stroke-width="0.55"/>
<line x1="638.65" y1="450.17" x2="638.65" y2="429.01" stroke="#e23a3a" stroke-width="0.55"/>
<line x1="637.65" y1="429.01" x2="639.65" y2="429.01" stroke="#e23a3a" stroke-width="0.55"/>
<line x1="641.32" y1="450.58" x2="641.32" y2="429.33" stroke="#e23a3a" stroke-width="0.55"/>
<line x1="640.32" y1="429.33" x2="642.32" y2="429.33" stroke="#e23a3a" stroke-width="0.55"/>
<line x1="643.99" y1="449.60" x2="643.99" y2="429.16" stroke="#e23a3a" stroke-width="0.55"/>
<line x1="642.99" y1="429.16" x2="644.99" y2="429.16" stroke="#e23a3a" stroke-width="0.55"/>
<line x1="646.66" y1="450.48" x2="646.66" y2="431.97" stroke="#e23a3a" stroke-width="0.55"/>
<line x1="645.66" y1="431.97" x2="647.66" y2="431.97" stroke="#e23a3a" stroke-width="0.55"/>
<line x1="649.33" y1="449.84" x2="649.33" y2="429.28" stroke="#e23a3a" stroke-width="0.55"/>
<line x1="648.33" y1="429.28" x2="650.33" y2="429.28" stroke="#e23a3a" stroke-width="0.55"/>
<line x1="652.00" y1="450.63" x2="652.00" y2="431.99" stroke="#e23a3a" stroke-width="0.55"/>
<line x1="651.00" y1="431.99" x2="653.00" y2="431.99" stroke="#e23a3a" stroke-width="0.55"/>
<line x1="654.67" y1="450.86" x2="654.67" y2="431.59" stroke="#e23a3a" stroke-width="0.55"/>
<line x1="653.67" y1="431.59" x2="655.67" y2="431.59" stroke="#e23a3a" stroke-width="0.55"/>
<line x1="657.34" y1="450.37" x2="657.34" y2="431.90" stroke="#e23a3a" stroke-width="0.55"/>
<line x1="656.34" y1="431.90" x2="658.34" y2="431.90" stroke="#e23a3a" stroke-width="0.55"/>
<line x1="660.01" y1="451.19" x2="660.01" y2="431.84" stroke="#e23a3a" stroke-width="0.55"/>
<line x1="659.01" y1="431.84" x2="661.01" y2="431.84" stroke="#e23a3a" stroke-width="0.55"/>
<line x1="662.68" y1="450.55" x2="662.68" y2="433.02" stroke="#e23a3a" stroke-width="0.55"/>
<line x1="661.68" y1="433.02" x2="663.68" y2="433.02" stroke="#e23a3a" stroke-width="0.55"/>
<line x1="665.35" y1="451.36" x2="665.35" y2="433.88" stroke="#e23a3a" stroke-width="0.55"/>
<line x1="664.35" y1="433.88" x2="666.35" y2="433.88" stroke="#e23a3a" stroke-width="0.55"/>
<line x1="668.02" y1="452.07" x2="668.02" y2="434.81" stroke="#e23a3a" stroke-width="0.55"/>
<line x1="667.02" y1="434.81" x2="669.02" y2="434.81" stroke="#e23a3a" stroke-width="0.55"/>
<line x1="670.69" y1="452.34" x2="670.69" y2="435.55" stroke="#e23a3a" stroke-width="0.55"/>
<line x1="669.69" y1="435.55" x2="671.69" y2="435.55" stroke="#e23a3a" stroke-width="0.55"/>
<line x1="673.36" y1="452.42" x2="673.36" y2="433.77" stroke="#e23a3a" stroke-width="0.55"/>
<line x1="672.36" y1="433.77" x2="674.36" y2="433.77" stroke="#e23a3a" stroke-width="0.55"/>
<line x1="676.03" y1="452.43" x2="676.03" y2="434.86" stroke="#e23a3a" stroke-width="0.55"/>
<line x1="675.03" y1="434.86" x2="677.03" y2="434.86" stroke="#e23a3a" stroke-width="0.55"/>
<line x1="678.70" y1="452.40" x2="678.70" y2="435.74" stroke="#e23a3a" stroke-width="0.55"/>
<line x1="677.70" y1="435.74" x2="679.70" y2="435.74" stroke="#e23a3a" stroke-width="0.55"/>
<polyline points="518.50,504.90 521.17,504.90 523.84,504.90 526.51,504.90 529.18,504.90 531.85,504.90 534.52,504.90 537.19,504.90 539.86,504.90 542.53,504.90 545.20,501.67 547.87,492.17 550.54,483.70 553.21,474.89 555.88,468.41 558.55,464.31 561.22,460.22 563.89,457.66 566.56,456.21 569.23,454.27 571.90,453.01 574.57,451.57 577.24,451.16 579.91,450.05 582.58,449.78 585.25,450.12 587.92,450.12 590.59,449.20 593.26,449.56 595.93,450.10 598.60,450.50 601.27,449.89 603.94,449.68 606.61,450.03 609.28,450.27 611.95,449.75 614.62,449.43 617.29,450.37 619.96,450.65 622.63,450.27 625.30,450.18 627.97,449.85 630.64,450.51 633.31,449.74 635.98,449.84 638.65,450.17 641.32,450.58 643.99,449.60 646.66,450.48 649.33,449.84 652.00,450.63 654.67,450.86 657.34,450.37 660.01,451.19 662.68,450.55 665.35,451.36 668.02,452.07 670.69,452.34 673.36,452.42 676.03,452.43 678.70,452.40" fill="none" stroke="#e23a3a" stroke-width="0.7" stroke-linejoin="round"/>
<circle cx="518.50" cy="504.90" r="1.3" fill="#fff" stroke="#e23a3a" stroke-width="0.55"/>
<circle cx="521.17" cy="504.90" r="1.3" fill="#fff" stroke="#e23a3a" stroke-width="0.55"/>
<circle cx="523.84" cy="504.90" r="1.3" fill="#fff" stroke="#e23a3a" stroke-width="0.55"/>
<circle cx="526.51" cy="504.90" r="1.3" fill="#fff" stroke="#e23a3a" stroke-width="0.55"/>
<circle cx="529.18" cy="504.90" r="1.3" fill="#fff" stroke="#e23a3a" stroke-width="0.55"/>
<circle cx="531.85" cy="504.90" r="1.3" fill="#fff" stroke="#e23a3a" stroke-width="0.55"/>
<circle cx="534.52" cy="504.90" r="1.3" fill="#fff" stroke="#e23a3a" stroke-width="0.55"/>
<circle cx="537.19" cy="504.90" r="1.3" fill="#fff" stroke="#e23a3a" stroke-width="0.55"/>
<circle cx="539.86" cy="504.90" r="1.3" fill="#fff" stroke="#e23a3a" stroke-width="0.55"/>
<circle cx="542.53" cy="504.90" r="1.3" fill="#fff" stroke="#e23a3a" stroke-width="0.55"/>
<circle cx="545.20" cy="501.67" r="1.3" fill="#fff" stroke="#e23a3a" stroke-width="0.55"/>
<circle cx="547.87" cy="492.17" r="1.3" fill="#fff" stroke="#e23a3a" stroke-width="0.55"/>
<circle cx="550.54" cy="483.70" r="1.3" fill="#fff" stroke="#e23a3a" stroke-width="0.55"/>
<circle cx="553.21" cy="474.89" r="1.3" fill="#fff" stroke="#e23a3a" stroke-width="0.55"/>
<circle cx="555.88" cy="468.41" r="1.3" fill="#fff" stroke="#e23a3a" stroke-width="0.55"/>
<circle cx="558.55" cy="464.31" r="1.3" fill="#fff" stroke="#e23a3a" stroke-width="0.55"/>
<circle cx="561.22" cy="460.22" r="1.3" fill="#fff" stroke="#e23a3a" stroke-width="0.55"/>
<circle cx="563.89" cy="457.66" r="1.3" fill="#fff" stroke="#e23a3a" stroke-width="0.55"/>
<circle cx="566.56" cy="456.21" r="1.3" fill="#fff" stroke="#e23a3a" stroke-width="0.55"/>
<circle cx="569.23" cy="454.27" r="1.3" fill="#fff" stroke="#e23a3a" stroke-width="0.55"/>
<circle cx="571.90" cy="453.01" r="1.3" fill="#fff" stroke="#e23a3a" stroke-width="0.55"/>
<circle cx="574.57" cy="451.57" r="1.3" fill="#fff" stroke="#e23a3a" stroke-width="0.55"/>
<circle cx="577.24" cy="451.16" r="1.3" fill="#fff" stroke="#e23a3a" stroke-width="0.55"/>
<circle cx="579.91" cy="450.05" r="1.3" fill="#fff" stroke="#e23a3a" stroke-width="0.55"/>
<circle cx="582.58" cy="449.78" r="1.3" fill="#fff" stroke="#e23a3a" stroke-width="0.55"/>
<circle cx="585.25" cy="450.12" r="1.3" fill="#fff" stroke="#e23a3a" stroke-width="0.55"/>
<circle cx="587.92" cy="450.12" r="1.3" fill="#fff" stroke="#e23a3a" stroke-width="0.55"/>
<circle cx="590.59" cy="449.20" r="1.3" fill="#fff" stroke="#e23a3a" stroke-width="0.55"/>
<circle cx="593.26" cy="449.56" r="1.3" fill="#fff" stroke="#e23a3a" stroke-width="0.55"/>
<circle cx="595.93" cy="450.10" r="1.3" fill="#fff" stroke="#e23a3a" stroke-width="0.55"/>
<circle cx="598.60" cy="450.50" r="1.3" fill="#fff" stroke="#e23a3a" stroke-width="0.55"/>
<circle cx="601.27" cy="449.89" r="1.3" fill="#fff" stroke="#e23a3a" stroke-width="0.55"/>
<circle cx="603.94" cy="449.68" r="1.3" fill="#fff" stroke="#e23a3a" stroke-width="0.55"/>
<circle cx="606.61" cy="450.03" r="1.3" fill="#fff" stroke="#e23a3a" stroke-width="0.55"/>
<circle cx="609.28" cy="450.27" r="1.3" fill="#fff" stroke="#e23a3a" stroke-width="0.55"/>
<circle cx="611.95" cy="449.75" r="1.3" fill="#fff" stroke="#e23a3a" stroke-width="0.55"/>
<circle cx="614.62" cy="449.43" r="1.3" fill="#fff" stroke="#e23a3a" stroke-width="0.55"/>
<circle cx="617.29" cy="450.37" r="1.3" fill="#fff" stroke="#e23a3a" stroke-width="0.55"/>
<circle cx="619.96" cy="450.65" r="1.3" fill="#fff" stroke="#e23a3a" stroke-width="0.55"/>
<circle cx="622.63" cy="450.27" r="1.3" fill="#fff" stroke="#e23a3a" stroke-width="0.55"/>
<circle cx="625.30" cy="450.18" r="1.3" fill="#fff" stroke="#e23a3a" stroke-width="0.55"/>
<circle cx="627.97" cy="449.85" r="1.3" fill="#fff" stroke="#e23a3a" stroke-width="0.55"/>
<circle cx="630.64" cy="450.51" r="1.3" fill="#fff" stroke="#e23a3a" stroke-width="0.55"/>
<circle cx="633.31" cy="449.74" r="1.3" fill="#fff" stroke="#e23a3a" stroke-width="0.55"/>
<circle cx="635.98" cy="449.84" r="1.3" fill="#fff" stroke="#e23a3a" stroke-width="0.55"/>
<circle cx="638.65" cy="450.17" r="1.3" fill="#fff" stroke="#e23a3a" stroke-width="0.55"/>
<circle cx="641.32" cy="450.58" r="1.3" fill="#fff" stroke="#e23a3a" stroke-width="0.55"/>
<circle cx="643.99" cy="449.60" r="1.3" fill="#fff" stroke="#e23a3a" stroke-width="0.55"/>
<circle cx="646.66" cy="450.48" r="1.3" fill="#fff" stroke="#e23a3a" stroke-width="0.55"/>
<circle cx="649.33" cy="449.84" r="1.3" fill="#fff" stroke="#e23a3a" stroke-width="0.55"/>
<circle cx="652.00" cy="450.63" r="1.3" fill="#fff" stroke="#e23a3a" stroke-width="0.55"/>
<circle cx="654.67" cy="450.86" r="1.3" fill="#fff" stroke="#e23a3a" stroke-width="0.55"/>
<circle cx="657.34" cy="450.37" r="1.3" fill="#fff" stroke="#e23a3a" stroke-width="0.55"/>
<circle cx="660.01" cy="451.19" r="1.3" fill="#fff" stroke="#e23a3a" stroke-width="0.55"/>
<circle cx="662.68" cy="450.55" r="1.3" fill="#fff" stroke="#e23a3a" stroke-width="0.55"/>
<circle cx="665.35" cy="451.36" r="1.3" fill="#fff" stroke="#e23a3a" stroke-width="0.55"/>
<circle cx="668.02" cy="452.07" r="1.3" fill="#fff" stroke="#e23a3a" stroke-width="0.55"/>
<circle cx="670.69" cy="452.34" r="1.3" fill="#fff" stroke="#e23a3a" stroke-width="0.55"/>
<circle cx="673.36" cy="452.42" r="1.3" fill="#fff" stroke="#e23a3a" stroke-width="0.55"/>
<circle cx="676.03" cy="452.43" r="1.3" fill="#fff" stroke="#e23a3a" stroke-width="0.55"/>
<circle cx="678.70" cy="452.40" r="1.3" fill="#fff" stroke="#e23a3a" stroke-width="0.55"/>
<line x1="543.06" y1="511.00" x2="678.70" y2="511.00" stroke="#1818d0" stroke-width="2.3"/>
<text x="611.00" y="505.60" font-size="8.6" text-anchor="middle" fill="#111" stroke="#111" stroke-width="0.22">40 mM [K<tspan dy="-3" font-size="5">+</tspan><tspan dy="3" font-size="1">&#8203;</tspan>]<tspan dy="1.6" font-size="6">o</tspan><tspan dy="-1.6" font-size="1">&#8203;</tspan></text>
<line x1="518.50" y1="397.20" x2="518.50" y2="515.30" stroke="#222" stroke-width="0.7"/>
<line x1="518.50" y1="515.30" x2="678.70" y2="515.30" stroke="#222" stroke-width="0.7"/>
<line x1="515.70" y1="504.90" x2="518.50" y2="504.90" stroke="#222" stroke-width="0.7"/>
<text x="512.30" y="507.90" font-size="8.3" text-anchor="end" fill="#111" stroke="#111" stroke-width="0.22">0</text>
<line x1="516.90" y1="494.19" x2="518.50" y2="494.19" stroke="#222" stroke-width="0.6"/>
<line x1="515.70" y1="483.48" x2="518.50" y2="483.48" stroke="#222" stroke-width="0.7"/>
<text x="512.30" y="486.48" font-size="8.3" text-anchor="end" fill="#111" stroke="#111" stroke-width="0.22">2</text>
<line x1="516.90" y1="472.77" x2="518.50" y2="472.77" stroke="#222" stroke-width="0.6"/>
<line x1="515.70" y1="462.06" x2="518.50" y2="462.06" stroke="#222" stroke-width="0.7"/>
<text x="512.30" y="465.06" font-size="8.3" text-anchor="end" fill="#111" stroke="#111" stroke-width="0.22">4</text>
<line x1="516.90" y1="451.35" x2="518.50" y2="451.35" stroke="#222" stroke-width="0.6"/>
<line x1="515.70" y1="440.64" x2="518.50" y2="440.64" stroke="#222" stroke-width="0.7"/>
<text x="512.30" y="443.64" font-size="8.3" text-anchor="end" fill="#111" stroke="#111" stroke-width="0.22">6</text>
<line x1="516.90" y1="429.93" x2="518.50" y2="429.93" stroke="#222" stroke-width="0.6"/>
<line x1="515.70" y1="419.22" x2="518.50" y2="419.22" stroke="#222" stroke-width="0.7"/>
<text x="512.30" y="422.22" font-size="8.3" text-anchor="end" fill="#111" stroke="#111" stroke-width="0.22">8</text>
<line x1="516.90" y1="408.51" x2="518.50" y2="408.51" stroke="#222" stroke-width="0.6"/>
<line x1="515.70" y1="397.80" x2="518.50" y2="397.80" stroke="#222" stroke-width="0.7"/>
<text x="512.30" y="400.80" font-size="8.3" text-anchor="end" fill="#111" stroke="#111" stroke-width="0.22">10</text>
<line x1="518.50" y1="515.30" x2="518.50" y2="517.90" stroke="#222" stroke-width="0.7"/>
<text x="518.50" y="527.60" font-size="8.3" text-anchor="middle" fill="#111" stroke="#111" stroke-width="0.22">0</text>
<line x1="545.20" y1="515.30" x2="545.20" y2="516.80" stroke="#222" stroke-width="0.6"/>
<line x1="571.90" y1="515.30" x2="571.90" y2="517.90" stroke="#222" stroke-width="0.7"/>
<text x="571.90" y="527.60" font-size="8.3" text-anchor="middle" fill="#111" stroke="#111" stroke-width="0.22">100</text>
<line x1="598.60" y1="515.30" x2="598.60" y2="516.80" stroke="#222" stroke-width="0.6"/>
<line x1="625.30" y1="515.30" x2="625.30" y2="517.90" stroke="#222" stroke-width="0.7"/>
<text x="625.30" y="527.60" font-size="8.3" text-anchor="middle" fill="#111" stroke="#111" stroke-width="0.22">200</text>
<line x1="652.00" y1="515.30" x2="652.00" y2="516.80" stroke="#222" stroke-width="0.6"/>
<line x1="678.70" y1="515.30" x2="678.70" y2="517.90" stroke="#222" stroke-width="0.7"/>
<text x="678.70" y="527.60" font-size="8.3" text-anchor="middle" fill="#111" stroke="#111" stroke-width="0.22">300</text>
<text x="499.50" y="456.35" font-size="8.2" text-anchor="middle" fill="#111" stroke="#111" stroke-width="0.22" transform="rotate(-90 499.50 456.35)"><tspan>Δ</tspan><tspan font-style="italic">F</tspan>/<tspan font-style="italic">F</tspan><tspan dy="1.8" font-size="5.5">0</tspan><tspan dy="-1.8" font-size="1">&#8203;</tspan></text>
<text x="598.00" y="540.50" font-size="8.4" text-anchor="middle" fill="#111" stroke="#111" stroke-width="0.22">Time (s)</text>
<rect x="571.90" y="391.90" width="96.10" height="20.50" fill="#fff" stroke="#444" stroke-width="0.6"/>
<line x1="575.40" y1="397.52" x2="590.00" y2="397.52" stroke="#e23a3a" stroke-width="0.7"/>
<circle cx="582.70" cy="397.52" r="1.3" fill="#fff" stroke="#e23a3a" stroke-width="0.55"/>
<text x="594.00" y="400.02" font-size="6.72" text-anchor="start" fill="#111" stroke="#111" stroke-width="0.22">GCaMP3-X<tspan dy="1.9" font-size="5.2">C</tspan><tspan dy="-1.9" font-size="1">&#8203;</tspan> (10)</text>
<line x1="575.40" y1="406.77" x2="590.00" y2="406.77" stroke="#aaa" stroke-width="0.7"/>
<circle cx="582.70" cy="406.77" r="1.3" fill="#fff" stroke="#aaa" stroke-width="0.55"/>
<text x="594.00" y="409.27" font-size="6.72" text-anchor="start" fill="#111" stroke="#111" stroke-width="0.22">NLS-GCaMP3-NLS (10)</text>
</svg>
</body></html>
